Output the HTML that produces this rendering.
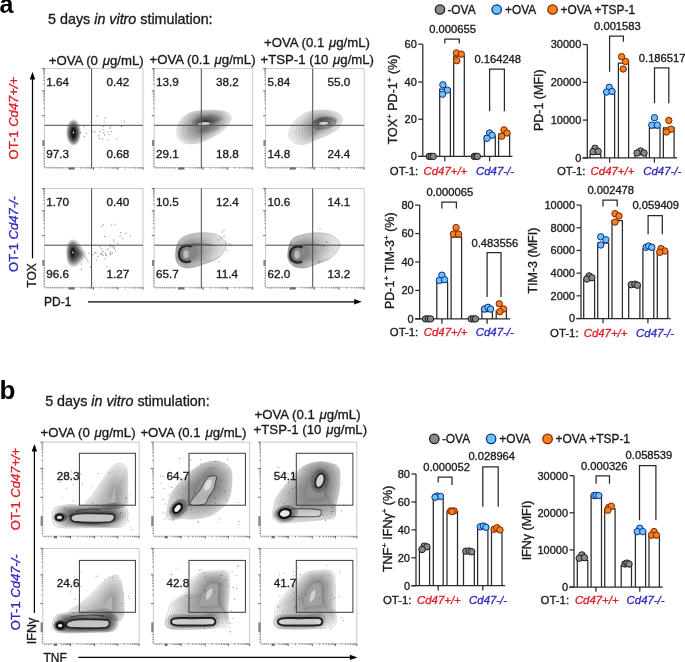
<!DOCTYPE html>
<html><head><meta charset="utf-8"><style>
html,body{margin:0;padding:0;background:#fff;}
svg{display:block;}
text{font-family:"Liberation Sans", Arial, sans-serif;stroke-width:0.33px;}
</style></head><body>
<svg width="685" height="662" viewBox="0 0 685 662">
<defs><filter id="soft" x="-10%" y="-10%" width="120%" height="120%"><feGaussianBlur stdDeviation="0.3"/></filter></defs>
<rect width="685" height="662" fill="#fff"/>
<rect x="44.5" y="68.6" width="98.5" height="98.8" fill="#fff" stroke="#c4c4c4" stroke-width="0.9"/>
<path d="M42.1,68.6h2.4M42.1,90.8h2.4M42.1,115.7h2.4M93.5,167.4v2.4M118.0,167.4v2.4M143.0,167.4v2.4" stroke="#333" stroke-width="0.75" fill="none"/>
<path d="M43.2,84.1h1.3M43.2,80.2h1.3M43.2,77.4h1.3M43.2,75.3h1.3M43.2,73.5h1.3M43.2,72.0h1.3M43.2,70.8h1.3M43.2,69.6h1.3M43.2,108.2h1.3M43.2,103.8h1.3M43.2,100.7h1.3M43.2,98.3h1.3M43.2,96.3h1.3M43.2,94.7h1.3M43.2,93.2h1.3M43.2,91.9h1.3M43.2,148.1h1.3M43.2,150.7h1.3M43.2,153.3h1.3M43.2,155.9h1.3M43.2,158.5h1.3M43.2,161.1h1.3M43.2,163.7h1.3M43.2,166.3h1.3M80.6,167.4v1.3M83.8,167.4v1.3M86.1,167.4v1.3M87.9,167.4v1.3M89.4,167.4v1.3M90.6,167.4v1.3M91.7,167.4v1.3M92.7,167.4v1.3M100.9,167.4v1.3M105.2,167.4v1.3M108.3,167.4v1.3M110.6,167.4v1.3M112.6,167.4v1.3M114.2,167.4v1.3M115.6,167.4v1.3M116.9,167.4v1.3M125.5,167.4v1.3M129.9,167.4v1.3M133.1,167.4v1.3M135.5,167.4v1.3M137.5,167.4v1.3M139.1,167.4v1.3M140.6,167.4v1.3M141.9,167.4v1.3M46.0,167.4v1.3M48.2,167.4v1.3M50.4,167.4v1.3M52.6,167.4v1.3M54.8,167.4v1.3M57.0,167.4v1.3M59.2,167.4v1.3M61.4,167.4v1.3M63.6,167.4v1.3M65.8,167.4v1.3" stroke="#444" stroke-width="0.6" fill="none"/>
<rect x="42.3" y="140.1" width="2.2" height="6.0" fill="#222" fill-opacity="0.55"/>
<rect x="68.3" y="167.4" width="6.5" height="2.2" fill="#222" fill-opacity="0.65"/>
<g filter="url(#soft)">
<path d="M99.4,131.2h1.0v1.0h-1.0zM109.7,126.2h1.0v1.0h-1.0zM103.2,132.1h1.0v1.0h-1.0zM94.4,131.2h1.0v1.0h-1.0zM109.7,127.7h1.0v1.0h-1.0zM83.1,126.3h1.0v1.0h-1.0zM94.5,131.6h1.0v1.0h-1.0zM97.9,135.3h1.0v1.0h-1.0zM79.9,132.0h1.0v1.0h-1.0zM108.8,133.9h1.0v1.0h-1.0zM104.0,134.4h1.0v1.0h-1.0zM83.9,136.0h1.0v1.0h-1.0zM99.3,131.6h1.0v1.0h-1.0zM107.4,131.6h1.0v1.0h-1.0zM86.2,133.3h1.0v1.0h-1.0zM107.4,139.8h1.0v1.0h-1.0zM101.9,138.5h1.0v1.0h-1.0zM110.9,131.1h1.0v1.0h-1.0zM98.9,138.0h1.0v1.0h-1.0zM116.4,138.6h1.0v1.0h-1.0zM123.7,121.3h1.0v1.0h-1.0zM104.5,117.8h1.0v1.0h-1.0zM96.7,115.2h1.0v1.0h-1.0zM102.3,129.2h1.0v1.0h-1.0zM91.6,131.1h1.0v1.0h-1.0zM103.7,121.6h1.0v1.0h-1.0zM121.0,126.0h1.0v1.0h-1.0zM102.9,126.0h1.0v1.0h-1.0z" fill="#000" fill-opacity="0.5"/>
<path d="M80.4,132.5C80.4,134.4 80.1,136.4 79.7,138.1C79.3,139.7 78.6,141.4 77.8,142.5C77.0,143.7 76.0,144.6 75.0,145.0C74.1,145.4 72.9,145.4 72.0,145.0C71.0,144.6 70.0,143.7 69.2,142.5C68.4,141.4 67.7,139.7 67.3,138.1C66.9,136.4 66.6,134.4 66.6,132.5C66.6,130.6 66.9,128.6 67.3,126.9C67.7,125.3 68.4,123.6 69.2,122.5C70.0,121.3 71.0,120.4 72.0,120.0C72.9,119.6 74.1,119.6 75.0,120.0C76.0,120.4 77.0,121.3 77.8,122.5C78.6,123.6 79.3,125.3 79.7,126.9C80.1,128.6 80.4,130.6 80.4,132.5Z" fill="#000" fill-opacity="0.120" stroke="#000" stroke-opacity="0.35" stroke-width="0.3"/>
<path d="M79.7,132.6C79.7,134.3 79.5,136.1 79.1,137.7C78.7,139.2 78.1,140.7 77.4,141.7C76.7,142.8 75.8,143.6 74.9,144.0C74.0,144.4 73.0,144.4 72.1,144.0C71.2,143.6 70.3,142.8 69.6,141.7C68.9,140.7 68.3,139.2 67.9,137.7C67.5,136.1 67.3,134.3 67.3,132.6C67.3,130.9 67.5,129.0 67.9,127.5C68.3,126.0 68.9,124.5 69.6,123.4C70.3,122.3 71.2,121.5 72.1,121.1C73.0,120.8 74.0,120.8 74.9,121.1C75.8,121.5 76.7,122.3 77.4,123.4C78.1,124.5 78.7,126.0 79.1,127.5C79.5,129.0 79.7,130.9 79.7,132.6Z" fill="#000" fill-opacity="0.120" stroke="#000" stroke-opacity="0.35" stroke-width="0.3"/>
<path d="M79.2,132.6C79.2,134.2 79.0,135.9 78.6,137.4C78.3,138.8 77.7,140.2 77.1,141.2C76.4,142.2 75.6,142.9 74.8,143.3C74.0,143.6 73.0,143.6 72.2,143.3C71.4,142.9 70.6,142.2 69.9,141.2C69.3,140.2 68.7,138.8 68.4,137.4C68.0,135.9 67.8,134.2 67.8,132.6C67.8,131.0 68.0,129.3 68.4,127.9C68.7,126.5 69.3,125.1 69.9,124.1C70.6,123.1 71.4,122.3 72.2,122.0C73.0,121.6 74.0,121.6 74.8,122.0C75.6,122.3 76.4,123.1 77.1,124.1C77.7,125.1 78.3,126.5 78.6,127.9C79.0,129.3 79.2,131.0 79.2,132.6Z" fill="#000" fill-opacity="0.120" stroke="#000" stroke-opacity="0.35" stroke-width="0.3"/>
<path d="M78.7,132.7C78.7,134.2 78.5,135.8 78.2,137.1C77.9,138.4 77.4,139.7 76.8,140.7C76.2,141.6 75.4,142.3 74.7,142.6C73.9,143.0 73.1,143.0 72.3,142.6C71.6,142.3 70.8,141.6 70.2,140.7C69.6,139.7 69.1,138.4 68.8,137.1C68.5,135.8 68.3,134.2 68.3,132.7C68.3,131.2 68.5,129.6 68.8,128.2C69.1,126.9 69.6,125.6 70.2,124.7C70.8,123.8 71.6,123.0 72.3,122.7C73.1,122.4 73.9,122.4 74.7,122.7C75.4,123.0 76.2,123.8 76.8,124.7C77.4,125.6 77.9,126.9 78.2,128.2C78.5,129.6 78.7,131.2 78.7,132.7Z" fill="#000" fill-opacity="0.120" stroke="#000" stroke-opacity="0.35" stroke-width="0.3"/>
<path d="M78.3,132.7C78.3,134.1 78.1,135.6 77.8,136.9C77.5,138.1 77.0,139.3 76.5,140.2C76.0,141.1 75.2,141.7 74.6,142.0C73.9,142.3 73.1,142.3 72.4,142.0C71.8,141.7 71.0,141.1 70.5,140.2C70.0,139.3 69.5,138.1 69.2,136.9C68.9,135.6 68.7,134.1 68.7,132.7C68.7,131.3 68.9,129.8 69.2,128.6C69.5,127.3 70.0,126.1 70.5,125.3C71.0,124.4 71.8,123.7 72.4,123.4C73.1,123.1 73.9,123.1 74.6,123.4C75.2,123.7 76.0,124.4 76.5,125.3C77.0,126.1 77.5,127.3 77.8,128.6C78.1,129.8 78.3,131.3 78.3,132.7Z" fill="#000" fill-opacity="0.120" stroke="#000" stroke-opacity="0.35" stroke-width="0.3"/>
<path d="M77.9,132.8C77.9,134.1 77.7,135.5 77.5,136.6C77.2,137.8 76.7,138.9 76.2,139.7C75.7,140.5 75.1,141.2 74.5,141.5C73.9,141.7 73.1,141.7 72.5,141.5C71.9,141.2 71.3,140.5 70.8,139.7C70.3,138.9 69.8,137.8 69.5,136.6C69.3,135.5 69.1,134.1 69.1,132.8C69.1,131.5 69.3,130.1 69.5,128.9C69.8,127.7 70.3,126.6 70.8,125.8C71.3,125.0 71.9,124.4 72.5,124.1C73.1,123.8 73.9,123.8 74.5,124.1C75.1,124.4 75.7,125.0 76.2,125.8C76.7,126.6 77.2,127.7 77.5,128.9C77.7,130.1 77.9,131.5 77.9,132.8Z" fill="#000" fill-opacity="0.120" stroke="#000" stroke-opacity="0.35" stroke-width="0.3"/>
<path d="M77.5,132.8C77.5,134.0 77.4,135.3 77.1,136.4C76.9,137.5 76.5,138.6 76.0,139.3C75.5,140.0 75.0,140.6 74.4,140.9C73.8,141.2 73.2,141.2 72.6,140.9C72.0,140.6 71.5,140.0 71.0,139.3C70.5,138.6 70.1,137.5 69.9,136.4C69.6,135.3 69.5,134.0 69.5,132.8C69.5,131.6 69.6,130.3 69.9,129.2C70.1,128.1 70.5,127.1 71.0,126.3C71.5,125.6 72.0,125.0 72.6,124.7C73.2,124.4 73.8,124.4 74.4,124.7C75.0,125.0 75.5,125.6 76.0,126.3C76.5,127.1 76.9,128.1 77.1,129.2C77.4,130.3 77.5,131.6 77.5,132.8Z" fill="#000" fill-opacity="0.120" stroke="#000" stroke-opacity="0.35" stroke-width="0.3"/>
<path d="M77.1,132.8C77.1,134.0 77.0,135.2 76.8,136.2C76.5,137.2 76.2,138.2 75.8,138.9C75.4,139.6 74.8,140.1 74.3,140.4C73.8,140.6 73.2,140.6 72.7,140.4C72.2,140.1 71.6,139.6 71.2,138.9C70.8,138.2 70.5,137.2 70.2,136.2C70.0,135.2 69.9,134.0 69.9,132.8C69.9,131.7 70.0,130.5 70.2,129.5C70.5,128.5 70.8,127.5 71.2,126.8C71.6,126.1 72.2,125.6 72.7,125.3C73.2,125.1 73.8,125.1 74.3,125.3C74.8,125.6 75.4,126.1 75.8,126.8C76.2,127.5 76.5,128.5 76.8,129.5C77.0,130.5 77.1,131.7 77.1,132.8Z" fill="#000" fill-opacity="0.120" stroke="#000" stroke-opacity="0.35" stroke-width="0.3"/>
<path d="M76.8,132.9C76.8,133.9 76.6,135.1 76.4,136.0C76.2,136.9 75.9,137.8 75.5,138.5C75.2,139.1 74.7,139.6 74.2,139.9C73.8,140.1 73.2,140.1 72.8,139.9C72.3,139.6 71.8,139.1 71.5,138.5C71.1,137.8 70.8,136.9 70.6,136.0C70.4,135.1 70.2,133.9 70.2,132.9C70.2,131.9 70.4,130.7 70.6,129.8C70.8,128.9 71.1,127.9 71.5,127.3C71.8,126.7 72.3,126.2 72.8,125.9C73.2,125.7 73.8,125.7 74.2,125.9C74.7,126.2 75.2,126.7 75.5,127.3C75.9,127.9 76.2,128.9 76.4,129.8C76.6,130.7 76.8,131.9 76.8,132.9Z" fill="#000" fill-opacity="0.120" stroke="#000" stroke-opacity="0.35" stroke-width="0.3"/>
<path d="M76.4,132.9C76.4,133.9 76.3,134.9 76.1,135.8C75.9,136.6 75.6,137.5 75.3,138.1C75.0,138.7 74.6,139.1 74.1,139.3C73.7,139.6 73.3,139.6 72.9,139.3C72.4,139.1 72.0,138.7 71.7,138.1C71.4,137.5 71.1,136.6 70.9,135.8C70.7,134.9 70.6,133.9 70.6,132.9C70.6,132.0 70.7,130.9 70.9,130.1C71.1,129.2 71.4,128.4 71.7,127.8C72.0,127.2 72.4,126.7 72.9,126.5C73.3,126.3 73.7,126.3 74.1,126.5C74.6,126.7 75.0,127.2 75.3,127.8C75.6,128.4 75.9,129.2 76.1,130.1C76.3,130.9 76.4,132.0 76.4,132.9Z" fill="#000" fill-opacity="0.120" stroke="#000" stroke-opacity="0.35" stroke-width="0.3"/>
<path d="M76.0,133.0C76.0,133.8 76.0,134.8 75.8,135.6C75.6,136.4 75.4,137.1 75.1,137.7C74.8,138.2 74.4,138.7 74.1,138.8C73.7,139.0 73.3,139.0 72.9,138.8C72.6,138.7 72.2,138.2 71.9,137.7C71.6,137.1 71.4,136.4 71.2,135.6C71.0,134.8 71.0,133.8 71.0,133.0C71.0,132.1 71.0,131.1 71.2,130.3C71.4,129.6 71.6,128.8 71.9,128.2C72.2,127.7 72.6,127.3 72.9,127.1C73.3,126.9 73.7,126.9 74.1,127.1C74.4,127.3 74.8,127.7 75.1,128.2C75.4,128.8 75.6,129.6 75.8,130.3C76.0,131.1 76.0,132.1 76.0,133.0Z" fill="#000" fill-opacity="0.120" stroke="#000" stroke-opacity="0.35" stroke-width="0.3"/>
<path d="M75.7,133.0C75.7,133.8 75.6,134.7 75.5,135.4C75.3,136.1 75.1,136.8 74.9,137.3C74.6,137.8 74.3,138.2 74.0,138.4C73.7,138.5 73.3,138.5 73.0,138.4C72.7,138.2 72.4,137.8 72.1,137.3C71.9,136.8 71.7,136.1 71.5,135.4C71.4,134.7 71.3,133.8 71.3,133.0C71.3,132.2 71.4,131.3 71.5,130.6C71.7,129.9 71.9,129.2 72.1,128.7C72.4,128.2 72.7,127.8 73.0,127.6C73.3,127.5 73.7,127.5 74.0,127.6C74.3,127.8 74.6,128.2 74.9,128.7C75.1,129.2 75.3,129.9 75.5,130.6C75.6,131.3 75.7,132.2 75.7,133.0Z" fill="#000" fill-opacity="0.120" stroke="#000" stroke-opacity="0.35" stroke-width="0.3"/>
<ellipse cx="73.5" cy="133.0" rx="2.2" ry="5.5" fill="#000" fill-opacity="0.55"/>
<ellipse cx="73.5" cy="132.5" rx="0.7" ry="1.0" fill="#fff" fill-opacity="0.85"/>
</g>
<line x1="91.60" y1="68.60" x2="91.60" y2="167.40" stroke="#4a4a4a" stroke-width="1.0" />
<line x1="44.50" y1="125.30" x2="143.00" y2="125.30" stroke="#4a4a4a" stroke-width="1.0" />
<text x="46.3" y="85.8" font-size="11.7" text-anchor="start" fill="#1a1a1a" stroke="#1a1a1a" >1.64</text>
<text x="106.4" y="85.8" font-size="11.7" text-anchor="start" fill="#1a1a1a" stroke="#1a1a1a" >0.42</text>
<text x="46.3" y="157.6" font-size="11.7" text-anchor="start" fill="#1a1a1a" stroke="#1a1a1a" >97.3</text>
<text x="106.4" y="157.6" font-size="11.7" text-anchor="start" fill="#1a1a1a" stroke="#1a1a1a" >0.68</text>
<rect x="154.2" y="68.6" width="98.5" height="98.8" fill="#fff" stroke="#c4c4c4" stroke-width="0.9"/>
<path d="M151.8,68.6h2.4M151.8,90.8h2.4M151.8,115.7h2.4M203.2,167.4v2.4M227.7,167.4v2.4M252.7,167.4v2.4" stroke="#333" stroke-width="0.75" fill="none"/>
<path d="M152.9,84.1h1.3M152.9,80.2h1.3M152.9,77.4h1.3M152.9,75.3h1.3M152.9,73.5h1.3M152.9,72.0h1.3M152.9,70.8h1.3M152.9,69.6h1.3M152.9,108.2h1.3M152.9,103.8h1.3M152.9,100.7h1.3M152.9,98.3h1.3M152.9,96.3h1.3M152.9,94.7h1.3M152.9,93.2h1.3M152.9,91.9h1.3M152.9,148.1h1.3M152.9,150.7h1.3M152.9,153.3h1.3M152.9,155.9h1.3M152.9,158.5h1.3M152.9,161.1h1.3M152.9,163.7h1.3M152.9,166.3h1.3M190.3,167.4v1.3M193.5,167.4v1.3M195.8,167.4v1.3M197.6,167.4v1.3M199.1,167.4v1.3M200.3,167.4v1.3M201.4,167.4v1.3M202.4,167.4v1.3M210.6,167.4v1.3M214.9,167.4v1.3M218.0,167.4v1.3M220.3,167.4v1.3M222.3,167.4v1.3M223.9,167.4v1.3M225.3,167.4v1.3M226.6,167.4v1.3M235.2,167.4v1.3M239.6,167.4v1.3M242.8,167.4v1.3M245.2,167.4v1.3M247.2,167.4v1.3M248.8,167.4v1.3M250.3,167.4v1.3M251.6,167.4v1.3M155.7,167.4v1.3M157.9,167.4v1.3M160.1,167.4v1.3M162.3,167.4v1.3M164.5,167.4v1.3M166.7,167.4v1.3M168.9,167.4v1.3M171.1,167.4v1.3M173.3,167.4v1.3M175.5,167.4v1.3" stroke="#444" stroke-width="0.6" fill="none"/>
<rect x="152.0" y="140.1" width="2.2" height="6.0" fill="#222" fill-opacity="0.55"/>
<rect x="178.0" y="167.4" width="6.5" height="2.2" fill="#222" fill-opacity="0.65"/>
<g filter="url(#soft)">
<path d="M176.8,131.3C176.8,128.7 177.1,126.1 178.5,123.5C179.9,120.9 182.4,117.5 185.0,115.5C187.6,113.5 190.7,112.4 194.0,111.5C197.3,110.6 201.2,110.4 205.0,110.2C208.8,110.0 213.5,109.9 217.0,110.2C220.5,110.5 223.7,110.8 226.0,111.8C228.3,112.8 230.4,114.5 231.0,116.4C231.6,118.3 230.8,120.7 229.5,123.0C228.2,125.3 225.9,128.1 223.0,130.5C220.1,132.9 216.2,135.4 212.0,137.5C207.8,139.6 202.3,142.3 198.0,143.3C193.7,144.3 189.2,144.2 186.0,143.5C182.8,142.8 180.0,141.0 178.5,139.0C177.0,137.0 176.8,133.9 176.8,131.3Z" fill="#000" fill-opacity="0.060" stroke="#000" stroke-opacity="0.38" stroke-width="0.32"/>
<path d="M178.5,130.8C178.6,128.3 178.9,125.9 180.1,123.4C181.4,120.9 183.8,117.7 186.2,115.8C188.7,113.9 191.5,112.8 194.7,112.0C197.8,111.2 201.4,111.0 205.0,110.8C208.6,110.6 213.0,110.5 216.3,110.8C219.6,111.0 222.6,111.3 224.8,112.3C227.0,113.3 228.9,114.9 229.5,116.6C230.1,118.4 229.3,120.7 228.1,122.9C226.8,125.1 224.7,127.7 222.0,130.0C219.3,132.3 215.6,134.7 211.7,136.7C207.7,138.7 202.5,141.3 198.5,142.2C194.4,143.2 190.2,143.1 187.2,142.4C184.1,141.7 181.5,140.1 180.1,138.1C178.7,136.2 178.5,133.3 178.5,130.8Z" fill="#000" fill-opacity="0.064" stroke="#000" stroke-opacity="0.38" stroke-width="0.32"/>
<path d="M180.8,130.2C180.8,127.9 181.1,125.6 182.3,123.2C183.4,120.9 185.6,117.9 187.8,116.1C190.0,114.4 192.7,113.4 195.5,112.6C198.4,111.9 201.6,111.7 204.9,111.5C208.2,111.4 212.3,111.3 215.3,111.5C218.4,111.8 221.1,112.0 223.1,112.9C225.2,113.8 227.0,115.3 227.5,117.0C228.1,118.6 227.4,120.7 226.3,122.8C225.1,124.8 223.2,127.3 220.7,129.4C218.2,131.6 214.8,133.7 211.2,135.6C207.6,137.5 202.8,139.9 199.0,140.8C195.3,141.7 191.5,141.7 188.7,141.0C185.8,140.4 183.5,138.8 182.2,137.0C180.9,135.2 180.8,132.4 180.8,130.2Z" fill="#000" fill-opacity="0.068" stroke="#000" stroke-opacity="0.38" stroke-width="0.32"/>
<path d="M183.3,129.4C183.3,127.3 183.6,125.2 184.6,123.1C185.7,120.9 187.6,118.2 189.6,116.5C191.6,114.9 193.9,114.1 196.5,113.4C199.0,112.7 201.9,112.6 204.9,112.4C207.9,112.2 211.5,112.2 214.3,112.4C217.0,112.6 219.5,112.8 221.3,113.6C223.2,114.4 224.9,115.8 225.4,117.3C225.9,118.8 225.3,120.7 224.3,122.6C223.2,124.5 221.5,126.8 219.3,128.7C217.0,130.7 214.0,132.7 210.7,134.5C207.4,136.2 203.1,138.5 199.7,139.3C196.3,140.1 192.8,140.1 190.3,139.5C187.8,138.9 185.7,137.4 184.5,135.8C183.4,134.1 183.3,131.5 183.3,129.4Z" fill="#000" fill-opacity="0.072" stroke="#000" stroke-opacity="0.38" stroke-width="0.32"/>
<path d="M186.0,128.7C186.0,126.7 186.2,124.8 187.1,122.9C188.0,120.9 189.8,118.4 191.5,117.0C193.2,115.5 195.2,114.7 197.5,114.1C199.7,113.5 202.2,113.4 204.9,113.3C207.5,113.2 210.7,113.1 213.2,113.3C215.6,113.5 217.8,113.6 219.4,114.4C221.1,115.1 222.6,116.3 223.0,117.7C223.5,119.0 223.0,120.8 222.1,122.5C221.2,124.2 219.7,126.2 217.7,128.0C215.7,129.8 213.1,131.6 210.2,133.2C207.3,134.8 203.4,136.9 200.4,137.6C197.4,138.4 194.3,138.3 192.1,137.8C189.9,137.3 188.0,136.0 187.0,134.4C186.0,132.9 186.0,130.6 186.0,128.7Z" fill="#000" fill-opacity="0.076" stroke="#000" stroke-opacity="0.38" stroke-width="0.32"/>
<path d="M188.9,127.9C188.9,126.1 189.0,124.4 189.8,122.7C190.6,121.0 192.0,118.7 193.5,117.4C195.0,116.1 196.6,115.5 198.5,114.9C200.4,114.4 202.6,114.4 204.8,114.2C207.1,114.1 209.9,114.1 212.0,114.2C214.1,114.4 216.0,114.5 217.4,115.1C218.8,115.8 220.2,116.9 220.6,118.1C221.0,119.3 220.6,120.8 219.8,122.3C219.1,123.8 217.8,125.6 216.1,127.2C214.4,128.8 212.1,130.5 209.6,131.9C207.1,133.4 203.7,135.2 201.1,135.9C198.5,136.6 195.9,136.5 194.0,136.1C192.1,135.6 190.5,134.4 189.6,133.0C188.8,131.7 188.8,129.6 188.9,127.9Z" fill="#000" fill-opacity="0.080" stroke="#000" stroke-opacity="0.38" stroke-width="0.32"/>
<path d="M191.8,127.0C191.8,125.5 191.9,124.0 192.5,122.5C193.2,121.0 194.4,119.0 195.6,117.9C196.8,116.8 198.1,116.2 199.6,115.8C201.2,115.3 202.9,115.3 204.8,115.2C206.6,115.1 209.0,115.1 210.7,115.2C212.5,115.3 214.1,115.4 215.3,116.0C216.5,116.5 217.7,117.4 218.1,118.5C218.4,119.5 218.1,120.8 217.5,122.1C216.9,123.5 215.8,125.0 214.4,126.4C213.0,127.8 211.1,129.3 209.0,130.5C206.9,131.8 204.1,133.5 201.9,134.1C199.7,134.7 197.5,134.7 195.9,134.2C194.3,133.8 193.0,132.8 192.4,131.6C191.7,130.4 191.8,128.5 191.8,127.0Z" fill="#000" fill-opacity="0.084" stroke="#000" stroke-opacity="0.38" stroke-width="0.32"/>
<path d="M194.9,126.1C194.9,124.8 194.9,123.6 195.4,122.3C195.9,121.0 196.8,119.3 197.7,118.4C198.6,117.4 199.6,117.0 200.8,116.7C201.9,116.3 203.3,116.3 204.7,116.3C206.2,116.2 208.1,116.2 209.5,116.2C210.9,116.3 212.1,116.4 213.1,116.8C214.1,117.3 215.1,118.0 215.4,118.9C215.7,119.7 215.5,120.9 215.0,122.0C214.6,123.1 213.8,124.4 212.7,125.6C211.6,126.8 210.1,128.0 208.4,129.1C206.8,130.2 204.4,131.7 202.7,132.2C200.9,132.8 199.2,132.7 197.9,132.4C196.7,132.0 195.7,131.1 195.2,130.1C194.7,129.0 194.8,127.4 194.9,126.1Z" fill="#000" fill-opacity="0.088" stroke="#000" stroke-opacity="0.38" stroke-width="0.32"/>
<path d="M198.0,125.2C198.0,124.2 198.0,123.2 198.3,122.1C198.7,121.1 199.3,119.6 199.9,118.9C200.5,118.1 201.2,117.8 202.0,117.6C202.7,117.3 203.6,117.3 204.7,117.3C205.7,117.3 207.1,117.2 208.2,117.3C209.2,117.4 210.1,117.3 210.9,117.7C211.7,118.0 212.5,118.6 212.7,119.3C213.0,120.0 212.8,120.9 212.5,121.8C212.2,122.7 211.7,123.8 210.9,124.8C210.1,125.8 209.0,126.8 207.8,127.7C206.6,128.6 204.8,129.9 203.5,130.3C202.2,130.8 200.9,130.7 200.0,130.4C199.1,130.1 198.4,129.4 198.1,128.5C197.7,127.6 197.9,126.3 198.0,125.2Z" fill="#000" fill-opacity="0.092" stroke="#000" stroke-opacity="0.38" stroke-width="0.32"/>
<path d="M201.2,124.3C201.3,123.5 201.2,122.7 201.3,121.9C201.5,121.1 201.9,120.0 202.2,119.4C202.5,118.8 202.8,118.6 203.2,118.5C203.6,118.3 204.0,118.4 204.6,118.4C205.2,118.4 206.2,118.3 206.8,118.4C207.5,118.4 208.1,118.3 208.6,118.6C209.1,118.8 209.7,119.2 210.0,119.8C210.2,120.3 210.1,120.9 209.9,121.6C209.8,122.3 209.5,123.1 209.0,123.9C208.6,124.7 208.0,125.4 207.2,126.2C206.4,126.9 205.2,128.0 204.3,128.3C203.5,128.7 202.7,128.7 202.1,128.4C201.6,128.2 201.2,127.6 201.0,126.9C200.9,126.2 201.2,125.2 201.2,124.3Z" fill="#000" fill-opacity="0.096" stroke="#000" stroke-opacity="0.38" stroke-width="0.32"/>
<path d="M204.5,123.4C204.6,122.8 204.4,122.3 204.4,121.7C204.4,121.1 204.5,120.3 204.5,119.9C204.5,119.5 204.4,119.5 204.4,119.4C204.4,119.3 204.4,119.5 204.6,119.5C204.7,119.5 205.2,119.5 205.5,119.5C205.7,119.5 206.0,119.4 206.3,119.5C206.5,119.6 206.9,119.9 207.1,120.2C207.3,120.5 207.3,121.0 207.3,121.4C207.3,121.9 207.3,122.5 207.2,123.0C207.0,123.5 206.8,124.1 206.5,124.7C206.2,125.2 205.6,126.0 205.2,126.3C204.8,126.6 204.5,126.6 204.3,126.4C204.1,126.2 204.0,125.8 204.1,125.3C204.1,124.8 204.4,124.0 204.5,123.4Z" fill="#000" fill-opacity="0.100" stroke="#000" stroke-opacity="0.38" stroke-width="0.32"/>
<path d="M207.9,122.4C207.9,122.1 207.7,121.8 207.6,121.5C207.4,121.1 207.2,120.6 206.9,120.5C206.6,120.3 206.1,120.3 205.7,120.4C205.3,120.4 204.8,120.6 204.5,120.6C204.3,120.7 204.2,120.6 204.1,120.6C204.0,120.6 203.8,120.4 203.9,120.4C203.9,120.4 204.1,120.5 204.2,120.7C204.3,120.8 204.4,121.0 204.6,121.2C204.8,121.5 205.0,121.8 205.3,122.1C205.5,122.4 205.7,122.7 205.9,123.1C206.0,123.5 205.9,124.1 206.1,124.3C206.2,124.5 206.3,124.5 206.5,124.3C206.7,124.2 207.0,123.9 207.2,123.6C207.4,123.3 207.8,122.8 207.9,122.4Z" fill="#000" fill-opacity="0.104" stroke="#000" stroke-opacity="0.38" stroke-width="0.32"/>
<path d="M211.3,121.4C211.3,121.3 211.1,121.3 210.8,121.2C210.4,121.2 209.9,121.0 209.3,121.0C208.7,121.0 207.7,121.2 206.9,121.4C206.1,121.5 205.2,121.7 204.5,121.8C203.8,121.8 203.1,121.8 202.6,121.7C202.1,121.7 201.7,121.5 201.4,121.4C201.2,121.3 201.2,121.2 201.3,121.1C201.3,121.1 201.5,121.0 201.8,121.0C202.2,121.1 202.7,121.1 203.3,121.2C203.9,121.3 204.6,121.4 205.2,121.5C205.8,121.7 206.3,122.1 206.9,122.2C207.5,122.3 208.2,122.3 208.8,122.2C209.3,122.2 209.9,122.1 210.3,121.9C210.8,121.8 211.2,121.6 211.3,121.4Z" fill="#000" fill-opacity="0.108" stroke="#000" stroke-opacity="0.38" stroke-width="0.32"/>
<path d="M214.7,120.4C214.8,120.6 214.5,120.8 214.0,121.0C213.5,121.2 212.7,121.3 211.7,121.5C210.8,121.8 209.5,122.1 208.2,122.3C207.0,122.6 205.6,122.8 204.4,122.9C203.2,123.0 202.1,123.0 201.2,122.9C200.3,122.8 199.4,122.6 199.0,122.3C198.5,122.1 198.3,121.9 198.3,121.6C198.3,121.4 198.5,121.1 199.0,120.9C199.6,120.6 200.4,120.4 201.3,120.2C202.2,120.1 203.4,119.9 204.5,119.9C205.6,119.9 206.8,120.0 207.8,120.0C208.9,120.1 210.1,120.1 211.1,120.1C212.0,120.1 212.9,120.1 213.5,120.2C214.2,120.3 214.7,120.3 214.7,120.4Z" fill="#000" fill-opacity="0.112" stroke="#000" stroke-opacity="0.38" stroke-width="0.32"/>
<path d="M218.3,119.4C218.4,119.8 218.0,120.3 217.3,120.8C216.6,121.2 215.5,121.7 214.2,122.1C212.9,122.5 211.2,123.0 209.6,123.4C207.9,123.7 206.0,124.0 204.4,124.1C202.7,124.2 201.0,124.2 199.7,124.1C198.4,124.0 197.2,123.7 196.4,123.3C195.7,123.0 195.3,122.5 195.2,122.1C195.2,121.7 195.5,121.1 196.2,120.7C196.9,120.2 198.0,119.7 199.3,119.3C200.6,118.9 202.2,118.5 203.8,118.3C205.4,118.0 207.2,117.9 208.8,117.9C210.4,117.8 212.1,117.8 213.4,117.9C214.7,118.0 216.0,118.2 216.8,118.5C217.6,118.7 218.2,119.0 218.3,119.4Z" fill="#000" fill-opacity="0.116" stroke="#000" stroke-opacity="0.38" stroke-width="0.32"/>
<path d="M221.9,118.4C221.9,119.1 221.5,119.8 220.7,120.6C219.8,121.3 218.4,122.0 216.8,122.7C215.1,123.3 213.0,123.9 210.9,124.4C208.8,124.8 206.4,125.2 204.3,125.3C202.2,125.5 200.0,125.5 198.2,125.3C196.5,125.1 194.9,124.8 193.9,124.3C192.9,123.9 192.2,123.2 192.1,122.6C192.1,121.9 192.5,121.2 193.3,120.4C194.2,119.7 195.6,119.0 197.2,118.3C198.9,117.7 201.0,117.1 203.1,116.6C205.2,116.2 207.6,115.8 209.7,115.7C211.8,115.5 214.0,115.5 215.8,115.7C217.5,115.9 219.1,116.2 220.1,116.7C221.1,117.1 221.8,117.8 221.9,118.4Z" fill="#000" fill-opacity="0.120" stroke="#000" stroke-opacity="0.38" stroke-width="0.32"/>
<ellipse cx="209" cy="129.5" rx="11" ry="3" transform="rotate(-12 209 129.5)" fill="#000" fill-opacity="0.12"/>
<ellipse cx="204" cy="124" rx="6" ry="1.8" transform="rotate(-6 204 124)" fill="#fff" fill-opacity="0.75"/>
</g>
<line x1="201.30" y1="68.60" x2="201.30" y2="167.40" stroke="#4a4a4a" stroke-width="1.0" />
<line x1="154.20" y1="125.30" x2="252.70" y2="125.30" stroke="#4a4a4a" stroke-width="1.0" />
<text x="156.0" y="85.8" font-size="11.7" text-anchor="start" fill="#1a1a1a" stroke="#1a1a1a" >13.9</text>
<text x="216.1" y="85.8" font-size="11.7" text-anchor="start" fill="#1a1a1a" stroke="#1a1a1a" >38.2</text>
<text x="156.0" y="157.6" font-size="11.7" text-anchor="start" fill="#1a1a1a" stroke="#1a1a1a" >29.1</text>
<text x="216.1" y="157.6" font-size="11.7" text-anchor="start" fill="#1a1a1a" stroke="#1a1a1a" >18.8</text>
<rect x="265.6" y="68.6" width="98.5" height="98.8" fill="#fff" stroke="#c4c4c4" stroke-width="0.9"/>
<path d="M263.2,68.6h2.4M263.2,90.8h2.4M263.2,115.7h2.4M314.6,167.4v2.4M339.1,167.4v2.4M364.1,167.4v2.4" stroke="#333" stroke-width="0.75" fill="none"/>
<path d="M264.3,84.1h1.3M264.3,80.2h1.3M264.3,77.4h1.3M264.3,75.3h1.3M264.3,73.5h1.3M264.3,72.0h1.3M264.3,70.8h1.3M264.3,69.6h1.3M264.3,108.2h1.3M264.3,103.8h1.3M264.3,100.7h1.3M264.3,98.3h1.3M264.3,96.3h1.3M264.3,94.7h1.3M264.3,93.2h1.3M264.3,91.9h1.3M264.3,148.1h1.3M264.3,150.7h1.3M264.3,153.3h1.3M264.3,155.9h1.3M264.3,158.5h1.3M264.3,161.1h1.3M264.3,163.7h1.3M264.3,166.3h1.3M301.7,167.4v1.3M304.9,167.4v1.3M307.2,167.4v1.3M309.0,167.4v1.3M310.5,167.4v1.3M311.7,167.4v1.3M312.8,167.4v1.3M313.8,167.4v1.3M322.0,167.4v1.3M326.3,167.4v1.3M329.4,167.4v1.3M331.7,167.4v1.3M333.7,167.4v1.3M335.3,167.4v1.3M336.7,167.4v1.3M338.0,167.4v1.3M346.6,167.4v1.3M351.0,167.4v1.3M354.2,167.4v1.3M356.6,167.4v1.3M358.6,167.4v1.3M360.2,167.4v1.3M361.7,167.4v1.3M363.0,167.4v1.3M267.1,167.4v1.3M269.3,167.4v1.3M271.5,167.4v1.3M273.7,167.4v1.3M275.9,167.4v1.3M278.1,167.4v1.3M280.3,167.4v1.3M282.5,167.4v1.3M284.7,167.4v1.3M286.9,167.4v1.3" stroke="#444" stroke-width="0.6" fill="none"/>
<rect x="263.4" y="140.1" width="2.2" height="6.0" fill="#222" fill-opacity="0.55"/>
<rect x="289.4" y="167.4" width="6.5" height="2.2" fill="#222" fill-opacity="0.65"/>
<g filter="url(#soft)">
<path d="M288.7,133.7C288.9,131.2 289.9,127.6 291.5,125.0C293.1,122.4 295.4,120.1 298.0,118.0C300.6,115.9 303.7,113.8 307.0,112.5C310.3,111.2 314.0,110.5 318.0,110.2C322.0,109.9 327.3,110.1 331.0,110.8C334.7,111.5 338.1,113.1 340.0,114.5C341.9,115.9 342.4,117.3 342.3,119.4C342.2,121.5 341.4,124.7 339.5,127.0C337.6,129.3 334.6,131.5 331.0,133.5C327.4,135.5 322.1,137.3 318.0,139.0C313.9,140.7 310.1,143.1 306.6,143.9C303.1,144.7 299.7,144.7 297.0,144.0C294.3,143.3 291.9,141.7 290.5,140.0C289.1,138.3 288.5,136.2 288.7,133.7Z" fill="#000" fill-opacity="0.030" stroke="#000" stroke-opacity="0.4" stroke-width="0.32"/>
<path d="M290.6,133.2C290.7,130.8 291.8,127.4 293.2,124.9C294.7,122.4 296.9,120.2 299.4,118.2C301.8,116.3 304.7,114.2 307.8,113.0C311.0,111.8 314.4,111.1 318.2,110.8C322.0,110.6 327.0,110.7 330.5,111.4C334.0,112.1 337.2,113.5 339.0,114.9C340.8,116.3 341.3,117.6 341.2,119.5C341.1,121.5 340.3,124.5 338.5,126.8C336.7,129.0 333.9,131.0 330.5,132.9C327.1,134.8 322.0,136.5 318.1,138.2C314.3,139.8 310.7,142.1 307.4,142.8C304.1,143.6 300.9,143.6 298.4,143.0C295.8,142.3 293.5,140.8 292.2,139.1C290.9,137.5 290.4,135.5 290.6,133.2Z" fill="#000" fill-opacity="0.037" stroke="#000" stroke-opacity="0.4" stroke-width="0.32"/>
<path d="M293.0,132.5C293.2,130.2 294.1,127.0 295.5,124.7C296.8,122.4 298.9,120.4 301.1,118.5C303.3,116.7 306.0,114.8 308.9,113.7C311.8,112.5 315.0,111.9 318.4,111.6C321.9,111.4 326.6,111.5 329.8,112.2C333.1,112.8 336.1,114.2 337.7,115.4C339.4,116.7 339.8,117.9 339.7,119.7C339.6,121.6 338.9,124.4 337.2,126.5C335.6,128.6 332.9,130.4 329.8,132.2C326.6,134.0 321.9,135.5 318.3,137.1C314.8,138.6 311.5,140.7 308.4,141.5C305.4,142.2 302.4,142.2 300.1,141.6C297.8,141.0 295.7,139.6 294.5,138.0C293.3,136.5 292.8,134.7 293.0,132.5Z" fill="#000" fill-opacity="0.045" stroke="#000" stroke-opacity="0.4" stroke-width="0.32"/>
<path d="M295.7,131.7C295.8,129.6 296.7,126.7 297.9,124.6C299.2,122.4 301.0,120.6 303.1,118.9C305.1,117.2 307.5,115.4 310.1,114.4C312.7,113.3 315.5,112.8 318.7,112.5C321.9,112.3 326.2,112.4 329.1,113.0C332.1,113.6 334.8,114.9 336.3,116.0C337.8,117.2 338.2,118.3 338.1,119.9C338.0,121.6 337.3,124.2 335.8,126.1C334.3,128.1 331.9,129.8 329.0,131.4C326.1,133.0 321.8,134.5 318.5,135.9C315.3,137.3 312.3,139.3 309.6,140.0C306.8,140.7 304.2,140.6 302.1,140.1C300.0,139.6 298.1,138.2 297.0,136.8C296.0,135.4 295.5,133.7 295.7,131.7Z" fill="#000" fill-opacity="0.052" stroke="#000" stroke-opacity="0.4" stroke-width="0.32"/>
<path d="M298.6,130.9C298.7,129.0 299.5,126.3 300.6,124.4C301.7,122.4 303.4,120.8 305.1,119.2C306.9,117.7 309.0,116.1 311.4,115.2C313.7,114.2 316.2,113.7 319.0,113.5C321.9,113.3 325.7,113.4 328.4,113.9C331.0,114.4 333.5,115.6 334.8,116.6C336.1,117.7 336.4,118.6 336.3,120.2C336.2,121.7 335.6,124.1 334.3,125.8C332.9,127.5 330.7,129.1 328.2,130.5C325.6,132.0 321.7,133.3 318.8,134.6C315.9,135.9 313.2,137.7 310.8,138.3C308.3,139.0 306.0,138.9 304.1,138.5C302.3,138.0 300.6,136.8 299.7,135.5C298.8,134.2 298.4,132.7 298.6,130.9Z" fill="#000" fill-opacity="0.059" stroke="#000" stroke-opacity="0.4" stroke-width="0.32"/>
<path d="M301.6,130.0C301.7,128.3 302.4,125.9 303.4,124.2C304.4,122.4 305.8,121.0 307.3,119.6C308.9,118.2 310.7,116.8 312.7,116.0C314.7,115.1 316.9,114.7 319.3,114.5C321.8,114.3 325.2,114.4 327.5,114.9C329.9,115.3 332.0,116.4 333.2,117.3C334.4,118.2 334.6,119.1 334.5,120.4C334.4,121.8 333.9,123.9 332.7,125.4C331.5,127.0 329.6,128.3 327.3,129.6C325.0,130.9 321.5,132.1 319.0,133.3C316.5,134.4 314.2,136.1 312.1,136.6C310.0,137.2 307.9,137.2 306.3,136.8C304.8,136.3 303.3,135.3 302.5,134.1C301.7,133.0 301.4,131.6 301.6,130.0Z" fill="#000" fill-opacity="0.067" stroke="#000" stroke-opacity="0.4" stroke-width="0.32"/>
<path d="M304.7,129.1C304.9,127.6 305.5,125.5 306.3,124.0C307.1,122.5 308.3,121.2 309.6,120.0C310.9,118.8 312.4,117.6 314.1,116.8C315.8,116.1 317.6,115.7 319.7,115.5C321.8,115.4 324.7,115.5 326.7,115.9C328.7,116.3 330.5,117.2 331.5,118.0C332.5,118.8 332.7,119.5 332.6,120.7C332.5,121.8 332.1,123.7 331.0,125.0C330.0,126.4 328.3,127.6 326.4,128.7C324.4,129.8 321.4,130.8 319.2,131.8C317.1,132.9 315.2,134.3 313.4,134.9C311.6,135.4 310.0,135.4 308.6,135.0C307.3,134.6 306.1,133.7 305.5,132.7C304.8,131.7 304.6,130.5 304.7,129.1Z" fill="#000" fill-opacity="0.074" stroke="#000" stroke-opacity="0.4" stroke-width="0.32"/>
<path d="M308.0,128.1C308.1,126.9 308.7,125.1 309.3,123.8C310.0,122.5 311.0,121.4 312.0,120.4C313.0,119.4 314.2,118.3 315.5,117.7C316.9,117.1 318.3,116.8 320.0,116.6C321.7,116.5 324.2,116.6 325.8,116.9C327.5,117.2 329.0,118.0 329.8,118.7C330.6,119.4 330.7,119.9 330.6,120.9C330.5,121.9 330.2,123.5 329.3,124.6C328.4,125.8 327.1,126.8 325.4,127.7C323.8,128.7 321.3,129.5 319.5,130.4C317.7,131.3 316.2,132.6 314.8,133.0C313.4,133.5 312.0,133.5 311.0,133.2C309.9,132.9 309.0,132.0 308.5,131.2C308.0,130.4 307.9,129.4 308.0,128.1Z" fill="#000" fill-opacity="0.081" stroke="#000" stroke-opacity="0.4" stroke-width="0.32"/>
<path d="M311.4,127.2C311.5,126.2 311.9,124.6 312.4,123.6C312.9,122.5 313.7,121.6 314.4,120.8C315.2,120.0 316.0,119.1 317.0,118.6C318.0,118.1 319.0,117.8 320.3,117.7C321.7,117.6 323.6,117.7 324.9,118.0C326.2,118.2 327.4,118.9 328.0,119.4C328.6,119.9 328.7,120.4 328.6,121.2C328.5,122.0 328.2,123.3 327.5,124.2C326.8,125.1 325.8,125.9 324.5,126.7C323.2,127.5 321.1,128.2 319.8,128.9C318.4,129.6 317.3,130.7 316.2,131.1C315.2,131.5 314.2,131.5 313.4,131.3C312.7,131.0 312.0,130.4 311.6,129.7C311.3,129.0 311.2,128.2 311.4,127.2Z" fill="#000" fill-opacity="0.089" stroke="#000" stroke-opacity="0.4" stroke-width="0.32"/>
<path d="M314.8,126.2C314.9,125.4 315.2,124.2 315.6,123.3C315.9,122.5 316.4,121.9 316.9,121.2C317.4,120.6 317.9,119.9 318.5,119.5C319.1,119.1 319.8,119.0 320.7,118.9C321.6,118.8 323.1,118.8 324.0,119.0C324.9,119.3 325.8,119.8 326.2,120.2C326.6,120.6 326.6,120.8 326.5,121.4C326.4,122.0 326.2,123.1 325.7,123.8C325.2,124.5 324.4,125.1 323.5,125.7C322.5,126.3 321.0,126.8 320.0,127.4C319.1,128.0 318.4,128.9 317.7,129.2C317.0,129.5 316.4,129.5 315.9,129.4C315.4,129.2 315.0,128.6 314.8,128.1C314.7,127.6 314.7,127.0 314.8,126.2Z" fill="#000" fill-opacity="0.096" stroke="#000" stroke-opacity="0.4" stroke-width="0.32"/>
<path d="M318.3,125.2C318.4,124.6 318.7,123.7 318.8,123.1C319.0,122.5 319.2,122.1 319.5,121.7C319.7,121.2 319.8,120.7 320.1,120.5C320.3,120.2 320.6,120.1 321.1,120.0C321.6,120.0 322.5,120.0 323.1,120.2C323.6,120.3 324.1,120.7 324.4,120.9C324.6,121.2 324.4,121.3 324.4,121.7C324.3,122.1 324.2,122.9 323.8,123.4C323.5,123.8 323.0,124.2 322.5,124.6C321.9,125.0 320.9,125.4 320.3,125.8C319.8,126.2 319.5,127.0 319.2,127.2C318.9,127.5 318.6,127.5 318.5,127.4C318.3,127.3 318.1,126.9 318.1,126.5C318.1,126.1 318.2,125.7 318.3,125.2Z" fill="#000" fill-opacity="0.103" stroke="#000" stroke-opacity="0.4" stroke-width="0.32"/>
<path d="M321.9,124.1C322.0,123.8 322.1,123.2 322.2,122.9C322.2,122.5 322.1,122.3 322.1,122.1C322.0,121.9 321.8,121.6 321.6,121.4C321.5,121.3 321.3,121.3 321.4,121.2C321.5,121.2 321.9,121.2 322.1,121.3C322.3,121.4 322.5,121.6 322.5,121.7C322.5,121.8 322.3,121.8 322.2,122.0C322.1,122.2 322.1,122.7 321.9,122.9C321.8,123.2 321.6,123.3 321.4,123.5C321.2,123.8 320.7,123.9 320.6,124.2C320.5,124.5 320.6,125.0 320.7,125.2C320.8,125.4 320.9,125.4 321.1,125.4C321.2,125.3 321.3,125.1 321.5,124.9C321.6,124.7 321.8,124.5 321.9,124.1Z" fill="#000" fill-opacity="0.111" stroke="#000" stroke-opacity="0.4" stroke-width="0.32"/>
<path d="M325.6,123.1C325.7,123.0 325.7,122.7 325.5,122.7C325.4,122.6 325.1,122.6 324.7,122.5C324.3,122.5 323.7,122.4 323.3,122.4C322.8,122.4 322.2,122.4 321.8,122.5C321.4,122.5 321.3,122.4 321.1,122.4C320.9,122.5 320.7,122.5 320.5,122.5C320.3,122.5 320.1,122.3 320.0,122.3C319.9,122.3 319.9,122.4 320.0,122.5C320.1,122.5 320.2,122.4 320.4,122.5C320.5,122.5 320.6,122.5 320.9,122.6C321.2,122.7 321.8,123.0 322.2,123.2C322.7,123.3 323.3,123.3 323.7,123.3C324.2,123.3 324.6,123.3 324.9,123.2C325.2,123.2 325.5,123.2 325.6,123.1Z" fill="#000" fill-opacity="0.118" stroke="#000" stroke-opacity="0.4" stroke-width="0.32"/>
<path d="M329.3,122.0C329.4,122.2 329.3,122.2 329.0,122.4C328.6,122.6 328.1,122.8 327.4,123.0C326.7,123.2 325.8,123.3 324.9,123.4C324.0,123.5 323.0,123.7 322.2,123.7C321.4,123.7 320.7,123.7 320.1,123.6C319.5,123.6 319.0,123.5 318.6,123.3C318.2,123.1 317.8,122.8 317.7,122.6C317.6,122.4 317.8,122.2 318.0,122.0C318.3,121.8 318.8,121.5 319.3,121.3C319.8,121.2 320.4,121.0 321.2,120.9C321.9,120.9 322.9,121.0 323.8,121.1C324.7,121.1 325.7,121.2 326.4,121.2C327.2,121.3 327.9,121.4 328.3,121.5C328.8,121.7 329.2,121.9 329.3,122.0Z" fill="#000" fill-opacity="0.125" stroke="#000" stroke-opacity="0.4" stroke-width="0.32"/>
<path d="M333.1,120.9C333.2,121.3 332.9,121.7 332.4,122.2C332.0,122.6 331.1,123.1 330.1,123.5C329.1,123.8 327.8,124.2 326.6,124.4C325.3,124.7 323.8,124.9 322.6,124.9C321.3,125.0 320.1,125.0 319.1,124.8C318.1,124.7 317.2,124.4 316.6,124.1C316.0,123.8 315.5,123.3 315.4,122.9C315.3,122.4 315.6,122.0 316.0,121.5C316.5,121.1 317.3,120.6 318.2,120.2C319.1,119.8 320.2,119.4 321.4,119.2C322.6,119.0 324.1,119.0 325.4,118.9C326.7,118.9 328.1,119.0 329.1,119.1C330.2,119.3 331.2,119.5 331.9,119.8C332.5,120.1 333.0,120.5 333.1,120.9Z" fill="#000" fill-opacity="0.133" stroke="#000" stroke-opacity="0.4" stroke-width="0.32"/>
<path d="M336.9,119.8C337.0,120.5 336.6,121.2 336.0,121.9C335.3,122.6 334.2,123.4 332.9,123.9C331.6,124.5 329.9,125.1 328.3,125.5C326.6,125.9 324.7,126.1 323.0,126.2C321.3,126.3 319.5,126.2 318.1,126.0C316.7,125.8 315.4,125.4 314.6,124.9C313.7,124.5 313.2,123.8 313.1,123.2C313.0,122.5 313.4,121.8 314.0,121.1C314.7,120.4 315.8,119.6 317.1,119.1C318.4,118.5 320.1,117.9 321.7,117.5C323.4,117.1 325.3,116.9 327.0,116.8C328.7,116.7 330.5,116.8 331.9,117.0C333.3,117.2 334.6,117.6 335.4,118.1C336.3,118.5 336.8,119.2 336.9,119.8Z" fill="#000" fill-opacity="0.140" stroke="#000" stroke-opacity="0.4" stroke-width="0.32"/>
<ellipse cx="324" cy="123.3" rx="11.5" ry="5" transform="rotate(-8 324 123.3)" fill="#fff" fill-opacity="0.0" stroke="#000" stroke-opacity="0.2" stroke-width="2.0"/>
<ellipse cx="323.5" cy="123.3" rx="4.5" ry="1.6" transform="rotate(-5 323.5 123.3)" fill="#fff" fill-opacity="0.75"/>
</g>
<line x1="312.70" y1="68.60" x2="312.70" y2="167.40" stroke="#4a4a4a" stroke-width="1.0" />
<line x1="265.60" y1="125.30" x2="364.10" y2="125.30" stroke="#4a4a4a" stroke-width="1.0" />
<text x="267.4" y="85.8" font-size="11.7" text-anchor="start" fill="#1a1a1a" stroke="#1a1a1a" >5.84</text>
<text x="327.5" y="85.8" font-size="11.7" text-anchor="start" fill="#1a1a1a" stroke="#1a1a1a" >55.0</text>
<text x="267.4" y="157.6" font-size="11.7" text-anchor="start" fill="#1a1a1a" stroke="#1a1a1a" >14.8</text>
<text x="327.5" y="157.6" font-size="11.7" text-anchor="start" fill="#1a1a1a" stroke="#1a1a1a" >24.4</text>
<rect x="44.5" y="188.5" width="98.5" height="98.8" fill="#fff" stroke="#c4c4c4" stroke-width="0.9"/>
<path d="M42.1,188.5h2.4M42.1,210.7h2.4M42.1,235.6h2.4M93.5,287.3v2.4M118.0,287.3v2.4M143.0,287.3v2.4" stroke="#333" stroke-width="0.75" fill="none"/>
<path d="M43.2,204.0h1.3M43.2,200.1h1.3M43.2,197.3h1.3M43.2,195.2h1.3M43.2,193.4h1.3M43.2,191.9h1.3M43.2,190.7h1.3M43.2,189.5h1.3M43.2,228.1h1.3M43.2,223.7h1.3M43.2,220.6h1.3M43.2,218.2h1.3M43.2,216.2h1.3M43.2,214.6h1.3M43.2,213.1h1.3M43.2,211.8h1.3M43.2,268.0h1.3M43.2,270.6h1.3M43.2,273.2h1.3M43.2,275.8h1.3M43.2,278.4h1.3M43.2,281.0h1.3M43.2,283.6h1.3M43.2,286.2h1.3M80.6,287.3v1.3M83.8,287.3v1.3M86.1,287.3v1.3M87.9,287.3v1.3M89.4,287.3v1.3M90.6,287.3v1.3M91.7,287.3v1.3M92.7,287.3v1.3M100.9,287.3v1.3M105.2,287.3v1.3M108.3,287.3v1.3M110.6,287.3v1.3M112.6,287.3v1.3M114.2,287.3v1.3M115.6,287.3v1.3M116.9,287.3v1.3M125.5,287.3v1.3M129.9,287.3v1.3M133.1,287.3v1.3M135.5,287.3v1.3M137.5,287.3v1.3M139.1,287.3v1.3M140.6,287.3v1.3M141.9,287.3v1.3M46.0,287.3v1.3M48.2,287.3v1.3M50.4,287.3v1.3M52.6,287.3v1.3M54.8,287.3v1.3M57.0,287.3v1.3M59.2,287.3v1.3M61.4,287.3v1.3M63.6,287.3v1.3M65.8,287.3v1.3" stroke="#444" stroke-width="0.6" fill="none"/>
<rect x="42.3" y="260.0" width="2.2" height="6.0" fill="#222" fill-opacity="0.55"/>
<rect x="68.3" y="287.3" width="6.5" height="2.2" fill="#222" fill-opacity="0.65"/>
<g filter="url(#soft)">
<path d="M113.6,241.5h1.0v1.0h-1.0zM97.3,256.3h1.0v1.0h-1.0zM100.6,248.2h1.0v1.0h-1.0zM110.5,253.2h1.0v1.0h-1.0zM106.6,249.5h1.0v1.0h-1.0zM109.4,252.6h1.0v1.0h-1.0zM112.0,252.6h1.0v1.0h-1.0zM109.7,244.8h1.0v1.0h-1.0zM88.5,252.8h1.0v1.0h-1.0zM101.2,254.1h1.0v1.0h-1.0zM104.5,258.3h1.0v1.0h-1.0zM106.0,255.3h1.0v1.0h-1.0zM102.5,250.7h1.0v1.0h-1.0zM99.2,246.3h1.0v1.0h-1.0zM113.2,245.2h1.0v1.0h-1.0zM94.5,252.2h1.0v1.0h-1.0zM109.9,254.1h1.0v1.0h-1.0zM105.7,254.9h1.0v1.0h-1.0zM95.9,259.6h1.0v1.0h-1.0zM90.0,266.5h1.0v1.0h-1.0zM113.8,248.1h1.0v1.0h-1.0zM80.9,268.7h1.0v1.0h-1.0zM104.8,252.7h1.0v1.0h-1.0zM106.4,265.9h1.0v1.0h-1.0zM81.0,263.5h1.0v1.0h-1.0zM100.1,253.2h1.0v1.0h-1.0zM122.2,238.2h1.0v1.0h-1.0zM110.2,246.2h1.0v1.0h-1.0zM108.8,245.1h1.0v1.0h-1.0zM107.8,248.3h1.0v1.0h-1.0zM110.0,251.2h1.0v1.0h-1.0zM112.0,246.6h1.0v1.0h-1.0zM85.5,257.0h1.0v1.0h-1.0zM86.2,259.1h1.0v1.0h-1.0zM87.5,260.8h1.0v1.0h-1.0zM105.2,253.8h1.0v1.0h-1.0zM102.6,255.0h1.0v1.0h-1.0zM95.4,252.1h1.0v1.0h-1.0zM113.9,246.7h1.0v1.0h-1.0zM94.9,251.9h1.0v1.0h-1.0zM92.5,254.1h1.0v1.0h-1.0zM117.1,243.2h1.0v1.0h-1.0zM100.4,252.9h1.0v1.0h-1.0zM115.0,250.2h1.0v1.0h-1.0zM102.0,251.3h1.0v1.0h-1.0zM101.5,225.9h1.0v1.0h-1.0zM129.8,235.6h1.0v1.0h-1.0zM113.0,239.5h1.0v1.0h-1.0zM125.5,232.8h1.0v1.0h-1.0zM114.5,223.8h1.0v1.0h-1.0zM111.1,224.8h1.0v1.0h-1.0zM119.5,235.5h1.0v1.0h-1.0zM104.1,235.9h1.0v1.0h-1.0zM102.6,223.9h1.0v1.0h-1.0zM120.2,232.1h1.0v1.0h-1.0z" fill="#000" fill-opacity="0.5"/>
<path d="M66.6,250.0C66.8,247.2 67.5,244.2 68.5,242.5C69.5,240.8 71.0,239.9 72.5,239.8C74.0,239.7 75.9,240.6 77.5,242.0C79.1,243.4 80.7,245.8 82.0,248.0C83.3,250.2 85.5,252.8 85.5,255.0C85.5,257.2 83.6,259.2 82.0,261.0C80.4,262.8 78.0,265.2 76.0,266.0C74.0,266.8 71.5,266.7 70.0,265.5C68.5,264.3 67.6,261.6 67.0,259.0C66.4,256.4 66.3,252.8 66.6,250.0Z" fill="#000" fill-opacity="0.110" stroke="#000" stroke-opacity="0.35" stroke-width="0.3"/>
<path d="M67.2,250.2C67.5,247.7 68.1,245.0 68.9,243.4C69.8,241.9 71.2,241.0 72.5,241.0C73.9,240.9 75.6,241.7 77.0,243.0C78.4,244.2 79.9,246.4 81.1,248.4C82.3,250.4 84.2,252.8 84.2,254.8C84.2,256.8 82.5,258.6 81.1,260.2C79.6,261.9 77.5,264.1 75.7,264.8C73.9,265.5 71.6,265.4 70.3,264.3C68.9,263.3 68.1,260.8 67.6,258.4C67.1,256.1 67.0,252.7 67.2,250.2Z" fill="#000" fill-opacity="0.110" stroke="#000" stroke-opacity="0.35" stroke-width="0.3"/>
<path d="M67.7,250.4C67.9,248.1 68.5,245.5 69.3,244.1C70.1,242.7 71.3,241.9 72.6,241.8C73.8,241.8 75.4,242.5 76.7,243.7C78.0,244.8 79.3,246.9 80.4,248.7C81.4,250.6 83.2,252.8 83.2,254.6C83.2,256.4 81.7,258.1 80.4,259.7C79.1,261.2 77.1,263.2 75.4,263.9C73.8,264.5 71.7,264.4 70.5,263.5C69.3,262.5 68.5,260.2 68.0,258.0C67.6,255.8 67.5,252.7 67.7,250.4Z" fill="#000" fill-opacity="0.110" stroke="#000" stroke-opacity="0.35" stroke-width="0.3"/>
<path d="M68.1,250.6C68.3,248.4 68.8,246.0 69.6,244.7C70.3,243.4 71.4,242.7 72.6,242.6C73.7,242.5 75.1,243.3 76.3,244.3C77.5,245.4 78.7,247.3 79.7,249.0C80.7,250.7 82.4,252.8 82.4,254.5C82.4,256.2 80.9,257.7 79.7,259.2C78.5,260.6 76.7,262.5 75.2,263.1C73.7,263.6 71.8,263.6 70.7,262.7C69.6,261.8 68.9,259.6 68.4,257.6C68.0,255.6 67.9,252.7 68.1,250.6Z" fill="#000" fill-opacity="0.110" stroke="#000" stroke-opacity="0.35" stroke-width="0.3"/>
<path d="M68.5,250.7C68.7,248.7 69.2,246.5 69.8,245.3C70.5,244.1 71.6,243.4 72.6,243.3C73.6,243.3 74.9,243.9 76.0,244.9C77.1,245.9 78.2,247.7 79.1,249.3C80.1,250.8 81.5,252.8 81.5,254.3C81.5,255.9 80.2,257.4 79.1,258.7C78.0,260.0 76.4,261.8 75.0,262.3C73.6,262.8 71.9,262.8 70.9,261.9C69.8,261.1 69.2,259.1 68.8,257.2C68.4,255.4 68.4,252.7 68.5,250.7Z" fill="#000" fill-opacity="0.110" stroke="#000" stroke-opacity="0.35" stroke-width="0.3"/>
<path d="M68.9,250.9C69.1,249.0 69.5,247.0 70.1,245.8C70.7,244.7 71.7,244.1 72.6,244.0C73.6,244.0 74.8,244.6 75.7,245.5C76.7,246.4 77.7,248.1 78.6,249.5C79.4,251.0 80.8,252.8 80.8,254.2C80.8,255.7 79.6,257.0 78.6,258.2C77.6,259.5 76.1,261.1 74.8,261.6C73.6,262.1 72.0,262.0 71.0,261.2C70.1,260.5 69.5,258.6 69.2,256.9C68.8,255.2 68.8,252.7 68.9,250.9Z" fill="#000" fill-opacity="0.110" stroke="#000" stroke-opacity="0.35" stroke-width="0.3"/>
<path d="M69.3,251.0C69.4,249.3 69.8,247.4 70.4,246.4C70.9,245.3 71.8,244.7 72.6,244.7C73.5,244.6 74.6,245.2 75.5,246.0C76.4,246.9 77.3,248.4 78.0,249.8C78.8,251.1 80.0,252.7 80.0,254.1C80.0,255.4 78.9,256.7 78.0,257.8C77.1,258.9 75.8,260.4 74.6,260.9C73.5,261.3 72.1,261.3 71.2,260.6C70.4,259.9 69.8,258.2 69.5,256.6C69.2,255.0 69.1,252.7 69.3,251.0Z" fill="#000" fill-opacity="0.110" stroke="#000" stroke-opacity="0.35" stroke-width="0.3"/>
<path d="M69.6,251.1C69.8,249.6 70.1,247.8 70.6,246.9C71.1,245.9 71.9,245.4 72.6,245.3C73.4,245.3 74.4,245.8 75.2,246.6C76.0,247.4 76.8,248.8 77.5,250.0C78.2,251.2 79.3,252.7 79.3,254.0C79.3,255.2 78.3,256.3 77.5,257.4C76.7,258.4 75.5,259.8 74.4,260.2C73.4,260.6 72.1,260.6 71.4,259.9C70.6,259.3 70.1,257.7 69.8,256.2C69.5,254.8 69.5,252.7 69.6,251.1Z" fill="#000" fill-opacity="0.110" stroke="#000" stroke-opacity="0.35" stroke-width="0.3"/>
<path d="M70.0,251.2C70.1,249.8 70.4,248.2 70.8,247.4C71.3,246.5 72.0,246.0 72.7,246.0C73.3,245.9 74.2,246.4 74.9,247.1C75.7,247.8 76.4,249.1 77.0,250.2C77.6,251.3 78.6,252.7 78.6,253.8C78.6,255.0 77.7,256.0 77.0,257.0C76.3,257.9 75.2,259.2 74.3,259.6C73.3,260.0 72.2,259.9 71.5,259.3C70.8,258.7 70.4,257.3 70.1,255.9C69.9,254.6 69.8,252.7 70.0,251.2Z" fill="#000" fill-opacity="0.110" stroke="#000" stroke-opacity="0.35" stroke-width="0.3"/>
<path d="M70.3,251.4C70.4,250.1 70.7,248.6 71.1,247.8C71.5,247.0 72.1,246.6 72.7,246.6C73.3,246.5 74.1,247.0 74.7,247.6C75.3,248.2 76.0,249.4 76.5,250.4C77.1,251.5 77.9,252.7 77.9,253.7C77.9,254.8 77.2,255.7 76.5,256.6C75.9,257.4 74.9,258.6 74.1,258.9C73.3,259.3 72.3,259.2 71.7,258.7C71.1,258.1 70.7,256.8 70.5,255.6C70.2,254.4 70.2,252.7 70.3,251.4Z" fill="#000" fill-opacity="0.110" stroke="#000" stroke-opacity="0.35" stroke-width="0.3"/>
<path d="M70.6,251.5C70.7,250.3 70.9,249.0 71.3,248.3C71.6,247.6 72.2,247.2 72.7,247.2C73.2,247.1 73.9,247.5 74.5,248.1C75.0,248.7 75.6,249.7 76.0,250.6C76.5,251.6 77.3,252.7 77.3,253.6C77.3,254.5 76.6,255.4 76.0,256.2C75.5,257.0 74.6,258.0 73.9,258.3C73.2,258.6 72.3,258.6 71.8,258.1C71.3,257.6 71.0,256.4 70.8,255.3C70.6,254.2 70.5,252.7 70.6,251.5Z" fill="#000" fill-opacity="0.110" stroke="#000" stroke-opacity="0.35" stroke-width="0.3"/>
<path d="M70.9,251.6C71.0,250.6 71.2,249.4 71.5,248.8C71.8,248.1 72.3,247.8 72.7,247.7C73.2,247.7 73.7,248.1 74.2,248.6C74.7,249.1 75.2,250.0 75.6,250.9C76.0,251.7 76.6,252.7 76.6,253.5C76.6,254.3 76.0,255.1 75.6,255.8C75.1,256.5 74.4,257.4 73.8,257.7C73.2,258.0 72.4,257.9 72.0,257.5C71.5,257.1 71.2,256.0 71.1,255.0C70.9,254.1 70.9,252.7 70.9,251.6Z" fill="#000" fill-opacity="0.110" stroke="#000" stroke-opacity="0.35" stroke-width="0.3"/>
<ellipse cx="72.8" cy="252.6" rx="2.0" ry="4.8" fill="#000" fill-opacity="0.55"/>
<ellipse cx="72.8" cy="252.6" rx="0.7" ry="1.0" fill="#fff" fill-opacity="0.85"/>
</g>
<line x1="91.60" y1="188.50" x2="91.60" y2="287.30" stroke="#4a4a4a" stroke-width="1.0" />
<line x1="44.50" y1="245.20" x2="143.00" y2="245.20" stroke="#4a4a4a" stroke-width="1.0" />
<text x="46.3" y="205.7" font-size="11.7" text-anchor="start" fill="#1a1a1a" stroke="#1a1a1a" >1.70</text>
<text x="106.4" y="205.7" font-size="11.7" text-anchor="start" fill="#1a1a1a" stroke="#1a1a1a" >0.40</text>
<text x="46.3" y="277.5" font-size="11.7" text-anchor="start" fill="#1a1a1a" stroke="#1a1a1a" >96.6</text>
<text x="106.4" y="277.5" font-size="11.7" text-anchor="start" fill="#1a1a1a" stroke="#1a1a1a" >1.27</text>
<rect x="154.2" y="188.5" width="98.5" height="98.8" fill="#fff" stroke="#c4c4c4" stroke-width="0.9"/>
<path d="M151.8,188.5h2.4M151.8,210.7h2.4M151.8,235.6h2.4M203.2,287.3v2.4M227.7,287.3v2.4M252.7,287.3v2.4" stroke="#333" stroke-width="0.75" fill="none"/>
<path d="M152.9,204.0h1.3M152.9,200.1h1.3M152.9,197.3h1.3M152.9,195.2h1.3M152.9,193.4h1.3M152.9,191.9h1.3M152.9,190.7h1.3M152.9,189.5h1.3M152.9,228.1h1.3M152.9,223.7h1.3M152.9,220.6h1.3M152.9,218.2h1.3M152.9,216.2h1.3M152.9,214.6h1.3M152.9,213.1h1.3M152.9,211.8h1.3M152.9,268.0h1.3M152.9,270.6h1.3M152.9,273.2h1.3M152.9,275.8h1.3M152.9,278.4h1.3M152.9,281.0h1.3M152.9,283.6h1.3M152.9,286.2h1.3M190.3,287.3v1.3M193.5,287.3v1.3M195.8,287.3v1.3M197.6,287.3v1.3M199.1,287.3v1.3M200.3,287.3v1.3M201.4,287.3v1.3M202.4,287.3v1.3M210.6,287.3v1.3M214.9,287.3v1.3M218.0,287.3v1.3M220.3,287.3v1.3M222.3,287.3v1.3M223.9,287.3v1.3M225.3,287.3v1.3M226.6,287.3v1.3M235.2,287.3v1.3M239.6,287.3v1.3M242.8,287.3v1.3M245.2,287.3v1.3M247.2,287.3v1.3M248.8,287.3v1.3M250.3,287.3v1.3M251.6,287.3v1.3M155.7,287.3v1.3M157.9,287.3v1.3M160.1,287.3v1.3M162.3,287.3v1.3M164.5,287.3v1.3M166.7,287.3v1.3M168.9,287.3v1.3M171.1,287.3v1.3M173.3,287.3v1.3M175.5,287.3v1.3" stroke="#444" stroke-width="0.6" fill="none"/>
<rect x="152.0" y="260.0" width="2.2" height="6.0" fill="#222" fill-opacity="0.55"/>
<rect x="178.0" y="287.3" width="6.5" height="2.2" fill="#222" fill-opacity="0.65"/>
<g filter="url(#soft)">
<path d="M217.5,239.5h1.0v1.0h-1.0zM220.5,237.5h1.0v1.0h-1.0zM223.5,236.0h1.0v1.0h-1.0zM225.5,242.5h1.0v1.0h-1.0zM228.5,243.5h1.0v1.0h-1.0zM221.5,231.5h1.0v1.0h-1.0zM223.5,229.5h1.0v1.0h-1.0zM230.5,244.5h1.0v1.0h-1.0zM226.5,249.5h1.0v1.0h-1.0zM218.5,261.5h1.0v1.0h-1.0z" fill="#000" fill-opacity="0.6"/>
<path d="M175.6,253.6C175.7,250.9 175.9,247.7 177.0,245.0C178.1,242.3 179.5,239.4 182.3,237.5C185.1,235.6 190.1,234.3 194.0,233.5C197.9,232.7 201.8,232.4 205.8,232.7C209.8,232.9 214.7,233.4 218.0,235.0C221.3,236.6 224.5,239.5 225.7,242.0C226.9,244.5 226.3,247.2 225.0,250.0C223.7,252.8 221.5,256.2 218.0,258.5C214.5,260.8 208.6,262.4 204.0,264.0C199.4,265.6 194.2,267.5 190.4,267.9C186.6,268.3 183.3,267.6 181.0,266.5C178.7,265.4 177.4,263.1 176.5,261.0C175.6,258.9 175.5,256.3 175.6,253.6Z" fill="#000" fill-opacity="0.012" stroke="#000" stroke-opacity="0.5" stroke-width="0.3"/>
<path d="M175.8,253.6C175.9,251.0 176.1,247.8 177.2,245.2C178.3,242.5 179.6,239.7 182.3,237.8C185.1,235.9 190.0,234.7 193.8,233.9C197.6,233.1 201.4,232.9 205.3,233.1C209.3,233.3 214.0,233.8 217.3,235.4C220.5,236.9 223.7,239.8 224.8,242.2C226.0,244.7 225.4,247.4 224.1,250.1C222.9,252.8 220.7,256.1 217.3,258.4C213.9,260.7 208.1,262.3 203.6,263.8C199.1,265.4 194.0,267.2 190.3,267.7C186.5,268.1 183.3,267.4 181.1,266.3C178.8,265.1 177.6,263.0 176.7,260.9C175.8,258.8 175.7,256.2 175.8,253.6Z" fill="#000" fill-opacity="0.016" stroke="#000" stroke-opacity="0.5" stroke-width="0.3"/>
<path d="M176.1,253.6C176.2,251.1 176.3,248.0 177.4,245.4C178.5,242.9 179.7,240.1 182.4,238.3C185.1,236.4 189.8,235.2 193.5,234.4C197.2,233.7 200.9,233.4 204.7,233.7C208.5,233.9 213.1,234.4 216.2,235.9C219.4,237.4 222.4,240.2 223.5,242.6C224.7,244.9 224.1,247.6 222.9,250.2C221.7,252.8 219.6,256.1 216.2,258.3C212.9,260.5 207.3,262.1 203.0,263.6C198.6,265.1 193.7,266.9 190.1,267.3C186.5,267.7 183.4,267.0 181.2,265.9C179.0,264.9 177.8,262.8 176.9,260.7C176.1,258.6 176.0,256.2 176.1,253.6Z" fill="#000" fill-opacity="0.020" stroke="#000" stroke-opacity="0.5" stroke-width="0.3"/>
<path d="M176.4,253.7C176.5,251.2 176.7,248.2 177.7,245.7C178.7,243.2 179.9,240.6 182.5,238.8C185.1,237.0 189.6,235.8 193.2,235.1C196.7,234.4 200.3,234.1 203.9,234.4C207.6,234.6 212.0,235.0 215.0,236.5C218.1,237.9 221.0,240.6 222.0,242.9C223.1,245.3 222.6,247.8 221.4,250.3C220.2,252.9 218.2,256.0 215.0,258.2C211.8,260.3 206.5,261.8 202.3,263.3C198.1,264.7 193.4,266.5 189.9,266.9C186.4,267.2 183.4,266.6 181.3,265.6C179.2,264.5 178.0,262.5 177.2,260.5C176.4,258.5 176.3,256.1 176.4,253.7Z" fill="#000" fill-opacity="0.024" stroke="#000" stroke-opacity="0.5" stroke-width="0.3"/>
<path d="M176.8,253.7C176.8,251.3 177.0,248.4 178.0,246.0C179.0,243.7 180.1,241.1 182.6,239.4C185.1,237.7 189.4,236.5 192.8,235.8C196.2,235.1 199.6,234.9 203.1,235.1C206.5,235.3 210.8,235.8 213.7,237.1C216.6,238.5 219.4,241.1 220.4,243.4C221.4,245.6 220.9,248.0 219.8,250.5C218.7,252.9 216.7,256.0 213.7,258.0C210.6,260.1 205.5,261.5 201.5,262.9C197.5,264.3 193.0,266.0 189.7,266.4C186.3,266.8 183.5,266.2 181.5,265.1C179.4,264.1 178.3,262.2 177.5,260.3C176.8,258.3 176.7,256.0 176.8,253.7Z" fill="#000" fill-opacity="0.027" stroke="#000" stroke-opacity="0.5" stroke-width="0.3"/>
<path d="M177.2,253.7C177.2,251.4 177.4,248.7 178.3,246.4C179.2,244.1 180.4,241.6 182.7,240.0C185.0,238.4 189.1,237.3 192.4,236.6C195.6,235.9 198.8,235.7 202.1,235.9C205.5,236.1 209.5,236.6 212.2,237.9C215.0,239.2 217.6,241.7 218.6,243.8C219.6,246.0 219.1,248.3 218.0,250.6C217.0,253.0 215.1,255.9 212.2,257.9C209.3,259.9 204.5,261.2 200.7,262.6C196.8,263.9 192.6,265.5 189.4,265.9C186.2,266.2 183.5,265.7 181.6,264.7C179.7,263.7 178.6,261.8 177.9,260.0C177.2,258.2 177.1,256.0 177.2,253.7Z" fill="#000" fill-opacity="0.031" stroke="#000" stroke-opacity="0.5" stroke-width="0.3"/>
<path d="M177.6,253.7C177.6,251.6 177.8,248.9 178.7,246.8C179.5,244.6 180.6,242.2 182.8,240.7C185.0,239.1 188.9,238.1 191.9,237.4C195.0,236.8 198.0,236.6 201.2,236.8C204.3,237.0 208.1,237.4 210.7,238.6C213.3,239.9 215.8,242.3 216.7,244.3C217.6,246.3 217.2,248.6 216.2,250.8C215.2,253.0 213.4,255.8 210.7,257.7C208.0,259.6 203.4,260.9 199.8,262.2C196.2,263.4 192.1,265.0 189.1,265.3C186.1,265.7 183.6,265.1 181.8,264.2C180.0,263.3 179.0,261.5 178.3,259.7C177.6,258.0 177.5,255.9 177.6,253.7Z" fill="#000" fill-opacity="0.035" stroke="#000" stroke-opacity="0.5" stroke-width="0.3"/>
<path d="M178.0,253.8C178.1,251.7 178.2,249.2 179.0,247.1C179.9,245.1 180.8,242.8 182.9,241.4C185.0,239.9 188.6,238.9 191.5,238.3C194.4,237.7 197.2,237.5 200.1,237.7C203.1,237.9 206.6,238.3 209.1,239.4C211.5,240.6 213.9,242.9 214.7,244.8C215.6,246.8 215.1,248.9 214.2,251.0C213.3,253.1 211.6,255.7 209.1,257.5C206.5,259.3 202.2,260.6 198.8,261.8C195.4,263.0 191.7,264.5 188.9,264.8C186.0,265.1 183.7,264.6 182.0,263.7C180.3,262.8 179.3,261.1 178.7,259.5C178.0,257.8 177.9,255.8 178.0,253.8Z" fill="#000" fill-opacity="0.039" stroke="#000" stroke-opacity="0.5" stroke-width="0.3"/>
<path d="M178.5,253.8C178.5,251.9 178.7,249.5 179.4,247.5C180.2,245.6 181.1,243.5 183.0,242.1C185.0,240.7 188.3,239.8 191.0,239.2C193.7,238.6 196.3,238.4 199.1,238.6C201.8,238.8 205.1,239.2 207.4,240.3C209.6,241.4 211.8,243.6 212.6,245.4C213.4,247.2 213.0,249.2 212.2,251.2C211.3,253.2 209.8,255.7 207.4,257.4C205.0,259.0 201.0,260.2 197.8,261.3C194.7,262.5 191.2,263.9 188.6,264.2C185.9,264.5 183.7,264.0 182.1,263.2C180.6,262.3 179.7,260.7 179.1,259.2C178.5,257.6 178.4,255.7 178.5,253.8Z" fill="#000" fill-opacity="0.043" stroke="#000" stroke-opacity="0.5" stroke-width="0.3"/>
<path d="M178.9,253.8C179.0,252.0 179.1,249.8 179.8,248.0C180.5,246.1 181.4,244.2 183.2,242.9C184.9,241.6 188.1,240.7 190.5,240.1C193.0,239.6 195.4,239.4 197.9,239.6C200.5,239.8 203.5,240.1 205.6,241.2C207.7,242.2 209.7,244.2 210.5,245.9C211.2,247.6 210.8,249.5 210.0,251.4C209.2,253.2 207.8,255.6 205.6,257.2C203.4,258.8 199.7,259.8 196.8,260.9C193.9,262.0 190.7,263.3 188.3,263.6C185.8,263.8 183.8,263.4 182.3,262.6C180.9,261.8 180.1,260.3 179.5,258.9C178.9,257.4 178.9,255.6 178.9,253.8Z" fill="#000" fill-opacity="0.047" stroke="#000" stroke-opacity="0.5" stroke-width="0.3"/>
<path d="M179.4,253.9C179.5,252.2 179.6,250.1 180.2,248.4C180.9,246.7 181.7,244.9 183.3,243.7C184.9,242.4 187.8,241.6 190.0,241.1C192.3,240.6 194.5,240.4 196.8,240.6C199.1,240.8 201.9,241.1 203.8,242.1C205.7,243.0 207.6,244.9 208.2,246.5C208.9,248.1 208.6,249.8 207.8,251.6C207.1,253.3 205.8,255.5 203.8,257.0C201.8,258.4 198.4,259.5 195.8,260.5C193.1,261.4 190.1,262.7 187.9,262.9C185.7,263.2 183.9,262.8 182.5,262.0C181.2,261.3 180.5,259.9 179.9,258.6C179.4,257.2 179.4,255.5 179.4,253.9Z" fill="#000" fill-opacity="0.051" stroke="#000" stroke-opacity="0.5" stroke-width="0.3"/>
<path d="M179.9,253.9C180.0,252.3 180.1,250.4 180.7,248.9C181.2,247.3 181.9,245.6 183.4,244.5C184.9,243.3 187.5,242.6 189.5,242.1C191.5,241.7 193.5,241.5 195.6,241.7C197.7,241.8 200.2,242.1 201.9,243.0C203.7,243.9 205.3,245.6 205.9,247.1C206.5,248.6 206.2,250.2 205.6,251.8C204.9,253.4 203.8,255.4 201.9,256.8C200.1,258.1 197.1,259.1 194.7,260.0C192.3,260.9 189.6,262.0 187.6,262.3C185.6,262.5 183.9,262.1 182.7,261.4C181.5,260.8 180.9,259.5 180.4,258.2C179.9,257.0 179.9,255.5 179.9,253.9Z" fill="#000" fill-opacity="0.055" stroke="#000" stroke-opacity="0.5" stroke-width="0.3"/>
<path d="M180.5,253.9C180.5,252.5 180.6,250.8 181.1,249.3C181.6,247.9 182.2,246.3 183.5,245.3C184.9,244.3 187.1,243.6 188.9,243.2C190.7,242.7 192.5,242.6 194.4,242.7C196.2,242.9 198.5,243.1 200.0,244.0C201.5,244.8 203.0,246.4 203.6,247.7C204.1,249.0 203.8,250.5 203.2,252.0C202.7,253.5 201.6,255.3 200.0,256.6C198.4,257.8 195.7,258.7 193.6,259.5C191.4,260.3 189.0,261.4 187.3,261.6C185.5,261.8 184.0,261.5 182.9,260.8C181.9,260.2 181.3,259.0 180.9,257.9C180.5,256.7 180.4,255.4 180.5,253.9Z" fill="#000" fill-opacity="0.058" stroke="#000" stroke-opacity="0.5" stroke-width="0.3"/>
<path d="M181.0,254.0C181.0,252.7 181.1,251.1 181.5,249.8C182.0,248.5 182.5,247.1 183.7,246.2C184.8,245.2 186.8,244.6 188.4,244.2C190.0,243.8 191.5,243.7 193.1,243.8C194.7,243.9 196.7,244.2 198.0,244.9C199.4,245.7 200.7,247.1 201.1,248.3C201.6,249.5 201.4,250.9 200.9,252.2C200.3,253.6 199.4,255.2 198.0,256.3C196.6,257.5 194.3,258.2 192.4,259.0C190.6,259.8 188.5,260.7 186.9,260.9C185.4,261.1 184.1,260.8 183.2,260.2C182.2,259.7 181.7,258.6 181.3,257.6C181.0,256.5 181.0,255.3 181.0,254.0Z" fill="#000" fill-opacity="0.062" stroke="#000" stroke-opacity="0.5" stroke-width="0.3"/>
<path d="M181.5,254.0C181.6,252.8 181.6,251.4 182.0,250.3C182.4,249.1 182.9,247.9 183.8,247.0C184.8,246.2 186.5,245.6 187.8,245.3C189.2,244.9 190.5,244.8 191.9,244.9C193.2,245.1 194.9,245.3 196.0,245.9C197.2,246.6 198.3,247.9 198.7,249.0C199.1,250.1 198.9,251.2 198.4,252.4C198.0,253.6 197.2,255.1 196.0,256.1C194.8,257.1 192.8,257.8 191.2,258.5C189.7,259.2 187.9,260.0 186.6,260.2C185.3,260.4 184.2,260.1 183.4,259.6C182.6,259.1 182.1,258.1 181.8,257.2C181.5,256.3 181.5,255.2 181.5,254.0Z" fill="#000" fill-opacity="0.066" stroke="#000" stroke-opacity="0.5" stroke-width="0.3"/>
<path d="M182.1,254.0C182.1,253.0 182.2,251.8 182.5,250.8C182.8,249.8 183.2,248.6 184.0,247.9C184.8,247.2 186.1,246.7 187.2,246.4C188.3,246.1 189.4,246.0 190.5,246.1C191.7,246.2 193.0,246.4 194.0,247.0C194.9,247.6 195.8,248.7 196.1,249.6C196.4,250.6 196.3,251.6 195.9,252.7C195.6,253.7 194.9,255.0 194.0,255.9C193.0,256.8 191.3,257.4 190.0,258.0C188.8,258.6 187.3,259.3 186.2,259.5C185.2,259.6 184.2,259.4 183.6,258.9C183.0,258.5 182.6,257.7 182.3,256.9C182.1,256.0 182.1,255.1 182.1,254.0Z" fill="#000" fill-opacity="0.070" stroke="#000" stroke-opacity="0.5" stroke-width="0.3"/>
<path d="M191.5,246.8 C186,244 179.3,246.5 179.1,254 C179,261 185,263.8 191,261" fill="none" stroke="#000" stroke-opacity="0.72" stroke-width="2.4"/>
<path d="M188,245.3 C196,243.5 206,243.8 214,245.5" fill="none" stroke="#000" stroke-opacity="0.3" stroke-width="1.3"/>
<ellipse cx="186" cy="254.3" rx="2.6" ry="4" fill="#fff" fill-opacity="0.45"/>
</g>
<line x1="201.30" y1="188.50" x2="201.30" y2="287.30" stroke="#4a4a4a" stroke-width="1.0" />
<line x1="154.20" y1="245.20" x2="252.70" y2="245.20" stroke="#4a4a4a" stroke-width="1.0" />
<text x="156.0" y="205.7" font-size="11.7" text-anchor="start" fill="#1a1a1a" stroke="#1a1a1a" >10.5</text>
<text x="216.1" y="205.7" font-size="11.7" text-anchor="start" fill="#1a1a1a" stroke="#1a1a1a" >12.4</text>
<text x="156.0" y="277.5" font-size="11.7" text-anchor="start" fill="#1a1a1a" stroke="#1a1a1a" >65.7</text>
<text x="216.1" y="277.5" font-size="11.7" text-anchor="start" fill="#1a1a1a" stroke="#1a1a1a" >11.4</text>
<rect x="265.6" y="188.5" width="98.5" height="98.8" fill="#fff" stroke="#c4c4c4" stroke-width="0.9"/>
<path d="M263.2,188.5h2.4M263.2,210.7h2.4M263.2,235.6h2.4M314.6,287.3v2.4M339.1,287.3v2.4M364.1,287.3v2.4" stroke="#333" stroke-width="0.75" fill="none"/>
<path d="M264.3,204.0h1.3M264.3,200.1h1.3M264.3,197.3h1.3M264.3,195.2h1.3M264.3,193.4h1.3M264.3,191.9h1.3M264.3,190.7h1.3M264.3,189.5h1.3M264.3,228.1h1.3M264.3,223.7h1.3M264.3,220.6h1.3M264.3,218.2h1.3M264.3,216.2h1.3M264.3,214.6h1.3M264.3,213.1h1.3M264.3,211.8h1.3M264.3,268.0h1.3M264.3,270.6h1.3M264.3,273.2h1.3M264.3,275.8h1.3M264.3,278.4h1.3M264.3,281.0h1.3M264.3,283.6h1.3M264.3,286.2h1.3M301.7,287.3v1.3M304.9,287.3v1.3M307.2,287.3v1.3M309.0,287.3v1.3M310.5,287.3v1.3M311.7,287.3v1.3M312.8,287.3v1.3M313.8,287.3v1.3M322.0,287.3v1.3M326.3,287.3v1.3M329.4,287.3v1.3M331.7,287.3v1.3M333.7,287.3v1.3M335.3,287.3v1.3M336.7,287.3v1.3M338.0,287.3v1.3M346.6,287.3v1.3M351.0,287.3v1.3M354.2,287.3v1.3M356.6,287.3v1.3M358.6,287.3v1.3M360.2,287.3v1.3M361.7,287.3v1.3M363.0,287.3v1.3M267.1,287.3v1.3M269.3,287.3v1.3M271.5,287.3v1.3M273.7,287.3v1.3M275.9,287.3v1.3M278.1,287.3v1.3M280.3,287.3v1.3M282.5,287.3v1.3M284.7,287.3v1.3M286.9,287.3v1.3" stroke="#444" stroke-width="0.6" fill="none"/>
<rect x="263.4" y="260.0" width="2.2" height="6.0" fill="#222" fill-opacity="0.55"/>
<rect x="289.4" y="287.3" width="6.5" height="2.2" fill="#222" fill-opacity="0.65"/>
<g filter="url(#soft)">
<path d="M319.5,228.5h1.0v1.0h-1.0zM326.5,241.5h1.0v1.0h-1.0zM318.5,261.5h1.0v1.0h-1.0zM339.5,244.5h1.0v1.0h-1.0z" fill="#000" fill-opacity="0.6"/>
<path d="M287.7,255.7C287.6,253.0 288.1,248.9 289.0,246.0C289.9,243.1 290.6,240.0 293.3,238.0C296.0,236.0 300.8,234.9 305.0,234.0C309.2,233.1 314.5,232.5 318.8,232.7C323.1,232.9 327.6,233.4 331.0,235.0C334.4,236.6 338.1,239.5 339.3,242.0C340.5,244.5 339.6,247.2 338.0,250.0C336.4,252.8 333.3,256.4 330.0,258.7C326.7,260.9 322.1,262.0 318.0,263.5C313.9,265.0 309.3,267.3 305.5,267.9C301.7,268.4 297.7,267.8 295.0,266.8C292.3,265.8 290.7,263.9 289.5,262.0C288.3,260.1 287.8,258.4 287.7,255.7Z" fill="#000" fill-opacity="0.012" stroke="#000" stroke-opacity="0.5" stroke-width="0.3"/>
<path d="M287.9,255.7C287.8,253.1 288.2,249.1 289.1,246.2C290.1,243.3 290.7,240.3 293.3,238.3C296.0,236.4 300.6,235.3 304.8,234.4C309.0,233.5 314.1,233.0 318.3,233.1C322.5,233.3 326.9,233.9 330.2,235.4C333.6,236.9 337.2,239.8 338.4,242.2C339.5,244.7 338.6,247.4 337.1,250.1C335.6,252.8 332.5,256.4 329.3,258.6C326.0,260.8 321.5,261.8 317.5,263.3C313.5,264.9 309.0,267.1 305.3,267.7C301.5,268.2 297.6,267.6 295.0,266.6C292.4,265.6 290.8,263.7 289.6,261.9C288.4,260.1 288.0,258.3 287.9,255.7Z" fill="#000" fill-opacity="0.016" stroke="#000" stroke-opacity="0.5" stroke-width="0.3"/>
<path d="M288.1,255.7C288.0,253.1 288.5,249.2 289.3,246.4C290.2,243.6 290.9,240.7 293.4,238.8C295.9,236.9 300.5,235.8 304.5,235.0C308.5,234.1 313.5,233.6 317.6,233.7C321.7,233.9 325.9,234.4 329.1,235.9C332.4,237.4 335.9,240.2 337.0,242.6C338.1,245.0 337.2,247.6 335.8,250.2C334.3,252.9 331.4,256.4 328.2,258.5C325.0,260.7 320.7,261.7 316.8,263.1C313.0,264.6 308.6,266.8 305.0,267.3C301.3,267.9 297.6,267.2 295.0,266.3C292.5,265.3 291.0,263.5 289.8,261.7C288.7,259.9 288.2,258.2 288.1,255.7Z" fill="#000" fill-opacity="0.020" stroke="#000" stroke-opacity="0.5" stroke-width="0.3"/>
<path d="M288.4,255.7C288.3,253.2 288.7,249.4 289.6,246.7C290.4,244.0 291.1,241.2 293.5,239.3C295.9,237.5 300.3,236.4 304.2,235.6C308.0,234.8 312.8,234.3 316.7,234.4C320.7,234.6 324.7,235.1 327.9,236.6C331.0,238.0 334.4,240.7 335.4,243.0C336.5,245.3 335.6,247.8 334.2,250.4C332.8,253.0 330.0,256.4 326.9,258.4C323.9,260.5 319.7,261.5 316.0,262.9C312.3,264.3 308.1,266.4 304.6,266.9C301.1,267.4 297.5,266.8 295.1,265.9C292.6,265.0 291.2,263.2 290.0,261.5C288.9,259.8 288.5,258.1 288.4,255.7Z" fill="#000" fill-opacity="0.024" stroke="#000" stroke-opacity="0.5" stroke-width="0.3"/>
<path d="M288.7,255.7C288.6,253.3 289.0,249.7 289.9,247.0C290.7,244.4 291.3,241.7 293.6,239.9C295.9,238.1 300.1,237.2 303.8,236.4C307.5,235.6 312.0,235.1 315.8,235.2C319.6,235.4 323.5,235.9 326.4,237.3C329.4,238.6 332.6,241.3 333.7,243.5C334.7,245.7 333.9,248.1 332.5,250.6C331.2,253.1 328.5,256.3 325.6,258.3C322.7,260.3 318.7,261.2 315.1,262.6C311.6,264.0 307.6,266.0 304.2,266.5C300.9,267.0 297.4,266.4 295.1,265.5C292.8,264.6 291.3,262.9 290.3,261.3C289.2,259.6 288.8,258.0 288.7,255.7Z" fill="#000" fill-opacity="0.027" stroke="#000" stroke-opacity="0.5" stroke-width="0.3"/>
<path d="M289.1,255.6C289.0,253.4 289.4,249.9 290.1,247.4C290.9,244.9 291.5,242.3 293.7,240.6C295.9,238.9 299.9,237.9 303.4,237.2C306.9,236.4 311.2,235.9 314.8,236.1C318.4,236.2 322.1,236.7 324.9,238.0C327.7,239.3 330.8,241.8 331.8,244.0C332.7,246.1 332.0,248.4 330.7,250.8C329.4,253.2 326.8,256.3 324.1,258.2C321.3,260.1 317.5,261.0 314.1,262.3C310.8,263.6 307.0,265.6 303.8,266.0C300.6,266.5 297.3,265.9 295.1,265.1C292.9,264.3 291.6,262.6 290.6,261.0C289.5,259.4 289.1,257.9 289.1,255.6Z" fill="#000" fill-opacity="0.031" stroke="#000" stroke-opacity="0.5" stroke-width="0.3"/>
<path d="M289.4,255.6C289.4,253.5 289.7,250.1 290.4,247.8C291.2,245.4 291.7,242.9 293.8,241.3C295.9,239.6 299.6,238.7 302.9,238.0C306.3,237.3 310.3,236.8 313.7,237.0C317.1,237.1 320.6,237.6 323.3,238.8C325.9,240.1 328.8,242.5 329.7,244.5C330.7,246.5 329.9,248.7 328.7,251.0C327.5,253.3 325.1,256.2 322.5,258.1C319.9,259.9 316.3,260.7 313.1,262.0C309.9,263.2 306.3,265.1 303.3,265.5C300.3,266.0 297.2,265.4 295.1,264.6C293.1,263.8 291.8,262.2 290.8,260.7C289.9,259.2 289.5,257.8 289.4,255.6Z" fill="#000" fill-opacity="0.035" stroke="#000" stroke-opacity="0.5" stroke-width="0.3"/>
<path d="M289.8,255.6C289.8,253.6 290.1,250.4 290.8,248.1C291.5,245.9 292.0,243.5 293.9,242.0C295.9,240.4 299.4,239.6 302.5,238.9C305.6,238.2 309.4,237.8 312.6,237.9C315.8,238.0 319.0,238.5 321.5,239.7C324.0,240.9 326.8,243.1 327.6,245.1C328.5,247.0 327.8,249.1 326.7,251.2C325.5,253.4 323.2,256.2 320.8,257.9C318.4,259.7 315.0,260.4 312.0,261.6C309.0,262.8 305.7,264.6 302.9,265.0C300.0,265.4 297.1,264.9 295.2,264.2C293.2,263.4 292.0,261.9 291.1,260.5C290.2,259.0 289.9,257.7 289.8,255.6Z" fill="#000" fill-opacity="0.039" stroke="#000" stroke-opacity="0.5" stroke-width="0.3"/>
<path d="M290.2,255.6C290.2,253.7 290.5,250.7 291.1,248.5C291.7,246.4 292.2,244.2 294.0,242.7C295.9,241.3 299.1,240.5 302.0,239.8C304.9,239.2 308.5,238.8 311.4,238.9C314.4,239.0 317.4,239.4 319.7,240.6C322.1,241.7 324.6,243.8 325.4,245.6C326.2,247.5 325.6,249.4 324.5,251.5C323.5,253.5 321.3,256.1 319.1,257.8C316.8,259.4 313.7,260.1 310.9,261.3C308.1,262.4 305.0,264.1 302.4,264.5C299.7,264.9 297.0,264.4 295.2,263.7C293.4,262.9 292.3,261.5 291.4,260.2C290.6,258.8 290.3,257.5 290.2,255.6Z" fill="#000" fill-opacity="0.043" stroke="#000" stroke-opacity="0.5" stroke-width="0.3"/>
<path d="M290.6,255.6C290.6,253.8 290.9,251.0 291.5,249.0C292.0,247.0 292.5,244.9 294.2,243.5C295.8,242.2 298.8,241.4 301.5,240.8C304.2,240.2 307.5,239.8 310.2,239.9C312.9,240.0 315.7,240.4 317.9,241.5C320.0,242.5 322.4,244.5 323.1,246.2C323.8,247.9 323.3,249.8 322.3,251.7C321.3,253.6 319.4,256.1 317.3,257.6C315.2,259.1 312.3,259.8 309.7,260.9C307.1,261.9 304.2,263.5 301.8,263.9C299.4,264.3 296.9,263.8 295.2,263.1C293.5,262.5 292.5,261.1 291.8,259.9C291.0,258.6 290.7,257.4 290.6,255.6Z" fill="#000" fill-opacity="0.047" stroke="#000" stroke-opacity="0.5" stroke-width="0.3"/>
<path d="M291.1,255.6C291.0,253.9 291.3,251.3 291.8,249.4C292.3,247.5 292.7,245.6 294.3,244.3C295.8,243.1 298.6,242.4 301.0,241.8C303.5,241.2 306.5,240.9 308.9,241.0C311.4,241.1 314.0,241.4 316.0,242.4C317.9,243.4 320.1,245.3 320.7,246.9C321.4,248.5 320.9,250.2 320.0,251.9C319.1,253.7 317.3,256.0 315.4,257.5C313.5,258.9 310.8,259.5 308.5,260.5C306.1,261.5 303.5,262.9 301.3,263.3C299.1,263.6 296.8,263.2 295.3,262.6C293.7,262.0 292.8,260.7 292.1,259.6C291.4,258.4 291.1,257.2 291.1,255.6Z" fill="#000" fill-opacity="0.051" stroke="#000" stroke-opacity="0.5" stroke-width="0.3"/>
<path d="M291.5,255.5C291.5,254.0 291.7,251.6 292.2,249.9C292.7,248.1 293.0,246.3 294.4,245.2C295.8,244.0 298.3,243.3 300.5,242.8C302.7,242.3 305.4,242.0 307.6,242.1C309.9,242.2 312.2,242.5 314.0,243.4C315.7,244.3 317.7,246.0 318.3,247.5C318.9,249.0 318.4,250.6 317.6,252.2C316.8,253.8 315.2,256.0 313.5,257.3C311.7,258.6 309.3,259.2 307.2,260.1C305.1,261.0 302.7,262.4 300.7,262.7C298.8,263.0 296.7,262.6 295.3,262.0C293.9,261.5 293.1,260.3 292.4,259.2C291.8,258.1 291.5,257.1 291.5,255.5Z" fill="#000" fill-opacity="0.055" stroke="#000" stroke-opacity="0.5" stroke-width="0.3"/>
<path d="M292.0,255.5C291.9,254.1 292.1,251.9 292.6,250.3C293.0,248.7 293.3,247.1 294.5,246.0C295.8,245.0 298.0,244.4 299.9,243.9C301.9,243.4 304.3,243.1 306.3,243.2C308.3,243.3 310.4,243.6 311.9,244.4C313.5,245.3 315.2,246.8 315.8,248.2C316.3,249.5 315.9,251.0 315.2,252.5C314.4,254.0 313.0,255.9 311.5,257.1C309.9,258.3 307.8,258.9 305.9,259.7C304.1,260.5 301.9,261.8 300.2,262.1C298.4,262.4 296.6,262.0 295.3,261.5C294.1,260.9 293.4,259.9 292.8,258.9C292.2,257.9 292.0,256.9 292.0,255.5Z" fill="#000" fill-opacity="0.058" stroke="#000" stroke-opacity="0.5" stroke-width="0.3"/>
<path d="M292.4,255.5C292.4,254.2 292.6,252.2 293.0,250.8C293.3,249.4 293.6,247.9 294.7,246.9C295.8,245.9 297.7,245.4 299.4,245.0C301.1,244.5 303.2,244.3 304.9,244.3C306.7,244.4 308.5,244.7 309.8,245.5C311.2,246.2 312.7,247.6 313.2,248.8C313.7,250.1 313.3,251.4 312.7,252.7C312.0,254.1 310.8,255.9 309.4,257.0C308.1,258.0 306.3,258.5 304.6,259.3C303.0,260.0 301.1,261.2 299.6,261.4C298.0,261.7 296.4,261.4 295.4,260.9C294.3,260.4 293.6,259.5 293.2,258.6C292.7,257.7 292.5,256.8 292.4,255.5Z" fill="#000" fill-opacity="0.062" stroke="#000" stroke-opacity="0.5" stroke-width="0.3"/>
<path d="M292.9,255.5C292.9,254.3 293.0,252.6 293.4,251.3C293.7,250.0 293.9,248.7 294.8,247.8C295.7,246.9 297.4,246.5 298.8,246.1C300.3,245.7 302.1,245.4 303.5,245.5C305.0,245.6 306.5,245.8 307.7,246.5C308.9,247.2 310.1,248.5 310.5,249.5C310.9,250.6 310.6,251.8 310.1,253.0C309.6,254.2 308.5,255.8 307.4,256.8C306.2,257.8 304.7,258.2 303.3,258.9C301.9,259.5 300.3,260.5 299.0,260.8C297.7,261.0 296.3,260.7 295.4,260.3C294.5,259.9 293.9,259.0 293.5,258.2C293.1,257.4 292.9,256.6 292.9,255.5Z" fill="#000" fill-opacity="0.066" stroke="#000" stroke-opacity="0.5" stroke-width="0.3"/>
<path d="M293.4,255.5C293.4,254.4 293.5,252.9 293.8,251.8C294.0,250.6 294.2,249.5 295.0,248.7C295.7,248.0 297.1,247.5 298.2,247.2C299.4,246.9 300.9,246.7 302.1,246.7C303.3,246.8 304.6,247.0 305.5,247.6C306.5,248.2 307.5,249.3 307.8,250.2C308.2,251.2 307.9,252.2 307.5,253.3C307.0,254.3 306.2,255.7 305.2,256.6C304.3,257.5 303.0,257.8 301.9,258.4C300.7,259.0 299.5,259.9 298.4,260.1C297.3,260.3 296.2,260.0 295.4,259.7C294.7,259.3 294.2,258.6 293.9,257.9C293.6,257.1 293.4,256.5 293.4,255.5Z" fill="#000" fill-opacity="0.070" stroke="#000" stroke-opacity="0.5" stroke-width="0.3"/>
<path d="M302.5,247.5 C297,244.5 290.3,247 290.1,254.5 C290,261.5 296,264.3 302,261.5" fill="none" stroke="#000" stroke-opacity="0.72" stroke-width="2.4"/>
<path d="M299,246 C307,244 317,244.3 325,246" fill="none" stroke="#000" stroke-opacity="0.3" stroke-width="1.3"/>
<ellipse cx="297" cy="254.8" rx="2.6" ry="4" fill="#fff" fill-opacity="0.45"/>
</g>
<line x1="312.70" y1="188.50" x2="312.70" y2="287.30" stroke="#4a4a4a" stroke-width="1.0" />
<line x1="265.60" y1="245.20" x2="364.10" y2="245.20" stroke="#4a4a4a" stroke-width="1.0" />
<text x="267.4" y="205.7" font-size="11.7" text-anchor="start" fill="#1a1a1a" stroke="#1a1a1a" >10.6</text>
<text x="327.5" y="205.7" font-size="11.7" text-anchor="start" fill="#1a1a1a" stroke="#1a1a1a" >14.1</text>
<text x="267.4" y="277.5" font-size="11.7" text-anchor="start" fill="#1a1a1a" stroke="#1a1a1a" >62.0</text>
<text x="327.5" y="277.5" font-size="11.7" text-anchor="start" fill="#1a1a1a" stroke="#1a1a1a" >13.2</text>
<rect x="42.8" y="442.1" width="96.3" height="94.0" fill="#fff" stroke="#c4c4c4" stroke-width="0.9"/>
<path d="M40.4,442.1h2.4M40.4,468.5h2.4M40.4,497.3h2.4M70.5,536.1v2.4M94.6,536.1v2.4M117.8,536.1v2.4M139.1,536.1v2.4" stroke="#333" stroke-width="0.75" fill="none"/>
<path d="M41.5,460.6h1.3M41.5,455.9h1.3M41.5,452.6h1.3M41.5,450.0h1.3M41.5,448.0h1.3M41.5,446.2h1.3M41.5,444.7h1.3M41.5,443.3h1.3M41.5,488.6h1.3M41.5,483.6h1.3M41.5,480.0h1.3M41.5,477.2h1.3M41.5,474.9h1.3M41.5,473.0h1.3M41.5,471.3h1.3M41.5,469.8h1.3M41.5,528.1h1.3M41.5,530.7h1.3M41.5,533.3h1.3M61.3,536.1v1.3M63.6,536.1v1.3M65.2,536.1v1.3M66.5,536.1v1.3M67.6,536.1v1.3M68.5,536.1v1.3M69.2,536.1v1.3M69.9,536.1v1.3M77.8,536.1v1.3M82.0,536.1v1.3M85.0,536.1v1.3M87.3,536.1v1.3M89.3,536.1v1.3M90.9,536.1v1.3M92.3,536.1v1.3M93.5,536.1v1.3M101.6,536.1v1.3M105.7,536.1v1.3M108.6,536.1v1.3M110.8,536.1v1.3M112.7,536.1v1.3M114.2,536.1v1.3M115.6,536.1v1.3M116.7,536.1v1.3M124.2,536.1v1.3M128.0,536.1v1.3M130.6,536.1v1.3M132.7,536.1v1.3M134.4,536.1v1.3M135.8,536.1v1.3M137.0,536.1v1.3M138.1,536.1v1.3M44.3,536.1v1.3M46.5,536.1v1.3M48.7,536.1v1.3M50.9,536.1v1.3" stroke="#444" stroke-width="0.6" fill="none"/>
<rect x="40.6" y="516.1" width="2.2" height="10.0" fill="#222" fill-opacity="0.55"/>
<rect x="53.8" y="536.1" width="3.3" height="2.2" fill="#222" fill-opacity="0.65"/>
<g filter="url(#soft)">
<path d="M92.1,503.1h0.9v0.9h-0.9zM126.1,497.5h0.9v0.9h-0.9zM96.1,504.8h0.9v0.9h-0.9zM72.8,500.3h0.9v0.9h-0.9zM104.9,517.1h0.9v0.9h-0.9zM66.3,487.8h0.9v0.9h-0.9zM66.1,518.1h0.9v0.9h-0.9zM109.5,472.1h0.9v0.9h-0.9zM130.3,527.4h0.9v0.9h-0.9zM106.6,506.5h0.9v0.9h-0.9zM70.9,470.5h0.9v0.9h-0.9zM97.6,473.1h0.9v0.9h-0.9zM73.2,484.1h0.9v0.9h-0.9zM61.7,497.4h0.9v0.9h-0.9zM91.3,520.1h0.9v0.9h-0.9zM96.9,508.0h0.9v0.9h-0.9zM95.5,509.3h0.9v0.9h-0.9zM92.5,486.2h0.9v0.9h-0.9zM131.4,529.3h0.9v0.9h-0.9zM120.0,512.0h0.9v0.9h-0.9zM82.2,483.3h0.9v0.9h-0.9zM80.4,473.8h0.9v0.9h-0.9zM114.7,493.6h0.9v0.9h-0.9zM120.5,492.7h0.9v0.9h-0.9zM128.5,520.4h0.9v0.9h-0.9zM59.6,482.1h0.9v0.9h-0.9zM125.1,497.7h0.9v0.9h-0.9zM130.1,493.4h0.9v0.9h-0.9zM64.8,507.3h0.9v0.9h-0.9zM115.6,485.7h0.9v0.9h-0.9z" fill="#000" fill-opacity="0.45"/>
<path d="M84.3,505.5C83.5,503.0 90.2,497.9 93.0,494.0C95.8,490.1 98.2,486.2 101.0,482.0C103.8,477.8 107.5,472.0 110.0,469.0C112.5,466.0 114.2,464.9 116.0,464.0C117.8,463.1 119.4,463.2 121.0,463.5C122.6,463.8 124.4,464.2 125.5,466.0C126.6,467.8 127.2,470.0 127.5,474.0C127.8,478.0 127.7,484.8 127.5,490.0C127.3,495.2 129.1,502.3 126.5,505.5C123.9,508.7 116.8,508.4 112.0,509.0C107.2,509.6 102.6,509.6 98.0,509.0C93.4,508.4 85.1,508.0 84.3,505.5Z" fill="#000" fill-opacity="0.025" stroke="#000" stroke-opacity="0.5" stroke-width="0.28"/>
<path d="M86.0,505.3C85.2,502.9 91.6,498.0 94.2,494.3C96.8,490.5 99.1,486.8 101.7,482.8C104.4,478.8 107.9,473.2 110.2,470.4C112.6,467.5 114.2,466.4 115.9,465.6C117.6,464.7 119.1,464.8 120.6,465.1C122.1,465.4 123.8,465.8 124.8,467.5C125.9,469.2 126.4,471.3 126.7,475.1C127.0,479.0 126.9,485.4 126.7,490.4C126.6,495.5 128.2,502.2 125.8,505.3C123.4,508.3 116.6,508.1 112.1,508.6C107.6,509.2 103.3,509.2 98.9,508.6C94.6,508.1 86.8,507.7 86.0,505.3Z" fill="#000" fill-opacity="0.025" stroke="#000" stroke-opacity="0.5" stroke-width="0.28"/>
<path d="M87.7,505.0C86.9,502.8 92.9,498.1 95.4,494.5C97.8,491.0 100.0,487.4 102.5,483.6C105.0,479.8 108.2,474.4 110.5,471.7C112.7,469.0 114.1,468.0 115.8,467.1C117.4,466.3 118.8,466.4 120.2,466.7C121.6,467.0 123.2,467.4 124.2,469.0C125.2,470.6 125.7,472.6 126.0,476.3C126.3,479.9 126.1,486.1 126.0,490.9C125.8,495.7 127.4,502.1 125.1,505.0C122.8,507.9 116.4,507.7 112.2,508.2C108.0,508.8 103.9,508.8 99.8,508.2C95.7,507.7 88.4,507.3 87.7,505.0Z" fill="#000" fill-opacity="0.025" stroke="#000" stroke-opacity="0.5" stroke-width="0.28"/>
<path d="M89.3,504.8C88.7,502.6 94.3,498.2 96.6,494.8C98.9,491.4 100.9,488.0 103.2,484.4C105.6,480.7 108.6,475.7 110.7,473.1C112.8,470.4 114.1,469.5 115.7,468.7C117.2,467.9 118.5,468.0 119.8,468.3C121.1,468.6 122.6,468.9 123.5,470.4C124.4,472.0 124.9,473.9 125.2,477.4C125.5,480.9 125.3,486.8 125.2,491.3C125.1,495.9 126.5,502.1 124.4,504.8C122.2,507.6 116.3,507.3 112.3,507.9C108.4,508.4 104.6,508.4 100.7,507.9C96.9,507.3 90.0,507.0 89.3,504.8Z" fill="#000" fill-opacity="0.025" stroke="#000" stroke-opacity="0.5" stroke-width="0.28"/>
<path d="M91.0,504.6C90.4,502.5 95.6,498.3 97.8,495.1C99.9,491.8 101.8,488.6 103.9,485.1C106.1,481.7 109.0,476.9 110.9,474.4C112.8,471.9 114.1,471.0 115.5,470.3C117.0,469.5 118.2,469.6 119.4,469.9C120.6,470.1 122.1,470.5 122.9,471.9C123.7,473.4 124.2,475.2 124.4,478.5C124.7,481.8 124.6,487.4 124.4,491.8C124.3,496.1 125.7,502.0 123.7,504.6C121.7,507.2 116.1,507.0 112.5,507.5C108.8,507.9 105.2,507.9 101.6,507.5C98.1,507.0 91.7,506.6 91.0,504.6Z" fill="#000" fill-opacity="0.025" stroke="#000" stroke-opacity="0.5" stroke-width="0.28"/>
<path d="M92.7,504.3C92.1,502.4 97.0,498.4 99.0,495.3C100.9,492.3 102.7,489.2 104.7,485.9C106.7,482.7 109.3,478.1 111.1,475.8C112.9,473.4 114.1,472.6 115.4,471.8C116.7,471.1 117.9,471.2 119.0,471.4C120.2,471.7 121.5,472.0 122.2,473.4C123.0,474.8 123.4,476.5 123.7,479.7C123.9,482.8 123.8,488.1 123.7,492.2C123.6,496.3 124.8,501.9 123.0,504.3C121.1,506.8 116.0,506.6 112.6,507.1C109.2,507.5 105.8,507.5 102.5,507.1C99.2,506.6 93.3,506.3 92.7,504.3Z" fill="#000" fill-opacity="0.025" stroke="#000" stroke-opacity="0.5" stroke-width="0.28"/>
<path d="M94.4,504.1C93.8,502.3 98.3,498.5 100.1,495.6C102.0,492.7 103.5,489.8 105.4,486.7C107.3,483.6 109.7,479.3 111.4,477.1C113.0,474.9 114.1,474.1 115.3,473.4C116.5,472.7 117.6,472.8 118.6,473.0C119.7,473.3 120.9,473.6 121.6,474.9C122.3,476.2 122.7,477.8 122.9,480.8C123.1,483.8 123.0,488.8 122.9,492.6C122.8,496.5 124.0,501.8 122.2,504.1C120.5,506.5 115.8,506.3 112.7,506.7C109.5,507.1 106.5,507.1 103.4,506.7C100.4,506.3 94.9,506.0 94.4,504.1Z" fill="#000" fill-opacity="0.025" stroke="#000" stroke-opacity="0.5" stroke-width="0.28"/>
<path d="M96.1,503.9C95.6,502.1 99.7,498.6 101.3,495.9C103.0,493.1 104.4,490.4 106.2,487.5C107.9,484.6 110.1,480.5 111.6,478.4C113.1,476.4 114.1,475.6 115.2,475.0C116.3,474.3 117.3,474.4 118.2,474.6C119.2,474.9 120.3,475.1 120.9,476.4C121.6,477.6 121.9,479.1 122.1,481.9C122.3,484.7 122.2,489.4 122.1,493.1C122.0,496.7 123.1,501.7 121.5,503.9C120.0,506.1 115.7,505.9 112.8,506.3C109.9,506.7 107.1,506.7 104.3,506.3C101.6,505.9 96.6,505.6 96.1,503.9Z" fill="#000" fill-opacity="0.025" stroke="#000" stroke-opacity="0.5" stroke-width="0.28"/>
<path d="M97.8,503.6C97.3,502.0 101.0,498.7 102.5,496.1C104.0,493.6 105.3,491.0 106.9,488.3C108.4,485.6 110.4,481.8 111.8,479.8C113.2,477.8 114.1,477.1 115.1,476.5C116.1,475.9 117.0,476.0 117.8,476.2C118.7,476.4 119.7,476.7 120.3,477.8C120.9,479.0 121.2,480.5 121.4,483.1C121.6,485.7 121.5,490.1 121.4,493.5C121.3,496.9 122.2,501.6 120.8,503.6C119.4,505.7 115.5,505.6 112.9,505.9C110.3,506.3 107.8,506.3 105.3,505.9C102.7,505.6 98.2,505.3 97.8,503.6Z" fill="#000" fill-opacity="0.025" stroke="#000" stroke-opacity="0.5" stroke-width="0.28"/>
<path d="M99.4,503.4C99.0,501.9 102.3,498.8 103.7,496.4C105.1,494.0 106.2,491.6 107.6,489.1C109.0,486.5 110.8,483.0 112.0,481.2C113.3,479.3 114.1,478.7 115.0,478.1C115.9,477.5 116.7,477.6 117.4,477.8C118.2,478.0 119.1,478.3 119.6,479.3C120.2,480.4 120.5,481.8 120.6,484.2C120.8,486.6 120.7,490.8 120.6,494.0C120.5,497.2 121.4,501.5 120.1,503.4C118.9,505.3 115.3,505.2 113.0,505.6C110.7,505.9 108.4,505.9 106.2,505.6C103.9,505.2 99.9,504.9 99.4,503.4Z" fill="#000" fill-opacity="0.025" stroke="#000" stroke-opacity="0.5" stroke-width="0.28"/>
<path d="M101.1,503.2C100.8,501.8 103.7,498.9 104.9,496.7C106.1,494.4 107.1,492.2 108.4,489.9C109.6,487.5 111.2,484.2 112.3,482.5C113.3,480.8 114.1,480.2 114.9,479.7C115.7,479.1 116.3,479.2 117.0,479.4C117.7,479.6 118.5,479.8 119.0,480.8C119.5,481.8 119.7,483.1 119.8,485.3C120.0,487.6 119.9,491.4 119.8,494.4C119.8,497.4 120.5,501.4 119.4,503.2C118.3,505.0 115.2,504.8 113.1,505.2C111.1,505.5 109.1,505.5 107.1,505.2C105.1,504.8 101.5,504.6 101.1,503.2Z" fill="#000" fill-opacity="0.025" stroke="#000" stroke-opacity="0.5" stroke-width="0.28"/>
<path d="M102.8,503.0C102.5,501.6 105.0,499.0 106.1,496.9C107.1,494.9 108.0,492.8 109.1,490.7C110.2,488.5 111.6,485.4 112.5,483.9C113.4,482.3 114.1,481.7 114.8,481.2C115.4,480.8 116.0,480.8 116.6,481.0C117.2,481.1 117.9,481.4 118.3,482.3C118.7,483.2 119.0,484.4 119.1,486.5C119.2,488.6 119.1,492.1 119.1,494.8C119.0,497.6 119.7,501.3 118.7,503.0C117.7,504.6 115.0,504.5 113.2,504.8C111.5,505.1 109.7,505.1 108.0,504.8C106.2,504.5 103.1,504.3 102.8,503.0Z" fill="#000" fill-opacity="0.025" stroke="#000" stroke-opacity="0.5" stroke-width="0.28"/>
<path d="M104.5,502.7C104.2,501.5 106.4,499.1 107.3,497.2C108.2,495.3 108.9,493.4 109.8,491.4C110.7,489.4 111.9,486.6 112.7,485.2C113.5,483.8 114.1,483.2 114.6,482.8C115.2,482.4 115.7,482.4 116.2,482.6C116.7,482.7 117.3,482.9 117.7,483.8C118.0,484.6 118.2,485.7 118.3,487.6C118.4,489.5 118.4,492.8 118.3,495.3C118.3,497.8 118.8,501.2 118.0,502.7C117.2,504.2 114.9,504.1 113.4,504.4C111.8,504.7 110.4,504.7 108.9,504.4C107.4,504.1 104.8,503.9 104.5,502.7Z" fill="#000" fill-opacity="0.025" stroke="#000" stroke-opacity="0.5" stroke-width="0.28"/>
<path d="M106.2,502.5C106.0,501.4 107.7,499.2 108.5,497.5C109.2,495.8 109.8,494.0 110.6,492.2C111.3,490.4 112.3,487.9 112.9,486.6C113.6,485.2 114.0,484.8 114.5,484.4C115.0,484.0 115.4,484.0 115.8,484.1C116.3,484.3 116.7,484.5 117.0,485.2C117.3,486.0 117.5,487.0 117.6,488.7C117.6,490.5 117.6,493.4 117.6,495.7C117.5,498.0 118.0,501.1 117.3,502.5C116.6,503.9 114.7,503.8 113.5,504.0C112.2,504.3 111.0,504.3 109.8,504.0C108.6,503.8 106.4,503.6 106.2,502.5Z" fill="#000" fill-opacity="0.025" stroke="#000" stroke-opacity="0.5" stroke-width="0.28"/>
<path d="M107.9,502.3C107.7,501.3 109.1,499.3 109.7,497.7C110.2,496.2 110.7,494.7 111.3,493.0C111.9,491.4 112.7,489.1 113.2,487.9C113.7,486.7 114.0,486.3 114.4,485.9C114.8,485.6 115.1,485.6 115.4,485.7C115.8,485.9 116.2,486.0 116.4,486.7C116.6,487.4 116.7,488.3 116.8,489.9C116.9,491.4 116.8,494.1 116.8,496.2C116.8,498.2 117.1,501.0 116.6,502.3C116.0,503.5 114.6,503.4 113.6,503.6C112.6,503.9 111.6,503.9 110.7,503.6C109.7,503.4 108.0,503.2 107.9,502.3Z" fill="#000" fill-opacity="0.025" stroke="#000" stroke-opacity="0.5" stroke-width="0.28"/>
<path d="M109.5,502.0C109.4,501.1 110.4,499.4 110.8,498.0C111.3,496.6 111.6,495.3 112.0,493.8C112.5,492.3 113.0,490.3 113.4,489.2C113.8,488.2 114.0,487.8 114.3,487.5C114.6,487.2 114.8,487.2 115.0,487.3C115.3,487.4 115.6,487.6 115.7,488.2C115.9,488.8 116.0,489.6 116.0,491.0C116.1,492.4 116.1,494.8 116.0,496.6C116.0,498.4 116.3,500.9 115.9,502.0C115.5,503.1 114.4,503.0 113.7,503.2C113.0,503.5 112.3,503.5 111.6,503.2C110.9,503.0 109.7,502.9 109.5,502.0Z" fill="#000" fill-opacity="0.025" stroke="#000" stroke-opacity="0.5" stroke-width="0.28"/>
<path d="M52.2,517.2C52.2,514.3 52.0,510.1 55.0,508.0C58.0,505.9 64.2,504.8 70.0,504.5C75.8,504.2 84.2,506.4 90.0,506.5C95.8,506.6 100.3,505.6 105.0,505.0C109.7,504.4 114.4,502.5 118.0,503.0C121.6,503.5 125.1,505.3 126.7,508.0C128.3,510.7 128.6,515.8 127.5,519.0C126.4,522.2 126.2,525.6 120.0,527.0C113.8,528.4 99.2,527.3 90.0,527.5C80.8,527.7 70.8,528.3 65.0,528.0C59.2,527.7 57.1,527.3 55.0,525.5C52.9,523.7 52.2,520.1 52.2,517.2Z" fill="#000" fill-opacity="0.075" stroke="#000" stroke-opacity="0.45" stroke-width="0.35"/>
<path d="M54.9,517.2C54.9,514.7 54.8,510.7 57.6,508.7C60.5,506.8 66.6,505.9 72.2,505.7C77.8,505.5 85.9,507.4 91.5,507.5C97.1,507.5 101.4,506.6 105.7,506.1C110.1,505.7 114.3,504.1 117.5,504.8C120.7,505.4 123.6,507.4 124.8,509.8C126.0,512.3 126.2,516.7 124.6,519.4C123.1,522.2 121.8,525.1 115.6,526.3C109.4,527.5 95.9,526.6 87.7,526.6C79.4,526.6 70.8,526.9 65.8,526.4C60.8,525.9 59.5,525.2 57.6,523.7C55.8,522.1 54.9,519.7 54.9,517.2Z" fill="#000" fill-opacity="0.075" stroke="#000" stroke-opacity="0.45" stroke-width="0.35"/>
<path d="M56.9,517.1C56.9,515.0 56.8,511.0 59.6,509.3C62.4,507.5 68.3,506.7 73.8,506.5C79.3,506.4 87.1,508.1 92.6,508.2C98.0,508.2 102.2,507.3 106.3,506.9C110.4,506.6 114.2,505.4 117.1,506.1C120.0,506.8 122.6,508.9 123.5,511.2C124.4,513.5 124.4,517.3 122.5,519.8C120.7,522.2 118.4,524.8 112.3,525.8C106.2,526.9 93.6,526.1 85.9,526.0C78.3,525.9 70.8,525.8 66.4,525.2C62.0,524.6 61.2,523.6 59.6,522.3C58.0,521.0 56.9,519.3 56.9,517.1Z" fill="#000" fill-opacity="0.075" stroke="#000" stroke-opacity="0.45" stroke-width="0.35"/>
<path d="M58.7,517.1C58.7,515.2 58.6,511.4 61.4,509.8C64.1,508.1 69.9,507.5 75.3,507.3C80.7,507.2 88.3,508.7 93.5,508.8C98.8,508.9 102.9,507.9 106.8,507.7C110.6,507.4 114.2,506.4 116.8,507.2C119.3,508.0 121.6,510.3 122.2,512.4C122.8,514.6 122.7,517.9 120.6,520.1C118.5,522.2 115.4,524.5 109.4,525.4C103.3,526.3 91.4,525.6 84.3,525.4C77.3,525.2 70.8,524.8 66.9,524.1C63.1,523.4 62.7,522.2 61.4,521.1C60.0,519.9 58.7,519.0 58.7,517.1Z" fill="#000" fill-opacity="0.075" stroke="#000" stroke-opacity="0.45" stroke-width="0.35"/>
<path d="M60.3,517.1C60.3,515.5 60.3,511.7 63.0,510.2C65.7,508.7 71.4,508.2 76.7,508.1C81.9,507.9 89.4,509.3 94.5,509.4C99.5,509.4 103.6,508.5 107.2,508.3C110.9,508.2 114.1,507.5 116.4,508.3C118.7,509.2 120.7,511.6 121.0,513.6C121.4,515.6 121.2,518.4 118.8,520.3C116.4,522.2 112.6,524.2 106.6,525.0C100.7,525.7 89.4,525.1 82.9,524.8C76.3,524.5 70.8,523.9 67.4,523.1C64.1,522.3 64.2,520.9 63.0,519.9C61.8,518.9 60.3,518.7 60.3,517.1Z" fill="#000" fill-opacity="0.075" stroke="#000" stroke-opacity="0.45" stroke-width="0.35"/>
<path d="M61.9,517.1C61.9,515.7 61.9,512.1 64.6,510.7C67.3,509.3 72.9,508.9 78.0,508.8C83.1,508.6 90.4,509.9 95.3,510.0C100.3,510.0 104.2,509.1 107.7,509.0C111.1,508.9 114.1,508.4 116.1,509.4C118.2,510.3 119.8,512.8 119.9,514.7C120.1,516.5 119.8,518.9 117.1,520.6C114.5,522.3 110.0,524.0 104.0,524.6C98.1,525.2 87.5,524.7 81.5,524.3C75.5,523.9 70.7,523.1 67.9,522.1C65.1,521.2 65.6,519.7 64.6,518.8C63.6,518.0 61.9,518.5 61.9,517.1Z" fill="#000" fill-opacity="0.075" stroke="#000" stroke-opacity="0.45" stroke-width="0.35"/>
<path d="M63.5,517.1C63.5,516.0 63.5,512.4 66.1,511.1C68.7,509.8 74.2,509.5 79.2,509.4C84.2,509.3 91.4,510.5 96.2,510.5C101.0,510.5 104.8,509.6 108.1,509.6C111.4,509.6 114.0,509.4 115.8,510.4C117.6,511.4 118.9,514.0 118.9,515.7C118.8,517.4 118.4,519.4 115.5,520.8C112.6,522.3 107.4,523.7 101.5,524.2C95.6,524.7 85.7,524.3 80.1,523.8C74.6,523.3 70.7,522.2 68.4,521.2C66.0,520.2 66.9,518.5 66.1,517.8C65.3,517.1 63.5,518.2 63.5,517.1Z" fill="#000" fill-opacity="0.075" stroke="#000" stroke-opacity="0.45" stroke-width="0.35"/>
<path d="M64.9,517.1C64.9,516.2 65.0,512.6 67.5,511.5C70.1,510.3 75.5,510.1 80.4,510.1C85.4,510.0 92.3,511.0 97.0,511.0C101.6,511.1 105.4,510.2 108.5,510.2C111.6,510.3 114.0,510.3 115.6,511.4C117.1,512.4 118.1,515.1 117.9,516.7C117.6,518.3 117.0,519.9 113.9,521.1C110.8,522.3 104.9,523.5 99.1,523.9C93.3,524.2 83.9,523.9 78.9,523.3C73.8,522.7 70.7,521.4 68.8,520.3C66.9,519.2 68.2,517.3 67.5,516.8C66.9,516.2 64.9,517.9 64.9,517.1Z" fill="#000" fill-opacity="0.075" stroke="#000" stroke-opacity="0.45" stroke-width="0.35"/>
<path d="M66.4,517.0C66.4,516.4 66.4,512.9 69.0,511.9C71.5,510.8 76.8,510.8 81.6,510.7C86.4,510.6 93.2,511.5 97.8,511.5C102.3,511.6 106.0,510.7 108.9,510.8C111.8,510.9 114.0,511.2 115.3,512.3C116.6,513.4 117.3,516.2 116.9,517.7C116.4,519.2 115.7,520.4 112.4,521.3C109.0,522.3 102.5,523.3 96.7,523.5C90.9,523.8 82.2,523.5 77.6,522.8C73.0,522.2 70.7,520.6 69.3,519.5C67.8,518.3 69.4,516.2 69.0,515.8C68.5,515.4 66.4,517.7 66.4,517.0Z" fill="#000" fill-opacity="0.075" stroke="#000" stroke-opacity="0.45" stroke-width="0.35"/>
<path d="M67.8,517.0C67.8,516.6 67.8,513.2 70.3,512.3C72.8,511.3 78.1,511.4 82.8,511.3C87.5,511.3 94.1,512.0 98.5,512.0C102.9,512.0 106.5,511.2 109.3,511.4C112.0,511.6 113.9,512.0 115.0,513.2C116.1,514.4 116.6,517.3 115.9,518.6C115.2,520.0 114.5,520.8 110.9,521.6C107.3,522.3 100.2,523.0 94.4,523.2C88.7,523.3 80.5,523.1 76.4,522.4C72.2,521.6 70.7,519.9 69.7,518.6C68.7,517.4 70.6,515.1 70.3,514.9C70.0,514.6 67.8,517.5 67.8,517.0Z" fill="#000" fill-opacity="0.075" stroke="#000" stroke-opacity="0.45" stroke-width="0.35"/>
<path d="M69.2,517.0C69.2,516.8 69.2,513.5 71.7,512.6C74.1,511.8 79.3,511.9 83.9,511.9C88.5,511.9 95.0,512.5 99.3,512.5C103.6,512.5 107.1,511.7 109.6,511.9C112.2,512.2 113.9,512.8 114.8,514.1C115.6,515.4 115.8,518.3 114.9,519.6C114.0,520.9 113.2,521.2 109.4,521.8C105.6,522.3 97.9,522.8 92.2,522.8C86.5,522.9 78.9,522.8 75.2,521.9C71.5,521.1 70.7,519.1 70.1,517.8C69.5,516.5 71.8,514.0 71.7,513.9C71.5,513.8 69.2,517.2 69.2,517.0Z" fill="#000" fill-opacity="0.075" stroke="#000" stroke-opacity="0.45" stroke-width="0.35"/>
<path d="M70.5,517.0C70.5,517.0 70.6,513.8 73.0,513.0C75.4,512.2 80.5,512.5 85.0,512.5C89.5,512.5 95.8,513.0 100.0,513.0C104.2,513.0 107.6,512.2 110.0,512.5C112.4,512.8 113.8,513.7 114.5,515.0C115.2,516.3 115.1,519.3 114.0,520.5C112.9,521.7 112.0,521.7 108.0,522.0C104.0,522.3 95.7,522.6 90.0,522.5C84.3,522.4 77.2,522.4 74.0,521.5C70.8,520.6 70.7,518.4 70.5,517.0C70.3,515.6 73.0,513.0 73.0,513.0C73.0,513.0 70.5,517.0 70.5,517.0Z" fill="#000" fill-opacity="0.075" stroke="#000" stroke-opacity="0.45" stroke-width="0.35"/>
<path d="M71,517 C72,513.5 80,513 92,513.5 C102,514 110,513 113.5,514.5 C115.5,517 114.5,521 110,522 C98,522.8 82,522.5 74,521.5 C71.5,520.5 70.5,518.5 71,517 Z" fill="#fff" fill-opacity="0.62" stroke="#000" stroke-opacity="0.7" stroke-width="1.6"/>
<path d="M76,511 C85,509 95,508.5 101,510.5" fill="none" stroke="#000" stroke-opacity="0.45" stroke-width="1.2"/>
<ellipse cx="60" cy="517.4" rx="6.5" ry="5" fill="#000" fill-opacity="0.35"/>
<ellipse cx="59.5" cy="517.4" rx="3.6" ry="2.7" transform="rotate(0 59.5 517.4)" fill="#fff" fill-opacity="0.85" stroke="#000" stroke-opacity="0.85" stroke-width="2.2"/>
</g>
<rect x="79.4" y="453.3" width="56.0" height="51.9" fill="none" stroke="#3a3a3a" stroke-width="1"/>
<text x="79.6" y="479.6" font-size="11.7" text-anchor="end" fill="#1a1a1a" stroke="#1a1a1a" >28.3</text>
<rect x="153.4" y="442.1" width="96.3" height="94.0" fill="#fff" stroke="#c4c4c4" stroke-width="0.9"/>
<path d="M151.0,442.1h2.4M151.0,468.5h2.4M151.0,497.3h2.4M181.1,536.1v2.4M205.2,536.1v2.4M228.4,536.1v2.4M249.7,536.1v2.4" stroke="#333" stroke-width="0.75" fill="none"/>
<path d="M152.1,460.6h1.3M152.1,455.9h1.3M152.1,452.6h1.3M152.1,450.0h1.3M152.1,448.0h1.3M152.1,446.2h1.3M152.1,444.7h1.3M152.1,443.3h1.3M152.1,488.6h1.3M152.1,483.6h1.3M152.1,480.0h1.3M152.1,477.2h1.3M152.1,474.9h1.3M152.1,473.0h1.3M152.1,471.3h1.3M152.1,469.8h1.3M152.1,528.1h1.3M152.1,530.7h1.3M152.1,533.3h1.3M171.9,536.1v1.3M174.2,536.1v1.3M175.8,536.1v1.3M177.1,536.1v1.3M178.2,536.1v1.3M179.1,536.1v1.3M179.8,536.1v1.3M180.5,536.1v1.3M188.4,536.1v1.3M192.6,536.1v1.3M195.6,536.1v1.3M197.9,536.1v1.3M199.9,536.1v1.3M201.5,536.1v1.3M202.9,536.1v1.3M204.1,536.1v1.3M212.2,536.1v1.3M216.3,536.1v1.3M219.2,536.1v1.3M221.4,536.1v1.3M223.3,536.1v1.3M224.8,536.1v1.3M226.2,536.1v1.3M227.3,536.1v1.3M234.8,536.1v1.3M238.6,536.1v1.3M241.2,536.1v1.3M243.3,536.1v1.3M245.0,536.1v1.3M246.4,536.1v1.3M247.6,536.1v1.3M248.7,536.1v1.3M154.9,536.1v1.3M157.1,536.1v1.3M159.3,536.1v1.3M161.5,536.1v1.3" stroke="#444" stroke-width="0.6" fill="none"/>
<rect x="151.2" y="516.1" width="2.2" height="10.0" fill="#222" fill-opacity="0.55"/>
<rect x="164.4" y="536.1" width="3.3" height="2.2" fill="#222" fill-opacity="0.65"/>
<g filter="url(#soft)">
<path d="M197.5,501.6h0.9v0.9h-0.9zM212.9,467.1h0.9v0.9h-0.9zM160.4,482.7h0.9v0.9h-0.9zM181.5,511.8h0.9v0.9h-0.9zM214.8,497.8h0.9v0.9h-0.9zM204.2,501.9h0.9v0.9h-0.9zM171.2,487.0h0.9v0.9h-0.9zM172.5,518.3h0.9v0.9h-0.9zM164.3,512.4h0.9v0.9h-0.9zM165.5,503.6h0.9v0.9h-0.9zM186.5,484.7h0.9v0.9h-0.9zM226.9,458.8h0.9v0.9h-0.9zM164.4,518.9h0.9v0.9h-0.9zM200.3,463.6h0.9v0.9h-0.9zM238.5,521.0h0.9v0.9h-0.9zM168.6,485.9h0.9v0.9h-0.9zM170.4,478.5h0.9v0.9h-0.9zM209.3,468.5h0.9v0.9h-0.9zM215.3,461.0h0.9v0.9h-0.9zM173.2,512.2h0.9v0.9h-0.9zM191.6,485.6h0.9v0.9h-0.9zM207.2,489.5h0.9v0.9h-0.9zM190.3,459.6h0.9v0.9h-0.9zM217.7,522.4h0.9v0.9h-0.9zM237.7,502.0h0.9v0.9h-0.9zM188.1,481.9h0.9v0.9h-0.9zM214.8,502.7h0.9v0.9h-0.9zM168.7,473.3h0.9v0.9h-0.9zM188.6,491.8h0.9v0.9h-0.9zM224.4,491.1h0.9v0.9h-0.9zM161.8,512.7h0.9v0.9h-0.9zM194.0,492.3h0.9v0.9h-0.9zM177.3,486.2h0.9v0.9h-0.9zM190.6,509.3h0.9v0.9h-0.9zM167.8,494.4h0.9v0.9h-0.9zM173.8,504.2h0.9v0.9h-0.9zM162.5,476.1h0.9v0.9h-0.9zM187.1,500.2h0.9v0.9h-0.9zM163.7,488.3h0.9v0.9h-0.9zM176.3,476.4h0.9v0.9h-0.9zM197.7,521.8h0.9v0.9h-0.9zM198.0,521.6h0.9v0.9h-0.9zM173.0,519.5h0.9v0.9h-0.9zM188.7,470.2h0.9v0.9h-0.9zM219.4,518.7h0.9v0.9h-0.9zM160.1,475.5h0.9v0.9h-0.9zM221.2,480.4h0.9v0.9h-0.9zM178.9,458.1h0.9v0.9h-0.9zM162.8,499.0h0.9v0.9h-0.9zM238.3,524.4h0.9v0.9h-0.9zM199.8,459.2h0.9v0.9h-0.9zM185.3,510.3h0.9v0.9h-0.9zM226.1,500.4h0.9v0.9h-0.9zM177.9,492.9h0.9v0.9h-0.9zM197.7,499.6h0.9v0.9h-0.9z" fill="#000" fill-opacity="0.5"/>
<path d="M166.6,517.2C165.9,514.7 167.3,508.9 168.0,505.0C168.7,501.1 169.0,497.6 171.0,493.8C173.0,490.0 176.8,485.6 180.0,482.0C183.2,478.4 186.3,474.9 190.0,471.9C193.7,468.9 197.9,465.8 202.0,464.0C206.1,462.2 211.1,461.2 214.8,461.0C218.5,460.8 221.3,461.7 224.0,463.0C226.7,464.3 229.5,465.8 230.8,469.0C232.1,472.2 232.2,477.1 232.0,482.0C231.8,486.9 231.1,493.9 229.4,498.2C227.7,502.5 225.2,505.1 222.0,508.0C218.8,510.9 214.9,513.9 210.4,515.7C205.9,517.5 199.9,518.5 195.0,519.0C190.1,519.5 185.0,518.4 181.2,518.6C177.4,518.8 174.4,520.2 172.0,520.0C169.6,519.8 167.3,519.7 166.6,517.2Z" fill="#000" fill-opacity="0.030" stroke="#000" stroke-opacity="0.5" stroke-width="0.28"/>
<path d="M167.7,516.3C167.1,513.9 168.4,508.3 169.1,504.5C169.8,500.7 170.1,497.3 172.0,493.5C174.0,489.8 177.7,485.6 180.8,482.0C183.8,478.5 186.9,475.1 190.5,472.2C194.1,469.3 198.1,466.3 202.2,464.5C206.2,462.7 211.0,461.7 214.6,461.6C218.2,461.4 221.0,462.2 223.6,463.5C226.2,464.8 228.9,466.3 230.2,469.4C231.5,472.5 231.6,477.3 231.3,482.0C231.1,486.8 230.4,493.6 228.8,497.8C227.2,502.1 224.7,504.5 221.6,507.4C218.5,510.2 214.7,513.1 210.3,514.9C206.0,516.7 200.1,517.6 195.4,518.1C190.6,518.6 185.7,517.6 181.9,517.7C178.2,517.9 175.4,519.3 173.0,519.1C170.6,518.9 168.4,518.8 167.7,516.3Z" fill="#000" fill-opacity="0.030" stroke="#000" stroke-opacity="0.5" stroke-width="0.28"/>
<path d="M169.0,515.4C168.4,513.0 169.7,507.5 170.3,503.8C171.0,500.2 171.3,496.9 173.2,493.3C175.1,489.6 178.7,485.6 181.6,482.1C184.6,478.7 187.6,475.4 191.1,472.6C194.5,469.7 198.5,466.8 202.3,465.1C206.2,463.4 210.9,462.4 214.4,462.2C217.8,462.1 220.5,462.9 223.1,464.1C225.6,465.4 228.2,466.8 229.5,469.8C230.7,472.8 230.8,477.5 230.6,482.1C230.4,486.7 229.7,493.3 228.1,497.4C226.6,501.5 224.1,503.9 221.2,506.7C218.2,509.4 214.5,512.2 210.3,514.0C206.0,515.7 200.3,516.6 195.8,517.1C191.2,517.5 186.4,516.5 182.8,516.7C179.2,516.9 176.4,518.2 174.1,518.0C171.8,517.8 169.7,517.7 169.0,515.4Z" fill="#000" fill-opacity="0.030" stroke="#000" stroke-opacity="0.5" stroke-width="0.28"/>
<path d="M170.4,514.4C169.8,512.1 171.0,506.8 171.7,503.2C172.3,499.6 172.6,496.5 174.4,493.0C176.2,489.4 179.7,485.5 182.6,482.2C185.4,478.8 188.3,475.7 191.6,472.9C195.0,470.2 198.8,467.4 202.5,465.7C206.3,464.0 210.8,463.1 214.2,462.9C217.5,462.8 220.1,463.6 222.5,464.8C224.9,466.0 227.5,467.4 228.7,470.3C229.9,473.2 230.0,477.7 229.8,482.2C229.6,486.6 228.9,493.0 227.4,497.0C225.9,500.9 223.6,503.3 220.7,505.9C217.8,508.6 214.3,511.3 210.2,513.0C206.1,514.7 200.6,515.6 196.2,516.0C191.8,516.4 187.1,515.5 183.6,515.6C180.2,515.8 177.5,517.1 175.3,516.9C173.1,516.7 171.0,516.6 170.4,514.4Z" fill="#000" fill-opacity="0.030" stroke="#000" stroke-opacity="0.5" stroke-width="0.28"/>
<path d="M171.8,513.3C171.2,511.1 172.4,506.0 173.0,502.5C173.7,499.1 173.9,496.0 175.6,492.6C177.4,489.2 180.7,485.4 183.5,482.2C186.3,479.0 189.0,475.9 192.3,473.3C195.5,470.7 199.1,467.9 202.7,466.3C206.4,464.7 210.7,463.8 213.9,463.7C217.1,463.5 219.6,464.3 222.0,465.4C224.3,466.6 226.7,467.9 227.9,470.7C229.1,473.5 229.2,477.9 229.0,482.2C228.8,486.5 228.1,492.7 226.7,496.5C225.2,500.3 223.0,502.6 220.2,505.2C217.4,507.7 214.0,510.4 210.1,512.0C206.1,513.6 200.9,514.5 196.6,514.9C192.4,515.3 187.9,514.4 184.6,514.5C181.2,514.7 178.6,516.0 176.5,515.8C174.4,515.6 172.4,515.5 171.8,513.3Z" fill="#000" fill-opacity="0.030" stroke="#000" stroke-opacity="0.5" stroke-width="0.28"/>
<path d="M173.3,512.2C172.7,510.1 173.8,505.2 174.4,501.8C175.0,498.5 175.3,495.6 176.9,492.3C178.6,489.1 181.8,485.4 184.5,482.3C187.1,479.2 189.8,476.2 192.9,473.7C196.0,471.1 199.5,468.5 202.9,467.0C206.4,465.4 210.6,464.6 213.7,464.4C216.8,464.3 219.2,465.0 221.4,466.1C223.6,467.3 226.0,468.5 227.1,471.2C228.2,473.9 228.3,478.1 228.1,482.3C227.9,486.4 227.3,492.4 225.9,496.1C224.5,499.7 222.4,501.9 219.7,504.4C217.1,506.9 213.8,509.4 210.0,510.9C206.2,512.5 201.2,513.3 197.1,513.7C193.0,514.1 188.7,513.3 185.5,513.4C182.3,513.5 179.8,514.8 177.8,514.6C175.7,514.4 173.8,514.3 173.3,512.2Z" fill="#000" fill-opacity="0.030" stroke="#000" stroke-opacity="0.5" stroke-width="0.28"/>
<path d="M174.7,511.1C174.2,509.1 175.3,504.3 175.9,501.1C176.4,497.9 176.7,495.1 178.3,492.0C179.9,488.8 182.9,485.3 185.5,482.3C188.0,479.4 190.6,476.5 193.5,474.1C196.5,471.6 199.8,469.1 203.2,467.6C206.5,466.1 210.5,465.3 213.4,465.2C216.4,465.0 218.7,465.7 220.8,466.8C223.0,467.9 225.2,469.1 226.3,471.7C227.4,474.3 227.4,478.4 227.2,482.3C227.1,486.3 226.5,492.0 225.2,495.6C223.8,499.1 221.8,501.2 219.2,503.6C216.7,506.0 213.5,508.4 209.9,509.9C206.3,511.4 201.4,512.2 197.5,512.6C193.6,513.0 189.5,512.1 186.5,512.2C183.4,512.4 181.0,513.6 179.1,513.4C177.1,513.2 175.3,513.1 174.7,511.1Z" fill="#000" fill-opacity="0.030" stroke="#000" stroke-opacity="0.5" stroke-width="0.28"/>
<path d="M176.2,510.0C175.7,508.0 176.7,503.5 177.3,500.4C177.9,497.4 178.1,494.6 179.6,491.6C181.1,488.6 184.1,485.3 186.5,482.4C188.9,479.5 191.4,476.8 194.2,474.5C197.0,472.1 200.2,469.7 203.4,468.3C206.5,466.9 210.4,466.1 213.2,466.0C216.0,465.8 218.2,466.5 220.2,467.5C222.3,468.6 224.4,469.7 225.4,472.2C226.5,474.7 226.5,478.6 226.4,482.4C226.2,486.2 225.6,491.7 224.4,495.1C223.1,498.5 221.1,500.5 218.7,502.8C216.3,505.1 213.3,507.4 209.8,508.8C206.4,510.2 201.7,511.0 198.0,511.4C194.3,511.8 190.4,510.9 187.4,511.1C184.5,511.2 182.2,512.3 180.4,512.2C178.5,512.0 176.7,511.9 176.2,510.0Z" fill="#000" fill-opacity="0.030" stroke="#000" stroke-opacity="0.5" stroke-width="0.28"/>
<path d="M177.8,508.8C177.3,507.0 178.2,502.6 178.8,499.7C179.3,496.8 179.5,494.2 181.0,491.3C182.4,488.4 185.2,485.2 187.5,482.5C189.8,479.7 192.2,477.1 194.8,474.9C197.5,472.7 200.6,470.3 203.6,469.0C206.6,467.6 210.2,466.9 212.9,466.7C215.6,466.6 217.7,467.2 219.6,468.2C221.6,469.2 223.6,470.4 224.6,472.7C225.6,475.1 225.6,478.8 225.5,482.5C225.3,486.1 224.8,491.4 223.6,494.6C222.4,497.8 220.5,499.8 218.2,501.9C215.9,504.1 213.0,506.3 209.7,507.7C206.4,509.1 202.0,509.8 198.5,510.2C194.9,510.5 191.2,509.8 188.4,509.9C185.6,510.0 183.5,511.1 181.7,510.9C179.9,510.8 178.2,510.7 177.8,508.8Z" fill="#000" fill-opacity="0.030" stroke="#000" stroke-opacity="0.5" stroke-width="0.28"/>
<path d="M179.3,507.7C178.8,505.9 179.8,501.7 180.3,499.0C180.8,496.2 181.0,493.7 182.3,491.0C183.7,488.2 186.4,485.1 188.6,482.5C190.8,479.9 193.0,477.5 195.5,475.3C198.0,473.2 200.9,471.0 203.8,469.7C206.7,468.4 210.1,467.6 212.7,467.5C215.2,467.4 217.2,468.0 219.0,469.0C220.9,469.9 222.8,471.0 223.7,473.2C224.7,475.5 224.7,479.1 224.6,482.5C224.4,486.0 223.9,491.0 222.8,494.1C221.6,497.2 219.8,499.0 217.6,501.1C215.5,503.2 212.7,505.3 209.6,506.6C206.5,507.9 202.3,508.6 199.0,509.0C195.6,509.3 192.1,508.6 189.4,508.7C186.7,508.8 184.7,509.8 183.0,509.7C181.3,509.5 179.8,509.5 179.3,507.7Z" fill="#000" fill-opacity="0.030" stroke="#000" stroke-opacity="0.5" stroke-width="0.28"/>
<path d="M180.9,506.5C180.4,504.8 181.3,500.9 181.8,498.2C182.3,495.6 182.4,493.2 183.7,490.6C185.0,488.0 187.6,485.1 189.6,482.6C191.7,480.1 193.8,477.8 196.2,475.7C198.6,473.7 201.3,471.6 204.0,470.4C206.7,469.1 210.0,468.4 212.4,468.3C214.8,468.2 216.7,468.8 218.4,469.7C220.2,470.6 222.0,471.6 222.9,473.8C223.7,475.9 223.8,479.3 223.7,482.6C223.5,485.9 223.0,490.7 222.0,493.6C220.9,496.5 219.2,498.3 217.1,500.3C215.0,502.2 212.5,504.2 209.5,505.5C206.6,506.7 202.6,507.4 199.4,507.7C196.3,508.0 192.9,507.3 190.4,507.4C187.9,507.6 186.0,508.6 184.4,508.4C182.8,508.2 181.3,508.2 180.9,506.5Z" fill="#000" fill-opacity="0.030" stroke="#000" stroke-opacity="0.5" stroke-width="0.28"/>
<path d="M182.4,505.3C182.0,503.7 182.8,500.0 183.3,497.5C183.7,495.0 183.9,492.7 185.1,490.3C186.4,487.8 188.7,485.0 190.7,482.7C192.6,480.3 194.6,478.1 196.9,476.2C199.1,474.2 201.7,472.2 204.2,471.1C206.8,469.9 209.9,469.2 212.1,469.1C214.4,469.0 216.2,469.6 217.8,470.4C219.4,471.3 221.2,472.3 222.0,474.3C222.8,476.3 222.9,479.5 222.7,482.7C222.6,485.8 222.2,490.3 221.1,493.1C220.1,495.9 218.5,497.5 216.6,499.4C214.6,501.3 212.2,503.2 209.4,504.4C206.7,505.5 202.9,506.2 199.9,506.5C196.9,506.8 193.8,506.1 191.4,506.2C189.1,506.3 187.3,507.3 185.8,507.1C184.3,507.0 182.8,506.9 182.4,505.3Z" fill="#000" fill-opacity="0.030" stroke="#000" stroke-opacity="0.5" stroke-width="0.28"/>
<path d="M184.0,504.1C183.6,502.6 184.4,499.1 184.8,496.7C185.3,494.3 185.4,492.2 186.6,489.9C187.7,487.6 189.9,484.9 191.8,482.7C193.6,480.5 195.4,478.4 197.5,476.6C199.7,474.8 202.1,472.9 204.5,471.8C206.9,470.7 209.7,470.1 211.9,470.0C214.0,469.9 215.6,470.4 217.2,471.2C218.7,472.0 220.3,472.9 221.1,474.8C221.9,476.7 221.9,479.8 221.8,482.7C221.7,485.7 221.3,489.9 220.3,492.6C219.3,495.2 217.9,496.8 216.0,498.5C214.2,500.3 211.9,502.1 209.3,503.2C206.7,504.3 203.2,504.9 200.4,505.2C197.6,505.5 194.7,504.9 192.5,505.0C190.2,505.1 188.5,506.0 187.1,505.8C185.7,505.7 184.4,505.6 184.0,504.1Z" fill="#000" fill-opacity="0.030" stroke="#000" stroke-opacity="0.5" stroke-width="0.28"/>
<path d="M185.6,502.9C185.3,501.5 186.0,498.2 186.4,495.9C186.8,493.7 186.9,491.7 188.0,489.5C189.1,487.3 191.1,484.9 192.8,482.8C194.6,480.7 196.3,478.7 198.2,477.0C200.2,475.3 202.5,473.5 204.7,472.5C206.9,471.5 209.6,470.9 211.6,470.8C213.6,470.7 215.1,471.2 216.6,471.9C218.0,472.7 219.5,473.5 220.2,475.4C220.9,477.2 221.0,480.0 220.9,482.8C220.7,485.6 220.4,489.6 219.5,492.1C218.6,494.5 217.2,496.0 215.5,497.7C213.8,499.3 211.7,501.0 209.2,502.1C206.8,503.1 203.6,503.7 200.9,503.9C198.3,504.2 195.6,503.6 193.5,503.7C191.4,503.8 189.8,504.7 188.5,504.5C187.2,504.4 186.0,504.3 185.6,502.9Z" fill="#000" fill-opacity="0.030" stroke="#000" stroke-opacity="0.5" stroke-width="0.28"/>
<path d="M187.2,501.7C186.9,500.4 187.6,497.3 187.9,495.2C188.3,493.1 188.4,491.2 189.4,489.2C190.4,487.1 192.4,484.8 193.9,482.9C195.5,480.9 197.1,479.1 198.9,477.4C200.8,475.8 202.9,474.2 204.9,473.2C207.0,472.2 209.5,471.7 211.3,471.6C213.2,471.5 214.6,472.0 215.9,472.7C217.3,473.4 218.7,474.2 219.3,475.9C220.0,477.6 220.0,480.3 219.9,482.9C219.8,485.5 219.5,489.2 218.6,491.5C217.8,493.9 216.5,495.2 214.9,496.8C213.3,498.3 211.4,499.9 209.1,500.9C206.9,501.9 203.9,502.4 201.4,502.7C199.0,502.9 196.5,502.4 194.5,502.5C192.6,502.5 191.2,503.3 189.9,503.2C188.7,503.1 187.6,503.0 187.2,501.7Z" fill="#000" fill-opacity="0.030" stroke="#000" stroke-opacity="0.5" stroke-width="0.28"/>
<path d="M188.9,500.5C188.6,499.2 189.2,496.3 189.5,494.4C189.8,492.5 190.0,490.7 190.9,488.8C191.8,486.9 193.6,484.7 195.0,482.9C196.5,481.1 198.0,479.4 199.6,477.9C201.3,476.4 203.3,474.9 205.2,473.9C207.1,473.0 209.4,472.5 211.1,472.4C212.7,472.4 214.1,472.8 215.3,473.4C216.5,474.1 217.8,474.9 218.4,476.4C219.0,478.0 219.1,480.5 219.0,482.9C218.9,485.4 218.5,488.8 217.8,491.0C217.0,493.2 215.8,494.4 214.4,495.9C212.9,497.3 211.1,498.8 209.0,499.7C207.0,500.7 204.2,501.1 201.9,501.4C199.7,501.6 197.4,501.1 195.6,501.2C193.8,501.3 192.5,502.0 191.4,501.9C190.2,501.8 189.2,501.7 188.9,500.5Z" fill="#000" fill-opacity="0.030" stroke="#000" stroke-opacity="0.5" stroke-width="0.28"/>
<path d="M190.5,499.3C190.2,498.1 190.8,495.4 191.1,493.6C191.4,491.8 191.5,490.2 192.4,488.4C193.2,486.7 194.8,484.7 196.1,483.0C197.5,481.3 198.8,479.7 200.3,478.3C201.9,476.9 203.7,475.5 205.4,474.7C207.1,473.8 209.2,473.4 210.8,473.3C212.3,473.2 213.5,473.6 214.6,474.2C215.8,474.8 216.9,475.5 217.5,477.0C218.1,478.5 218.1,480.7 218.0,483.0C217.9,485.2 217.6,488.5 216.9,490.5C216.2,492.5 215.1,493.7 213.8,495.0C212.5,496.4 210.8,497.7 208.9,498.6C207.0,499.4 204.5,499.9 202.4,500.1C200.4,500.3 198.3,499.8 196.6,499.9C195.0,500.0 193.8,500.7 192.8,500.5C191.8,500.4 190.8,500.4 190.5,499.3Z" fill="#000" fill-opacity="0.030" stroke="#000" stroke-opacity="0.5" stroke-width="0.28"/>
<path d="M192.2,498.0C191.9,497.0 192.4,494.5 192.7,492.8C193.0,491.2 193.1,489.7 193.8,488.1C194.6,486.4 196.0,484.6 197.3,483.1C198.5,481.5 199.7,480.0 201.1,478.8C202.5,477.5 204.1,476.2 205.6,475.4C207.2,474.6 209.1,474.2 210.5,474.1C211.9,474.1 213.0,474.4 214.0,475.0C215.0,475.6 216.1,476.2 216.6,477.5C217.1,478.9 217.1,481.0 217.0,483.1C217.0,485.1 216.7,488.1 216.1,489.9C215.4,491.8 214.4,492.9 213.2,494.1C212.0,495.3 210.5,496.6 208.8,497.4C207.1,498.2 204.8,498.6 203.0,498.8C201.1,499.0 199.2,498.5 197.7,498.6C196.3,498.7 195.1,499.3 194.2,499.2C193.3,499.1 192.4,499.1 192.2,498.0Z" fill="#000" fill-opacity="0.030" stroke="#000" stroke-opacity="0.5" stroke-width="0.28"/>
<path d="M193.8,496.8C193.6,495.8 194.0,493.6 194.3,492.0C194.5,490.5 194.6,489.2 195.3,487.7C196.0,486.2 197.3,484.5 198.4,483.1C199.5,481.7 200.5,480.4 201.8,479.2C203.0,478.1 204.5,476.9 205.9,476.2C207.3,475.5 209.0,475.1 210.2,475.0C211.5,474.9 212.4,475.3 213.4,475.8C214.3,476.3 215.2,476.9 215.7,478.1C216.1,479.3 216.2,481.2 216.1,483.1C216.0,485.0 215.8,487.7 215.2,489.4C214.6,491.1 213.7,492.1 212.7,493.2C211.6,494.3 210.3,495.5 208.7,496.2C207.2,496.9 205.1,497.3 203.5,497.5C201.8,497.7 200.1,497.2 198.8,497.3C197.5,497.4 196.5,497.9 195.7,497.9C194.8,497.8 194.0,497.7 193.8,496.8Z" fill="#000" fill-opacity="0.030" stroke="#000" stroke-opacity="0.5" stroke-width="0.28"/>
<path d="M195.5,495.5C195.3,494.6 195.7,492.6 195.9,491.2C196.1,489.9 196.2,488.7 196.8,487.3C197.4,486.0 198.6,484.5 199.5,483.2C200.4,481.9 201.4,480.7 202.5,479.7C203.6,478.6 204.9,477.5 206.1,476.9C207.3,476.3 208.8,475.9 209.9,475.9C211.0,475.8 211.9,476.1 212.7,476.6C213.5,477.0 214.3,477.5 214.7,478.6C215.1,479.8 215.2,481.5 215.1,483.2C215.0,484.9 214.8,487.4 214.3,488.9C213.8,490.4 213.0,491.3 212.1,492.3C211.2,493.3 210.0,494.4 208.6,495.0C207.3,495.6 205.5,496.0 204.0,496.1C202.5,496.3 201.0,496.0 199.9,496.0C198.7,496.1 197.8,496.6 197.1,496.5C196.4,496.4 195.7,496.4 195.5,495.5Z" fill="#000" fill-opacity="0.030" stroke="#000" stroke-opacity="0.5" stroke-width="0.28"/>
<path d="M190.0,504.0C189.2,501.7 197.1,494.4 200.0,490.0C202.9,485.6 204.8,480.0 207.5,477.7C210.2,475.4 214.9,475.2 216.2,476.3C217.4,477.4 215.5,481.7 215.0,484.0C214.5,486.3 214.5,487.7 213.3,490.0C212.1,492.3 209.4,495.7 208.0,498.0C206.6,500.3 207.6,503.0 204.6,504.0C201.6,505.0 190.8,506.3 190.0,504.0Z" fill="#fff" fill-opacity="0.35" stroke="#000" stroke-opacity="0.55" stroke-width="1.0"/>
<ellipse cx="208" cy="485" rx="3" ry="6" transform="rotate(25 208 485)" fill="#fff" fill-opacity="0.55"/>
<path d="M186.3,500.7C187.0,501.5 187.6,502.6 187.8,503.8C188.0,505.0 187.9,506.4 187.5,507.8C187.1,509.2 186.3,510.7 185.4,511.9C184.5,513.2 183.2,514.5 181.9,515.4C180.7,516.3 179.2,517.1 177.8,517.5C176.4,517.9 175.0,518.0 173.8,517.8C172.6,517.6 171.5,517.0 170.7,516.3C170.0,515.5 169.4,514.4 169.2,513.2C169.0,512.0 169.1,510.6 169.5,509.2C169.9,507.8 170.7,506.3 171.6,505.1C172.5,503.8 173.8,502.5 175.1,501.6C176.3,500.7 177.8,499.9 179.2,499.5C180.6,499.1 182.0,499.0 183.2,499.2C184.4,499.4 185.5,500.0 186.3,500.7Z" fill="#000" fill-opacity="0.070" stroke="#000" stroke-opacity="0.4" stroke-width="0.3"/>
<path d="M185.5,501.2C186.2,501.9 186.8,502.9 187.0,504.0C187.2,505.1 187.1,506.5 186.7,507.8C186.4,509.0 185.7,510.4 184.8,511.6C183.9,512.8 182.8,514.0 181.6,514.9C180.4,515.8 179.0,516.5 177.8,516.9C176.5,517.3 175.1,517.4 174.0,517.2C172.9,517.0 171.9,516.5 171.2,515.8C170.4,515.1 169.9,514.0 169.7,512.9C169.5,511.8 169.6,510.5 170.0,509.2C170.3,507.9 171.0,506.5 171.9,505.3C172.7,504.1 173.9,503.0 175.1,502.1C176.2,501.2 177.6,500.5 178.9,500.1C180.2,499.7 181.5,499.6 182.6,499.8C183.7,499.9 184.8,500.5 185.5,501.2Z" fill="#000" fill-opacity="0.070" stroke="#000" stroke-opacity="0.4" stroke-width="0.3"/>
<path d="M184.7,501.6C185.4,502.3 185.9,503.2 186.1,504.3C186.3,505.3 186.3,506.5 185.9,507.7C185.6,508.9 185.0,510.2 184.2,511.3C183.4,512.4 182.3,513.6 181.3,514.4C180.2,515.2 178.9,515.9 177.7,516.3C176.6,516.6 175.3,516.7 174.3,516.6C173.2,516.4 172.3,516.0 171.6,515.3C170.9,514.7 170.4,513.7 170.2,512.7C170.0,511.7 170.1,510.4 170.4,509.2C170.7,508.0 171.4,506.7 172.1,505.6C172.9,504.5 174.0,503.4 175.1,502.6C176.1,501.7 177.4,501.0 178.6,500.7C179.8,500.3 181.0,500.2 182.1,500.3C183.1,500.5 184.1,501.0 184.7,501.6Z" fill="#000" fill-opacity="0.070" stroke="#000" stroke-opacity="0.4" stroke-width="0.3"/>
<path d="M184.0,502.1C184.6,502.7 185.1,503.5 185.3,504.5C185.5,505.4 185.4,506.6 185.1,507.7C184.9,508.8 184.3,510.0 183.6,511.0C182.9,512.1 181.9,513.1 180.9,513.9C180.0,514.6 178.8,515.3 177.7,515.6C176.6,516.0 175.5,516.1 174.5,516.0C173.6,515.8 172.7,515.4 172.0,514.8C171.4,514.2 170.9,513.4 170.7,512.4C170.5,511.5 170.6,510.3 170.9,509.2C171.1,508.1 171.7,506.9 172.4,505.9C173.1,504.8 174.1,503.8 175.1,503.0C176.0,502.3 177.2,501.6 178.3,501.3C179.4,500.9 180.5,500.8 181.5,500.9C182.4,501.1 183.3,501.5 184.0,502.1Z" fill="#000" fill-opacity="0.070" stroke="#000" stroke-opacity="0.4" stroke-width="0.3"/>
<path d="M183.2,502.5C183.8,503.1 184.3,503.9 184.4,504.7C184.6,505.6 184.6,506.6 184.4,507.6C184.1,508.6 183.6,509.8 183.0,510.7C182.4,511.7 181.5,512.6 180.6,513.4C179.7,514.1 178.6,514.7 177.7,515.0C176.7,515.3 175.6,515.5 174.8,515.4C173.9,515.3 173.0,514.9 172.5,514.3C171.9,513.8 171.4,513.0 171.2,512.2C171.0,511.3 171.1,510.2 171.3,509.2C171.5,508.2 172.0,507.1 172.7,506.1C173.3,505.2 174.2,504.2 175.1,503.5C176.0,502.8 177.0,502.2 178.0,501.9C179.0,501.5 180.0,501.4 180.9,501.5C181.8,501.6 182.6,502.0 183.2,502.5Z" fill="#000" fill-opacity="0.070" stroke="#000" stroke-opacity="0.4" stroke-width="0.3"/>
<path d="M182.4,503.0C183.0,503.4 183.4,504.2 183.6,504.9C183.8,505.7 183.8,506.7 183.6,507.6C183.4,508.5 182.9,509.5 182.4,510.4C181.8,511.3 181.1,512.2 180.3,512.8C179.5,513.5 178.5,514.1 177.6,514.4C176.7,514.7 175.8,514.8 175.0,514.8C174.2,514.7 173.4,514.3 172.9,513.9C172.3,513.4 171.9,512.7 171.7,511.9C171.5,511.1 171.5,510.1 171.8,509.2C172.0,508.3 172.4,507.3 172.9,506.4C173.5,505.5 174.3,504.7 175.1,504.0C175.9,503.3 176.8,502.8 177.7,502.4C178.6,502.1 179.6,502.0 180.3,502.1C181.1,502.2 181.9,502.5 182.4,503.0Z" fill="#000" fill-opacity="0.070" stroke="#000" stroke-opacity="0.4" stroke-width="0.3"/>
<path d="M181.7,503.4C182.2,503.8 182.6,504.5 182.8,505.2C182.9,505.9 183.0,506.7 182.8,507.6C182.6,508.4 182.3,509.3 181.8,510.1C181.3,510.9 180.6,511.7 179.9,512.3C179.2,512.9 178.4,513.5 177.6,513.8C176.8,514.1 175.9,514.2 175.2,514.1C174.5,514.1 173.8,513.8 173.3,513.4C172.8,513.0 172.4,512.3 172.2,511.6C172.1,510.9 172.0,510.1 172.2,509.2C172.4,508.4 172.7,507.5 173.2,506.7C173.7,505.9 174.4,505.1 175.1,504.5C175.8,503.9 176.6,503.3 177.4,503.0C178.2,502.7 179.1,502.6 179.8,502.7C180.5,502.7 181.2,503.0 181.7,503.4Z" fill="#000" fill-opacity="0.070" stroke="#000" stroke-opacity="0.4" stroke-width="0.3"/>
<ellipse cx="177.5" cy="508.4" rx="5.2" ry="3.4" transform="rotate(-50 177.5 508.4)" fill="#fff" fill-opacity="0.9" stroke="#000" stroke-opacity="0.92" stroke-width="2.2"/>
</g>
<rect x="189.0" y="453.3" width="56.4" height="51.9" fill="none" stroke="#3a3a3a" stroke-width="1"/>
<text x="189.2" y="479.6" font-size="11.7" text-anchor="end" fill="#1a1a1a" stroke="#1a1a1a" >64.7</text>
<rect x="260.5" y="442.1" width="96.3" height="94.0" fill="#fff" stroke="#c4c4c4" stroke-width="0.9"/>
<path d="M258.1,442.1h2.4M258.1,468.5h2.4M258.1,497.3h2.4M288.2,536.1v2.4M312.3,536.1v2.4M335.5,536.1v2.4M356.8,536.1v2.4" stroke="#333" stroke-width="0.75" fill="none"/>
<path d="M259.2,460.6h1.3M259.2,455.9h1.3M259.2,452.6h1.3M259.2,450.0h1.3M259.2,448.0h1.3M259.2,446.2h1.3M259.2,444.7h1.3M259.2,443.3h1.3M259.2,488.6h1.3M259.2,483.6h1.3M259.2,480.0h1.3M259.2,477.2h1.3M259.2,474.9h1.3M259.2,473.0h1.3M259.2,471.3h1.3M259.2,469.8h1.3M259.2,528.1h1.3M259.2,530.7h1.3M259.2,533.3h1.3M279.0,536.1v1.3M281.3,536.1v1.3M282.9,536.1v1.3M284.2,536.1v1.3M285.3,536.1v1.3M286.2,536.1v1.3M286.9,536.1v1.3M287.6,536.1v1.3M295.5,536.1v1.3M299.7,536.1v1.3M302.7,536.1v1.3M305.0,536.1v1.3M307.0,536.1v1.3M308.6,536.1v1.3M310.0,536.1v1.3M311.2,536.1v1.3M319.3,536.1v1.3M323.4,536.1v1.3M326.3,536.1v1.3M328.5,536.1v1.3M330.4,536.1v1.3M331.9,536.1v1.3M333.3,536.1v1.3M334.4,536.1v1.3M341.9,536.1v1.3M345.7,536.1v1.3M348.3,536.1v1.3M350.4,536.1v1.3M352.1,536.1v1.3M353.5,536.1v1.3M354.7,536.1v1.3M355.8,536.1v1.3M262.0,536.1v1.3M264.2,536.1v1.3M266.4,536.1v1.3M268.6,536.1v1.3" stroke="#444" stroke-width="0.6" fill="none"/>
<rect x="258.3" y="516.1" width="2.2" height="10.0" fill="#222" fill-opacity="0.55"/>
<rect x="271.5" y="536.1" width="3.3" height="2.2" fill="#222" fill-opacity="0.65"/>
<g filter="url(#soft)">
<path d="M292.7,503.5h0.9v0.9h-0.9zM322.4,514.5h0.9v0.9h-0.9zM287.6,473.0h0.9v0.9h-0.9zM284.9,472.6h0.9v0.9h-0.9zM325.9,466.3h0.9v0.9h-0.9zM311.7,471.9h0.9v0.9h-0.9zM295.2,486.5h0.9v0.9h-0.9zM333.2,498.3h0.9v0.9h-0.9zM275.6,476.0h0.9v0.9h-0.9zM284.8,515.9h0.9v0.9h-0.9zM331.2,511.6h0.9v0.9h-0.9zM332.4,507.4h0.9v0.9h-0.9zM341.0,510.7h0.9v0.9h-0.9zM292.5,514.5h0.9v0.9h-0.9zM308.6,508.1h0.9v0.9h-0.9zM314.0,486.3h0.9v0.9h-0.9zM300.0,486.3h0.9v0.9h-0.9zM296.5,465.4h0.9v0.9h-0.9zM331.9,511.0h0.9v0.9h-0.9zM343.5,503.8h0.9v0.9h-0.9zM313.3,507.7h0.9v0.9h-0.9zM284.0,502.9h0.9v0.9h-0.9zM305.6,469.4h0.9v0.9h-0.9zM288.7,492.6h0.9v0.9h-0.9zM292.3,488.3h0.9v0.9h-0.9zM316.9,484.1h0.9v0.9h-0.9zM283.7,490.4h0.9v0.9h-0.9zM291.0,473.3h0.9v0.9h-0.9zM288.2,482.1h0.9v0.9h-0.9zM279.7,501.2h0.9v0.9h-0.9zM341.3,483.7h0.9v0.9h-0.9zM324.9,520.1h0.9v0.9h-0.9zM277.6,467.0h0.9v0.9h-0.9zM331.0,513.7h0.9v0.9h-0.9zM319.3,468.3h0.9v0.9h-0.9z" fill="#000" fill-opacity="0.5"/>
<path d="M272.4,517.2C271.6,514.2 273.4,508.2 274.0,505.0C274.6,501.8 274.2,501.5 276.0,498.2C277.8,494.9 281.6,489.4 285.0,485.0C288.4,480.6 293.0,475.2 296.5,471.9C300.0,468.6 302.4,466.7 306.0,465.0C309.6,463.3 314.4,462.0 318.4,461.7C322.4,461.4 326.6,462.0 330.0,463.0C333.4,464.0 337.1,464.7 338.8,467.5C340.5,470.3 340.0,475.6 340.0,480.0C340.0,484.4 339.5,489.6 338.8,493.8C338.1,498.0 336.7,501.1 336.0,505.0C335.3,508.9 337.2,514.7 334.5,517.2C331.8,519.7 325.1,519.3 320.0,520.0C314.9,520.7 309.6,521.0 303.8,521.5C298.0,522.0 289.1,522.8 285.0,523.0C280.9,523.2 281.1,524.0 279.0,523.0C276.9,522.0 273.2,520.2 272.4,517.2Z" fill="#000" fill-opacity="0.030" stroke="#000" stroke-opacity="0.5" stroke-width="0.28"/>
<path d="M273.7,516.4C272.9,513.5 274.7,507.6 275.3,504.5C275.8,501.4 275.4,501.1 277.2,497.8C279.0,494.6 282.6,489.2 286.0,484.9C289.3,480.6 293.7,475.4 297.1,472.1C300.5,468.8 302.8,467.0 306.4,465.3C309.9,463.7 314.5,462.4 318.4,462.1C322.3,461.8 326.4,462.4 329.7,463.4C333.0,464.3 336.7,465.0 338.3,467.8C339.9,470.6 339.4,475.7 339.4,480.0C339.4,484.3 338.9,489.4 338.3,493.5C337.6,497.6 336.3,500.7 335.6,504.5C334.9,508.3 336.7,514.0 334.1,516.4C331.5,518.9 325.0,518.5 320.0,519.2C315.0,519.9 309.9,520.1 304.2,520.6C298.6,521.1 290.0,521.8 286.0,522.1C281.9,522.3 282.2,523.0 280.1,522.1C278.1,521.1 274.5,519.3 273.7,516.4Z" fill="#000" fill-opacity="0.030" stroke="#000" stroke-opacity="0.5" stroke-width="0.28"/>
<path d="M275.2,515.5C274.4,512.7 276.1,506.9 276.7,503.9C277.3,500.9 276.8,500.6 278.6,497.4C280.3,494.2 283.8,489.0 287.0,484.8C290.3,480.6 294.6,475.5 297.9,472.3C301.2,469.1 303.4,467.3 306.8,465.7C310.2,464.1 314.7,462.9 318.5,462.6C322.2,462.3 326.2,462.9 329.4,463.8C332.6,464.7 336.1,465.4 337.7,468.1C339.2,470.8 338.8,475.9 338.8,480.0C338.8,484.2 338.3,489.2 337.7,493.2C337.0,497.2 335.7,500.2 335.0,503.9C334.4,507.6 336.1,513.1 333.6,515.5C331.1,517.9 324.8,517.5 320.0,518.2C315.2,518.9 310.2,519.1 304.7,519.6C299.2,520.1 290.9,520.8 287.0,521.0C283.2,521.3 283.4,522.0 281.4,521.0C279.4,520.1 276.0,518.4 275.2,515.5Z" fill="#000" fill-opacity="0.030" stroke="#000" stroke-opacity="0.5" stroke-width="0.28"/>
<path d="M276.7,514.6C276.0,511.8 277.7,506.2 278.2,503.2C278.7,500.3 278.4,500.0 280.0,496.9C281.7,493.8 285.1,488.8 288.2,484.7C291.3,480.6 295.5,475.6 298.6,472.5C301.8,469.4 303.9,467.7 307.3,466.1C310.6,464.6 314.9,463.4 318.5,463.1C322.2,462.8 326.0,463.4 329.1,464.3C332.1,465.2 335.5,465.8 337.0,468.5C338.6,471.1 338.1,476.0 338.1,480.1C338.1,484.1 337.7,489.0 337.0,492.9C336.4,496.7 335.2,499.6 334.5,503.2C333.9,506.9 335.6,512.2 333.1,514.6C330.7,516.9 324.6,516.5 320.0,517.2C315.3,517.8 310.6,518.1 305.3,518.6C300.0,519.0 291.9,519.7 288.2,519.9C284.4,520.2 284.6,520.8 282.7,519.9C280.8,519.1 277.5,517.3 276.7,514.6Z" fill="#000" fill-opacity="0.030" stroke="#000" stroke-opacity="0.5" stroke-width="0.28"/>
<path d="M278.4,513.6C277.6,510.9 279.2,505.4 279.8,502.6C280.3,499.7 279.9,499.5 281.5,496.5C283.1,493.5 286.4,488.5 289.4,484.6C292.4,480.6 296.4,475.8 299.4,472.8C302.5,469.8 304.5,468.1 307.7,466.6C310.9,465.0 315.1,463.9 318.6,463.6C322.1,463.3 325.7,463.9 328.7,464.8C331.7,465.6 334.9,466.3 336.4,468.8C337.8,471.4 337.4,476.1 337.4,480.1C337.4,484.0 337.0,488.8 336.4,492.5C335.8,496.3 334.6,499.1 333.9,502.6C333.3,506.1 335.0,511.3 332.6,513.6C330.3,515.8 324.4,515.5 320.0,516.1C315.5,516.8 310.9,517.0 305.8,517.5C300.7,517.9 293.0,518.6 289.4,518.8C285.8,519.0 286.0,519.7 284.1,518.8C282.3,517.9 279.1,516.3 278.4,513.6Z" fill="#000" fill-opacity="0.030" stroke="#000" stroke-opacity="0.5" stroke-width="0.28"/>
<path d="M280.0,512.6C279.3,510.0 280.9,504.7 281.4,501.9C281.9,499.2 281.5,498.9 283.0,496.0C284.6,493.1 287.7,488.3 290.6,484.5C293.5,480.6 297.3,475.9 300.2,473.0C303.2,470.1 305.1,468.5 308.2,467.0C311.3,465.5 315.3,464.4 318.6,464.1C322.0,463.8 325.5,464.4 328.3,465.2C331.2,466.1 334.3,466.7 335.7,469.2C337.1,471.6 336.7,476.3 336.7,480.1C336.7,483.9 336.3,488.5 335.7,492.1C335.2,495.8 334.0,498.5 333.4,501.9C332.8,505.3 334.4,510.4 332.1,512.6C329.9,514.8 324.2,514.4 320.0,515.0C315.7,515.7 311.3,515.9 306.4,516.3C301.5,516.8 294.1,517.4 290.6,517.6C287.1,517.9 287.3,518.5 285.6,517.6C283.8,516.8 280.7,515.2 280.0,512.6Z" fill="#000" fill-opacity="0.030" stroke="#000" stroke-opacity="0.5" stroke-width="0.28"/>
<path d="M281.7,511.6C281.1,509.0 282.5,503.9 283.0,501.2C283.5,498.6 283.1,498.3 284.6,495.5C286.1,492.7 289.1,488.0 291.8,484.3C294.6,480.6 298.3,476.1 301.1,473.3C303.9,470.4 305.8,468.9 308.7,467.4C311.6,466.0 315.4,464.9 318.7,464.6C321.9,464.4 325.2,464.9 328.0,465.7C330.7,466.6 333.7,467.2 335.0,469.5C336.4,471.9 336.0,476.4 336.0,480.1C336.0,483.8 335.6,488.3 335.0,491.8C334.5,495.3 333.4,497.9 332.8,501.2C332.2,504.5 333.7,509.4 331.6,511.6C329.4,513.7 324.1,513.3 319.9,513.9C315.8,514.5 311.6,514.8 306.9,515.2C302.3,515.6 295.2,516.2 291.8,516.5C288.5,516.7 288.7,517.3 287.0,516.5C285.3,515.6 282.4,514.1 281.7,511.6Z" fill="#000" fill-opacity="0.030" stroke="#000" stroke-opacity="0.5" stroke-width="0.28"/>
<path d="M283.4,510.5C282.8,508.1 284.2,503.1 284.7,500.5C285.1,498.0 284.8,497.7 286.2,495.0C287.6,492.3 290.5,487.8 293.1,484.2C295.7,480.6 299.2,476.2 301.9,473.5C304.6,470.8 306.4,469.3 309.2,467.9C312.0,466.5 315.6,465.5 318.7,465.2C321.8,464.9 325.0,465.5 327.6,466.3C330.2,467.0 333.1,467.6 334.3,469.9C335.6,472.2 335.3,476.6 335.3,480.1C335.3,483.7 334.9,488.0 334.3,491.4C333.8,494.8 332.7,497.4 332.2,500.5C331.6,503.7 333.1,508.5 331.0,510.5C329.0,512.6 323.9,512.2 319.9,512.8C316.0,513.4 312.0,513.6 307.5,514.0C303.0,514.4 296.3,515.0 293.1,515.2C289.9,515.5 290.1,516.0 288.5,515.2C286.9,514.5 284.1,513.0 283.4,510.5Z" fill="#000" fill-opacity="0.030" stroke="#000" stroke-opacity="0.5" stroke-width="0.28"/>
<path d="M285.2,509.5C284.6,507.1 285.9,502.3 286.4,499.8C286.8,497.4 286.5,497.1 287.8,494.5C289.2,491.9 291.9,487.5 294.4,484.1C296.9,480.6 300.2,476.4 302.8,473.8C305.3,471.1 307.0,469.7 309.7,468.3C312.4,467.0 315.8,466.0 318.8,465.7C321.7,465.5 324.7,466.0 327.2,466.8C329.7,467.5 332.4,468.1 333.6,470.3C334.9,472.5 334.5,476.7 334.5,480.2C334.5,483.6 334.1,487.7 333.6,491.0C333.2,494.3 332.1,496.8 331.6,499.8C331.1,502.9 332.4,507.5 330.5,509.5C328.6,511.4 323.7,511.1 319.9,511.7C316.2,512.2 312.4,512.4 308.1,512.8C303.8,513.2 297.4,513.8 294.4,514.0C291.4,514.2 291.5,514.8 290.0,514.0C288.5,513.3 285.8,511.8 285.2,509.5Z" fill="#000" fill-opacity="0.030" stroke="#000" stroke-opacity="0.5" stroke-width="0.28"/>
<path d="M287.0,508.4C286.4,506.1 287.7,501.5 288.1,499.1C288.5,496.7 288.2,496.5 289.5,494.0C290.7,491.4 293.3,487.3 295.7,484.0C298.0,480.6 301.2,476.6 303.6,474.0C306.1,471.5 307.7,470.1 310.2,468.8C312.7,467.5 316.0,466.6 318.8,466.3C321.6,466.0 324.5,466.6 326.8,467.3C329.2,468.0 331.8,468.5 332.9,470.7C334.1,472.8 333.8,476.9 333.8,480.2C333.8,483.5 333.4,487.5 332.9,490.6C332.5,493.8 331.5,496.2 331.0,499.1C330.5,502.1 331.8,506.5 330.0,508.4C328.1,510.3 323.5,510.0 319.9,510.5C316.4,511.0 312.7,511.3 308.7,511.6C304.7,512.0 298.5,512.6 295.7,512.8C292.8,513.0 293.0,513.5 291.5,512.8C290.1,512.0 287.5,510.7 287.0,508.4Z" fill="#000" fill-opacity="0.030" stroke="#000" stroke-opacity="0.5" stroke-width="0.28"/>
<path d="M288.7,507.3C288.2,505.1 289.4,500.7 289.8,498.4C290.2,496.1 289.9,495.9 291.1,493.5C292.3,491.0 294.8,487.0 297.0,483.8C299.2,480.6 302.2,476.7 304.5,474.3C306.8,471.9 308.3,470.5 310.7,469.3C313.1,468.0 316.2,467.1 318.9,466.9C321.5,466.6 324.2,467.1 326.4,467.8C328.7,468.5 331.1,469.0 332.2,471.1C333.3,473.2 333.0,477.0 333.0,480.2C333.0,483.4 332.6,487.2 332.2,490.3C331.8,493.3 330.8,495.6 330.4,498.4C329.9,501.3 331.1,505.5 329.4,507.3C327.6,509.1 323.3,508.8 319.9,509.3C316.6,509.9 313.1,510.1 309.3,510.4C305.5,510.8 299.7,511.3 297.0,511.5C294.3,511.7 294.4,512.2 293.1,511.5C291.7,510.8 289.3,509.5 288.7,507.3Z" fill="#000" fill-opacity="0.030" stroke="#000" stroke-opacity="0.5" stroke-width="0.28"/>
<path d="M290.6,506.2C290.0,504.1 291.2,499.9 291.5,497.7C291.9,495.5 291.6,495.3 292.8,492.9C293.9,490.6 296.2,486.8 298.3,483.7C300.4,480.7 303.3,476.9 305.4,474.6C307.6,472.2 309.0,470.9 311.3,469.7C313.5,468.6 316.4,467.7 318.9,467.4C321.4,467.2 324.0,467.7 326.1,468.3C328.1,469.0 330.4,469.5 331.5,471.5C332.5,473.5 332.2,477.2 332.2,480.2C332.2,483.3 331.9,486.9 331.5,489.9C331.1,492.8 330.2,495.0 329.8,497.7C329.3,500.4 330.5,504.5 328.8,506.2C327.2,508.0 323.0,507.7 319.9,508.2C316.7,508.7 313.5,508.9 309.9,509.2C306.3,509.6 300.9,510.1 298.3,510.3C295.8,510.4 295.9,510.9 294.6,510.3C293.3,509.6 291.1,508.3 290.6,506.2Z" fill="#000" fill-opacity="0.030" stroke="#000" stroke-opacity="0.5" stroke-width="0.28"/>
<path d="M292.4,505.1C291.9,503.1 293.0,499.1 293.3,496.9C293.6,494.8 293.4,494.6 294.5,492.4C295.5,490.2 297.7,486.5 299.7,483.6C301.6,480.7 304.3,477.1 306.3,474.8C308.3,472.6 309.7,471.4 311.8,470.2C313.9,469.1 316.6,468.2 319.0,468.0C321.3,467.8 323.7,468.2 325.7,468.9C327.6,469.5 329.8,470.0 330.7,471.9C331.7,473.8 331.4,477.3 331.4,480.2C331.4,483.2 331.1,486.7 330.7,489.5C330.4,492.2 329.5,494.3 329.1,496.9C328.7,499.6 329.8,503.4 328.3,505.1C326.7,506.8 322.8,506.5 319.9,507.0C316.9,507.4 313.9,507.6 310.5,508.0C307.1,508.3 302.0,508.8 299.7,509.0C297.3,509.1 297.4,509.6 296.2,509.0C295.0,508.3 292.9,507.1 292.4,505.1Z" fill="#000" fill-opacity="0.030" stroke="#000" stroke-opacity="0.5" stroke-width="0.28"/>
<path d="M294.2,504.0C293.8,502.1 294.8,498.2 295.1,496.2C295.4,494.2 295.2,494.0 296.2,491.9C297.1,489.7 299.2,486.2 301.0,483.5C302.8,480.7 305.3,477.2 307.2,475.1C309.1,473.0 310.4,471.8 312.3,470.7C314.3,469.6 316.9,468.8 319.0,468.6C321.2,468.4 323.4,468.8 325.3,469.4C327.1,470.0 329.1,470.5 330.0,472.3C330.9,474.1 330.6,477.5 330.6,480.3C330.6,483.1 330.4,486.4 330.0,489.1C329.6,491.7 328.9,493.7 328.5,496.2C328.1,498.7 329.1,502.4 327.7,504.0C326.2,505.6 322.6,505.3 319.9,505.8C317.1,506.2 314.3,506.4 311.1,506.7C308.0,507.0 303.2,507.5 301.0,507.7C298.8,507.8 298.9,508.3 297.8,507.7C296.6,507.1 294.7,505.9 294.2,504.0Z" fill="#000" fill-opacity="0.030" stroke="#000" stroke-opacity="0.5" stroke-width="0.28"/>
<path d="M296.1,502.9C295.7,501.0 296.6,497.4 296.9,495.5C297.2,493.5 297.0,493.4 297.9,491.3C298.8,489.3 300.7,486.0 302.4,483.3C304.1,480.7 306.4,477.4 308.1,475.4C309.9,473.3 311.0,472.2 312.9,471.2C314.7,470.2 317.1,469.4 319.1,469.2C321.1,469.0 323.2,469.4 324.9,470.0C326.6,470.6 328.4,471.0 329.3,472.7C330.1,474.4 329.9,477.6 329.9,480.3C329.9,482.9 329.6,486.1 329.3,488.7C328.9,491.2 328.2,493.1 327.9,495.5C327.5,497.8 328.4,501.3 327.1,502.9C325.8,504.4 322.4,504.1 319.9,504.6C317.3,505.0 314.7,505.2 311.8,505.5C308.8,505.8 304.4,506.2 302.4,506.4C300.3,506.5 300.4,507.0 299.4,506.4C298.3,505.8 296.5,504.7 296.1,502.9Z" fill="#000" fill-opacity="0.030" stroke="#000" stroke-opacity="0.5" stroke-width="0.28"/>
<path d="M297.9,501.7C297.6,500.0 298.4,496.5 298.7,494.7C298.9,492.9 298.7,492.7 299.6,490.8C300.4,488.9 302.2,485.7 303.7,483.2C305.3,480.7 307.4,477.6 309.0,475.6C310.6,473.7 311.7,472.6 313.4,471.7C315.1,470.7 317.3,470.0 319.1,469.8C321.0,469.6 322.9,470.0 324.4,470.5C326.0,471.1 327.7,471.5 328.5,473.1C329.3,474.7 329.1,477.8 329.1,480.3C329.1,482.8 328.8,485.9 328.5,488.3C328.2,490.7 327.5,492.5 327.2,494.7C326.9,497.0 327.7,500.3 326.5,501.7C325.3,503.2 322.2,502.9 319.8,503.3C317.5,503.8 315.1,503.9 312.4,504.2C309.7,504.5 305.6,504.9 303.7,505.1C301.8,505.2 301.9,505.6 301.0,505.1C300.0,504.5 298.3,503.5 297.9,501.7Z" fill="#000" fill-opacity="0.030" stroke="#000" stroke-opacity="0.5" stroke-width="0.28"/>
<path d="M299.8,500.6C299.5,499.0 300.2,495.7 300.5,493.9C300.7,492.2 300.6,492.1 301.3,490.2C302.1,488.4 303.7,485.4 305.1,483.1C306.6,480.7 308.5,477.7 310.0,475.9C311.4,474.1 312.4,473.1 313.9,472.2C315.5,471.2 317.5,470.5 319.2,470.4C320.8,470.2 322.6,470.5 324.0,471.1C325.5,471.6 327.0,472.0 327.7,473.5C328.4,475.1 328.2,477.9 328.2,480.3C328.2,482.7 328.0,485.6 327.7,487.8C327.5,490.1 326.9,491.8 326.6,493.9C326.3,496.1 327.1,499.2 325.9,500.6C324.8,502.0 322.0,501.7 319.8,502.1C317.7,502.5 315.5,502.7 313.0,502.9C310.6,503.2 306.9,503.6 305.1,503.8C303.4,503.9 303.5,504.3 302.6,503.8C301.7,503.2 300.2,502.2 299.8,500.6Z" fill="#000" fill-opacity="0.030" stroke="#000" stroke-opacity="0.5" stroke-width="0.28"/>
<path d="M301.7,499.5C301.4,497.9 302.1,494.8 302.3,493.2C302.5,491.6 302.4,491.4 303.1,489.7C303.8,488.0 305.2,485.2 306.5,482.9C307.8,480.7 309.5,477.9 310.9,476.2C312.2,474.5 313.1,473.5 314.5,472.7C315.9,471.8 317.7,471.1 319.2,471.0C320.7,470.8 322.3,471.1 323.6,471.6C324.9,472.1 326.3,472.5 327.0,473.9C327.6,475.4 327.4,478.1 327.4,480.4C327.4,482.6 327.2,485.3 327.0,487.4C326.7,489.6 326.2,491.2 325.9,493.2C325.6,495.2 326.4,498.2 325.3,499.5C324.3,500.7 321.8,500.5 319.8,500.9C317.9,501.3 315.9,501.4 313.7,501.7C311.4,501.9 308.1,502.3 306.5,502.4C304.9,502.6 305.0,502.9 304.2,502.4C303.4,501.9 302.0,501.0 301.7,499.5Z" fill="#000" fill-opacity="0.030" stroke="#000" stroke-opacity="0.5" stroke-width="0.28"/>
<path d="M303.6,498.3C303.3,496.9 303.9,493.9 304.2,492.4C304.4,490.9 304.2,490.8 304.8,489.1C305.5,487.5 306.7,484.9 307.9,482.8C309.1,480.7 310.6,478.1 311.8,476.5C313.0,474.9 313.8,474.0 315.0,473.2C316.3,472.3 317.9,471.7 319.3,471.6C320.6,471.4 322.1,471.7 323.2,472.2C324.4,472.7 325.6,473.0 326.2,474.4C326.8,475.7 326.6,478.3 326.6,480.4C326.6,482.5 326.4,485.0 326.2,487.0C326.0,489.0 325.5,490.5 325.3,492.4C325.0,494.3 325.7,497.1 324.7,498.3C323.8,499.5 321.6,499.3 319.8,499.6C318.1,500.0 316.3,500.1 314.3,500.4C312.3,500.6 309.3,501.0 307.9,501.1C306.5,501.2 306.6,501.6 305.9,501.1C305.1,500.6 303.9,499.7 303.6,498.3Z" fill="#000" fill-opacity="0.030" stroke="#000" stroke-opacity="0.5" stroke-width="0.28"/>
<path d="M305.5,497.1C305.3,495.8 305.8,493.1 306.0,491.6C306.2,490.2 306.1,490.1 306.6,488.6C307.2,487.1 308.3,484.6 309.3,482.6C310.3,480.7 311.7,478.3 312.8,476.8C313.8,475.3 314.5,474.4 315.6,473.6C316.7,472.9 318.1,472.3 319.3,472.2C320.5,472.0 321.8,472.3 322.8,472.8C323.8,473.2 324.9,473.5 325.4,474.8C325.9,476.0 325.8,478.4 325.8,480.4C325.8,482.4 325.6,484.7 325.4,486.6C325.2,488.5 324.8,489.9 324.6,491.6C324.4,493.4 324.9,496.0 324.1,497.1C323.3,498.3 321.3,498.1 319.8,498.4C318.3,498.7 316.7,498.8 314.9,499.1C313.2,499.3 310.5,499.6 309.3,499.8C308.1,499.9 308.1,500.2 307.5,499.8C306.9,499.3 305.8,498.5 305.5,497.1Z" fill="#000" fill-opacity="0.030" stroke="#000" stroke-opacity="0.5" stroke-width="0.28"/>
<path d="M284,510 C295,508.5 310,508.5 321,510 C322,513 321,516 318,516.5 C305,517 295,516.5 286,516.5 Z" fill="#fff" fill-opacity="0.3" stroke="#000" stroke-opacity="0.6" stroke-width="1.1"/>
<path d="M297.8,511.4C298.0,512.6 297.8,513.9 297.3,515.0C296.7,516.2 295.7,517.4 294.5,518.4C293.2,519.3 291.6,520.2 290.0,520.7C288.4,521.3 286.4,521.6 284.7,521.6C283.0,521.7 281.2,521.4 279.7,521.0C278.3,520.5 276.9,519.7 276.0,518.8C275.0,517.9 274.4,516.7 274.2,515.6C274.0,514.4 274.2,513.1 274.7,512.0C275.3,510.8 276.3,509.6 277.5,508.6C278.8,507.7 280.4,506.8 282.0,506.3C283.6,505.7 285.6,505.4 287.3,505.4C289.0,505.3 290.8,505.6 292.3,506.0C293.7,506.5 295.1,507.3 296.0,508.2C297.0,509.1 297.6,510.3 297.8,511.4Z" fill="#000" fill-opacity="0.070" stroke="#000" stroke-opacity="0.4" stroke-width="0.3"/>
<path d="M296.8,511.6C297.0,512.6 296.8,513.9 296.3,515.0C295.8,516.1 294.8,517.2 293.7,518.1C292.6,519.0 291.0,519.8 289.5,520.3C288.0,520.8 286.2,521.1 284.6,521.2C283.0,521.2 281.3,521.0 280.0,520.5C278.6,520.1 277.3,519.3 276.5,518.5C275.6,517.6 275.0,516.5 274.8,515.4C274.6,514.4 274.8,513.1 275.3,512.0C275.8,510.9 276.8,509.8 277.9,508.9C279.0,508.0 280.6,507.2 282.1,506.7C283.6,506.2 285.4,505.9 287.0,505.8C288.6,505.8 290.3,506.0 291.6,506.5C293.0,506.9 294.3,507.7 295.1,508.5C296.0,509.4 296.6,510.5 296.8,511.6Z" fill="#000" fill-opacity="0.070" stroke="#000" stroke-opacity="0.4" stroke-width="0.3"/>
<path d="M295.8,511.7C296.0,512.7 295.8,513.9 295.3,514.9C294.8,515.9 293.9,517.0 292.9,517.8C291.9,518.7 290.5,519.4 289.1,519.9C287.7,520.4 286.0,520.7 284.5,520.7C283.1,520.7 281.5,520.5 280.2,520.1C279.0,519.6 277.8,518.9 277.0,518.1C276.2,517.3 275.6,516.3 275.4,515.3C275.2,514.3 275.4,513.1 275.9,512.1C276.4,511.1 277.3,510.0 278.3,509.2C279.3,508.3 280.7,507.6 282.1,507.1C283.5,506.6 285.2,506.3 286.7,506.3C288.1,506.3 289.7,506.5 291.0,506.9C292.2,507.4 293.4,508.1 294.2,508.9C295.0,509.7 295.6,510.7 295.8,511.7Z" fill="#000" fill-opacity="0.070" stroke="#000" stroke-opacity="0.4" stroke-width="0.3"/>
<path d="M294.8,511.9C294.9,512.8 294.8,513.9 294.3,514.8C293.9,515.8 293.1,516.8 292.1,517.6C291.2,518.3 289.9,519.0 288.6,519.5C287.3,519.9 285.8,520.2 284.4,520.2C283.1,520.2 281.6,520.0 280.5,519.6C279.3,519.2 278.2,518.5 277.5,517.8C276.7,517.1 276.2,516.1 276.0,515.1C275.9,514.2 276.0,513.1 276.5,512.2C276.9,511.2 277.7,510.2 278.7,509.4C279.6,508.7 280.9,508.0 282.2,507.5C283.5,507.1 285.0,506.8 286.4,506.8C287.7,506.8 289.2,507.0 290.3,507.4C291.5,507.8 292.6,508.5 293.3,509.2C294.1,509.9 294.6,510.9 294.8,511.9Z" fill="#000" fill-opacity="0.070" stroke="#000" stroke-opacity="0.4" stroke-width="0.3"/>
<path d="M293.7,512.0C293.9,512.9 293.7,513.9 293.4,514.8C293.0,515.6 292.2,516.6 291.4,517.3C290.5,518.0 289.3,518.6 288.1,519.1C287.0,519.5 285.6,519.7 284.3,519.7C283.1,519.7 281.8,519.5 280.7,519.2C279.7,518.8 278.6,518.2 278.0,517.5C277.3,516.8 276.8,515.9 276.7,515.0C276.5,514.1 276.7,513.1 277.0,512.2C277.4,511.4 278.2,510.4 279.0,509.7C279.9,509.0 281.1,508.4 282.3,507.9C283.4,507.5 284.8,507.3 286.1,507.3C287.3,507.3 288.6,507.5 289.7,507.8C290.7,508.2 291.8,508.8 292.4,509.5C293.1,510.2 293.6,511.1 293.7,512.0Z" fill="#000" fill-opacity="0.070" stroke="#000" stroke-opacity="0.4" stroke-width="0.3"/>
<path d="M292.7,512.1C292.9,512.9 292.7,513.9 292.4,514.7C292.0,515.5 291.4,516.4 290.6,517.0C289.8,517.7 288.7,518.3 287.7,518.6C286.6,519.0 285.4,519.2 284.2,519.2C283.1,519.3 281.9,519.1 281.0,518.7C280.0,518.4 279.1,517.8 278.5,517.1C277.9,516.5 277.4,515.7 277.3,514.9C277.1,514.1 277.3,513.1 277.6,512.3C278.0,511.5 278.6,510.6 279.4,510.0C280.2,509.3 281.3,508.7 282.3,508.4C283.4,508.0 284.6,507.8 285.8,507.8C286.9,507.7 288.1,507.9 289.0,508.3C290.0,508.6 290.9,509.2 291.5,509.9C292.1,510.5 292.6,511.3 292.7,512.1Z" fill="#000" fill-opacity="0.070" stroke="#000" stroke-opacity="0.4" stroke-width="0.3"/>
<path d="M291.7,512.3C291.8,513.0 291.7,513.9 291.4,514.6C291.1,515.4 290.5,516.1 289.8,516.7C289.1,517.3 288.2,517.9 287.2,518.2C286.3,518.6 285.1,518.8 284.1,518.8C283.1,518.8 282.1,518.6 281.2,518.3C280.3,517.9 279.5,517.4 279.0,516.8C278.4,516.2 278.0,515.5 277.9,514.7C277.8,514.0 277.9,513.1 278.2,512.4C278.5,511.6 279.1,510.9 279.8,510.3C280.5,509.7 281.4,509.1 282.4,508.8C283.3,508.4 284.5,508.2 285.5,508.2C286.5,508.2 287.5,508.4 288.4,508.7C289.3,509.1 290.1,509.6 290.6,510.2C291.2,510.8 291.6,511.5 291.7,512.3Z" fill="#000" fill-opacity="0.070" stroke="#000" stroke-opacity="0.4" stroke-width="0.3"/>
<ellipse cx="284.8" cy="513.5" rx="6.0" ry="4.3" transform="rotate(-10 284.8 513.5)" fill="#fff" fill-opacity="0.85" stroke="#000" stroke-opacity="0.92" stroke-width="2.2"/>
<path d="M328.7,483.3C328.2,485.0 327.4,486.8 326.5,488.1C325.5,489.5 324.3,490.7 323.0,491.5C321.7,492.3 320.2,492.8 318.9,492.8C317.6,492.9 316.2,492.5 315.0,491.8C313.9,491.1 312.9,489.9 312.2,488.6C311.4,487.3 311.0,485.6 310.8,483.9C310.7,482.3 310.9,480.3 311.3,478.7C311.8,477.0 312.6,475.2 313.5,473.9C314.5,472.5 315.7,471.3 317.0,470.5C318.3,469.7 319.8,469.2 321.1,469.2C322.4,469.1 323.8,469.5 325.0,470.2C326.1,470.9 327.1,472.1 327.8,473.4C328.6,474.7 329.0,476.4 329.2,478.1C329.3,479.7 329.1,481.7 328.7,483.3Z" fill="#000" fill-opacity="0.050" stroke="#000" stroke-opacity="0.4" stroke-width="0.3"/>
<path d="M327.9,483.1C327.5,484.7 326.7,486.3 325.8,487.6C324.9,488.9 323.7,490.0 322.6,490.7C321.4,491.5 320.0,491.9 318.8,491.9C317.6,492.0 316.3,491.6 315.3,491.0C314.3,490.3 313.3,489.2 312.7,488.0C312.1,486.8 311.7,485.2 311.6,483.7C311.5,482.1 311.6,480.3 312.1,478.8C312.5,477.2 313.3,475.6 314.1,474.3C315.0,473.0 316.2,471.9 317.4,471.1C318.5,470.4 319.9,470.0 321.1,469.9C322.3,469.9 323.6,470.2 324.6,470.9C325.7,471.6 326.6,472.6 327.2,473.9C327.9,475.1 328.3,476.7 328.4,478.2C328.5,479.8 328.3,481.6 327.9,483.1Z" fill="#000" fill-opacity="0.050" stroke="#000" stroke-opacity="0.4" stroke-width="0.3"/>
<path d="M327.1,482.9C326.7,484.3 326.0,485.9 325.1,487.0C324.3,488.2 323.2,489.3 322.2,490.0C321.1,490.6 319.9,491.0 318.8,491.1C317.7,491.1 316.5,490.8 315.6,490.2C314.7,489.6 313.8,488.6 313.3,487.4C312.7,486.3 312.4,484.8 312.3,483.4C312.2,482.0 312.4,480.3 312.8,478.9C313.3,477.4 314.0,475.9 314.8,474.7C315.6,473.5 316.7,472.5 317.8,471.8C318.8,471.1 320.1,470.7 321.2,470.7C322.3,470.6 323.4,471.0 324.3,471.6C325.2,472.2 326.1,473.2 326.6,474.3C327.2,475.4 327.5,476.9 327.6,478.4C327.7,479.8 327.5,481.4 327.1,482.9Z" fill="#000" fill-opacity="0.050" stroke="#000" stroke-opacity="0.4" stroke-width="0.3"/>
<path d="M326.3,482.7C325.9,484.0 325.2,485.4 324.5,486.5C323.7,487.6 322.7,488.6 321.8,489.2C320.8,489.8 319.7,490.2 318.7,490.2C317.7,490.2 316.7,489.9 315.9,489.4C315.1,488.8 314.3,487.9 313.9,486.9C313.4,485.8 313.1,484.5 313.1,483.1C313.0,481.8 313.2,480.3 313.6,479.0C314.0,477.6 314.7,476.2 315.4,475.2C316.2,474.1 317.2,473.1 318.1,472.5C319.1,471.8 320.2,471.5 321.2,471.4C322.2,471.4 323.2,471.7 324.0,472.3C324.8,472.8 325.5,473.7 326.0,474.8C326.5,475.8 326.8,477.2 326.8,478.5C326.9,479.8 326.7,481.3 326.3,482.7Z" fill="#000" fill-opacity="0.050" stroke="#000" stroke-opacity="0.4" stroke-width="0.3"/>
<path d="M325.5,482.5C325.1,483.7 324.5,485.0 323.8,485.9C323.1,486.9 322.2,487.8 321.3,488.4C320.5,489.0 319.5,489.3 318.6,489.3C317.8,489.4 316.9,489.1 316.2,488.6C315.5,488.1 314.8,487.2 314.4,486.3C314.0,485.3 313.8,484.1 313.8,482.9C313.8,481.7 314.0,480.3 314.4,479.1C314.8,477.8 315.4,476.6 316.1,475.6C316.7,474.6 317.6,473.7 318.5,473.1C319.4,472.6 320.4,472.2 321.2,472.2C322.1,472.2 323.0,472.4 323.7,472.9C324.4,473.5 325.0,474.3 325.4,475.2C325.8,476.2 326.0,477.4 326.0,478.6C326.1,479.8 325.8,481.2 325.5,482.5Z" fill="#000" fill-opacity="0.050" stroke="#000" stroke-opacity="0.4" stroke-width="0.3"/>
<path d="M324.7,482.2C324.3,483.3 323.7,484.5 323.1,485.4C322.5,486.3 321.7,487.1 320.9,487.6C320.2,488.1 319.3,488.4 318.5,488.5C317.8,488.5 317.0,488.2 316.4,487.8C315.8,487.3 315.3,486.5 315.0,485.7C314.7,484.8 314.5,483.7 314.5,482.6C314.6,481.5 314.8,480.3 315.1,479.2C315.5,478.1 316.1,476.9 316.7,476.0C317.3,475.1 318.1,474.3 318.9,473.8C319.6,473.3 320.5,473.0 321.3,472.9C322.0,472.9 322.8,473.2 323.4,473.6C324.0,474.1 324.5,474.9 324.8,475.7C325.1,476.6 325.3,477.7 325.3,478.8C325.2,479.9 325.0,481.1 324.7,482.2Z" fill="#000" fill-opacity="0.050" stroke="#000" stroke-opacity="0.4" stroke-width="0.3"/>
<ellipse cx="319.9" cy="480.7" rx="4.2" ry="7.2" transform="rotate(18 319.9 480.7)" fill="#fff" fill-opacity="0.7" stroke="#000" stroke-opacity="0.75" stroke-width="1.8"/>
</g>
<rect x="296.3" y="453.3" width="56.6" height="51.9" fill="none" stroke="#3a3a3a" stroke-width="1"/>
<text x="296.5" y="479.6" font-size="11.7" text-anchor="end" fill="#1a1a1a" stroke="#1a1a1a" >54.1</text>
<rect x="42.8" y="548.4" width="96.3" height="95.3" fill="#fff" stroke="#c4c4c4" stroke-width="0.9"/>
<path d="M40.4,548.4h2.4M40.4,574.8h2.4M40.4,603.6h2.4M70.5,643.7v2.4M94.6,643.7v2.4M117.8,643.7v2.4M139.1,643.7v2.4" stroke="#333" stroke-width="0.75" fill="none"/>
<path d="M41.5,566.9h1.3M41.5,562.2h1.3M41.5,558.9h1.3M41.5,556.3h1.3M41.5,554.3h1.3M41.5,552.5h1.3M41.5,551.0h1.3M41.5,549.6h1.3M41.5,594.9h1.3M41.5,589.9h1.3M41.5,586.3h1.3M41.5,583.5h1.3M41.5,581.2h1.3M41.5,579.3h1.3M41.5,577.6h1.3M41.5,576.1h1.3M41.5,634.4h1.3M41.5,637.0h1.3M41.5,639.6h1.3M41.5,642.2h1.3M61.3,643.7v1.3M63.6,643.7v1.3M65.2,643.7v1.3M66.5,643.7v1.3M67.6,643.7v1.3M68.5,643.7v1.3M69.2,643.7v1.3M69.9,643.7v1.3M77.8,643.7v1.3M82.0,643.7v1.3M85.0,643.7v1.3M87.3,643.7v1.3M89.3,643.7v1.3M90.9,643.7v1.3M92.3,643.7v1.3M93.5,643.7v1.3M101.6,643.7v1.3M105.7,643.7v1.3M108.6,643.7v1.3M110.8,643.7v1.3M112.7,643.7v1.3M114.2,643.7v1.3M115.6,643.7v1.3M116.7,643.7v1.3M124.2,643.7v1.3M128.0,643.7v1.3M130.6,643.7v1.3M132.7,643.7v1.3M134.4,643.7v1.3M135.8,643.7v1.3M137.0,643.7v1.3M138.1,643.7v1.3M44.3,643.7v1.3M46.5,643.7v1.3M48.7,643.7v1.3M50.9,643.7v1.3" stroke="#444" stroke-width="0.6" fill="none"/>
<rect x="40.6" y="622.4" width="2.2" height="10.0" fill="#222" fill-opacity="0.55"/>
<rect x="53.8" y="643.7" width="3.3" height="2.2" fill="#222" fill-opacity="0.65"/>
<g filter="url(#soft)">
<path d="M68.8,615.2h0.9v0.9h-0.9zM105.9,630.7h0.9v0.9h-0.9zM80.0,586.2h0.9v0.9h-0.9zM111.5,612.3h0.9v0.9h-0.9zM82.2,614.0h0.9v0.9h-0.9zM88.5,620.1h0.9v0.9h-0.9zM69.6,584.1h0.9v0.9h-0.9zM122.8,592.8h0.9v0.9h-0.9zM79.3,621.8h0.9v0.9h-0.9zM104.5,579.3h0.9v0.9h-0.9zM99.0,612.7h0.9v0.9h-0.9zM72.8,611.9h0.9v0.9h-0.9zM69.9,591.5h0.9v0.9h-0.9zM67.2,582.8h0.9v0.9h-0.9zM128.1,595.8h0.9v0.9h-0.9zM128.9,598.1h0.9v0.9h-0.9zM102.9,626.3h0.9v0.9h-0.9zM108.3,576.8h0.9v0.9h-0.9zM101.6,610.7h0.9v0.9h-0.9zM73.9,575.7h0.9v0.9h-0.9zM121.0,602.9h0.9v0.9h-0.9zM74.7,599.0h0.9v0.9h-0.9zM76.4,621.4h0.9v0.9h-0.9zM95.6,576.2h0.9v0.9h-0.9zM117.2,575.4h0.9v0.9h-0.9zM80.6,571.4h0.9v0.9h-0.9zM111.9,577.0h0.9v0.9h-0.9zM97.3,575.6h0.9v0.9h-0.9z" fill="#000" fill-opacity="0.45"/>
<path d="M68.3,611.9C67.1,610.4 75.1,607.2 78.0,605.0C80.9,602.8 83.0,601.3 85.8,598.8C88.6,596.3 92.1,592.8 95.0,590.0C97.9,587.2 100.5,584.2 103.0,582.0C105.5,579.8 107.8,578.2 110.0,577.0C112.2,575.8 114.6,574.0 116.5,575.0C118.4,576.0 120.4,578.7 121.6,582.7C122.8,586.7 123.4,593.4 123.8,598.8C124.2,604.2 124.8,611.3 123.8,615.0C122.8,618.7 122.0,620.8 118.0,621.0C114.0,621.2 105.5,617.2 100.0,616.0C94.5,614.8 90.3,614.7 85.0,614.0C79.7,613.3 69.5,613.4 68.3,611.9Z" fill="#000" fill-opacity="0.025" stroke="#000" stroke-opacity="0.5" stroke-width="0.28"/>
<path d="M70.6,611.7C69.5,610.2 77.0,607.1 79.7,605.0C82.5,603.0 84.4,601.5 87.1,599.1C89.8,596.7 93.1,593.4 95.8,590.7C98.5,588.0 101.0,585.1 103.4,583.0C105.7,581.0 107.9,579.4 110.0,578.3C112.1,577.1 114.3,575.4 116.1,576.3C118.0,577.3 119.8,579.9 121.0,583.7C122.1,587.5 122.7,594.0 123.0,599.1C123.4,604.3 124.0,611.1 123.0,614.6C122.1,618.2 121.3,620.2 117.6,620.4C113.8,620.5 105.7,616.7 100.5,615.6C95.3,614.5 91.4,614.3 86.4,613.7C81.4,613.0 71.7,613.1 70.6,611.7Z" fill="#000" fill-opacity="0.025" stroke="#000" stroke-opacity="0.5" stroke-width="0.28"/>
<path d="M72.9,611.4C71.8,610.0 78.9,607.1 81.5,605.1C84.1,603.1 85.9,601.7 88.4,599.4C91.0,597.2 94.1,594.0 96.6,591.4C99.2,588.8 101.5,586.1 103.8,584.1C106.0,582.1 108.0,580.6 110.0,579.5C112.0,578.5 114.1,576.8 115.8,577.7C117.5,578.6 119.2,581.1 120.3,584.7C121.4,588.4 122.0,594.5 122.3,599.4C122.6,604.4 123.2,610.9 122.3,614.2C121.4,617.6 120.7,619.6 117.1,619.7C113.6,619.9 106.0,616.2 101.1,615.1C96.2,614.1 92.4,613.9 87.7,613.3C83.0,612.7 73.9,612.8 72.9,611.4Z" fill="#000" fill-opacity="0.025" stroke="#000" stroke-opacity="0.5" stroke-width="0.28"/>
<path d="M75.1,611.2C74.2,609.8 80.8,607.0 83.2,605.1C85.7,603.3 87.4,601.9 89.8,599.8C92.1,597.6 95.1,594.5 97.5,592.1C99.9,589.7 102.1,587.0 104.1,585.1C106.2,583.3 108.1,581.8 110.0,580.8C111.9,579.8 113.8,578.2 115.4,579.0C117.1,579.9 118.7,582.3 119.7,585.7C120.7,589.2 121.2,595.1 121.5,599.8C121.8,604.4 122.3,610.6 121.5,613.9C120.7,617.1 120.0,618.9 116.7,619.1C113.4,619.2 106.2,615.7 101.6,614.7C97.0,613.7 93.5,613.6 89.1,613.0C84.7,612.4 76.1,612.5 75.1,611.2Z" fill="#000" fill-opacity="0.025" stroke="#000" stroke-opacity="0.5" stroke-width="0.28"/>
<path d="M77.4,610.9C76.5,609.7 82.7,607.0 85.0,605.2C87.3,603.4 88.9,602.1 91.1,600.1C93.3,598.0 96.0,595.1 98.3,592.8C100.5,590.5 102.6,588.0 104.5,586.2C106.5,584.4 108.2,583.0 110.0,582.1C111.8,581.1 113.6,579.6 115.1,580.4C116.6,581.2 118.1,583.5 119.1,586.8C120.0,590.0 120.5,595.6 120.8,600.1C121.1,604.5 121.5,610.4 120.8,613.5C120.0,616.5 119.3,618.3 116.3,618.4C113.2,618.6 106.5,615.3 102.2,614.3C97.9,613.3 94.6,613.2 90.5,612.6C86.3,612.1 78.3,612.1 77.4,610.9Z" fill="#000" fill-opacity="0.025" stroke="#000" stroke-opacity="0.5" stroke-width="0.28"/>
<path d="M79.7,610.7C78.9,609.5 84.6,607.0 86.7,605.2C88.9,603.5 90.4,602.4 92.4,600.4C94.5,598.4 97.0,595.7 99.1,593.5C101.2,591.3 103.1,588.9 104.9,587.2C106.7,585.5 108.4,584.2 110.0,583.3C111.6,582.4 113.3,581.0 114.7,581.8C116.1,582.5 117.5,584.7 118.4,587.8C119.3,590.9 119.8,596.2 120.0,600.4C120.3,604.6 120.7,610.2 120.0,613.1C119.3,616.0 118.7,617.7 115.8,617.8C112.9,617.9 106.7,614.8 102.7,613.9C98.7,613.0 95.7,612.8 91.8,612.3C88.0,611.8 80.5,611.8 79.7,610.7Z" fill="#000" fill-opacity="0.025" stroke="#000" stroke-opacity="0.5" stroke-width="0.28"/>
<path d="M82.0,610.4C81.2,609.3 86.5,606.9 88.5,605.3C90.5,603.7 91.8,602.6 93.7,600.7C95.6,598.9 98.0,596.3 99.9,594.2C101.8,592.1 103.6,589.9 105.3,588.3C107.0,586.7 108.5,585.4 110.0,584.6C111.5,583.7 113.1,582.4 114.4,583.1C115.7,583.8 117.0,585.9 117.8,588.8C118.6,591.7 119.0,596.7 119.3,600.7C119.5,604.7 119.9,610.0 119.3,612.7C118.6,615.4 118.0,617.0 115.4,617.1C112.7,617.3 107.0,614.3 103.3,613.4C99.6,612.6 96.8,612.5 93.2,612.0C89.6,611.5 82.8,611.5 82.0,610.4Z" fill="#000" fill-opacity="0.025" stroke="#000" stroke-opacity="0.5" stroke-width="0.28"/>
<path d="M84.3,610.2C83.5,609.1 88.4,606.9 90.2,605.4C92.0,603.8 93.3,602.8 95.1,601.0C96.8,599.3 99.0,596.9 100.7,594.9C102.5,592.9 104.1,590.8 105.7,589.3C107.2,587.8 108.6,586.7 110.0,585.8C111.4,585.0 112.8,583.8 114.0,584.5C115.2,585.1 116.4,587.1 117.2,589.8C117.9,592.6 118.3,597.3 118.5,601.0C118.7,604.8 119.1,609.7 118.5,612.3C117.9,614.9 117.4,616.4 114.9,616.5C112.5,616.6 107.2,613.8 103.8,613.0C100.4,612.2 97.8,612.1 94.6,611.6C91.3,611.1 85.0,611.2 84.3,610.2Z" fill="#000" fill-opacity="0.025" stroke="#000" stroke-opacity="0.5" stroke-width="0.28"/>
<path d="M86.5,609.9C85.9,608.9 90.4,606.8 92.0,605.4C93.6,604.0 94.8,603.0 96.4,601.3C98.0,599.7 99.9,597.4 101.6,595.6C103.2,593.8 104.7,591.8 106.1,590.4C107.5,589.0 108.7,587.9 110.0,587.1C111.3,586.3 112.6,585.2 113.7,585.8C114.7,586.4 115.8,588.2 116.5,590.8C117.2,593.4 117.6,597.8 117.8,601.3C118.0,604.9 118.3,609.5 117.8,611.9C117.2,614.4 116.7,615.7 114.5,615.9C112.3,616.0 107.5,613.3 104.4,612.6C101.3,611.8 98.9,611.7 95.9,611.3C93.0,610.8 87.2,610.9 86.5,609.9Z" fill="#000" fill-opacity="0.025" stroke="#000" stroke-opacity="0.5" stroke-width="0.28"/>
<path d="M88.8,609.7C88.2,608.7 92.3,606.8 93.7,605.5C95.2,604.1 96.3,603.2 97.7,601.7C99.1,600.1 100.9,598.0 102.4,596.3C103.8,594.6 105.2,592.7 106.4,591.4C107.7,590.1 108.9,589.1 110.0,588.4C111.1,587.7 112.3,586.6 113.3,587.1C114.3,587.7 115.3,589.4 115.9,591.8C116.5,594.3 116.8,598.4 117.0,601.7C117.2,605.0 117.5,609.3 117.0,611.5C116.5,613.8 116.1,615.1 114.1,615.2C112.0,615.3 107.7,612.9 104.9,612.2C102.1,611.4 100.0,611.4 97.3,610.9C94.6,610.5 89.4,610.6 88.8,609.7Z" fill="#000" fill-opacity="0.025" stroke="#000" stroke-opacity="0.5" stroke-width="0.28"/>
<path d="M91.1,609.4C90.6,608.6 94.2,606.7 95.5,605.5C96.8,604.3 97.7,603.4 99.0,602.0C100.3,600.6 101.9,598.6 103.2,597.0C104.5,595.4 105.7,593.7 106.8,592.5C108.0,591.2 109.0,590.3 110.0,589.6C111.0,589.0 112.1,588.0 112.9,588.5C113.8,589.0 114.7,590.6 115.3,592.9C115.8,595.1 116.1,598.9 116.3,602.0C116.4,605.0 116.7,609.1 116.3,611.2C115.8,613.3 115.4,614.5 113.6,614.6C111.8,614.7 108.0,612.4 105.5,611.7C103.0,611.1 101.1,611.0 98.7,610.6C96.3,610.2 91.6,610.3 91.1,609.4Z" fill="#000" fill-opacity="0.025" stroke="#000" stroke-opacity="0.5" stroke-width="0.28"/>
<path d="M93.4,609.2C92.9,608.4 96.1,606.7 97.2,605.5C98.4,604.4 99.2,603.6 100.4,602.3C101.5,601.0 102.9,599.2 104.0,597.7C105.2,596.2 106.2,594.6 107.2,593.5C108.2,592.4 109.1,591.5 110.0,590.9C110.9,590.3 111.8,589.4 112.6,589.9C113.4,590.3 114.1,591.8 114.6,593.9C115.1,596.0 115.4,599.5 115.5,602.3C115.6,605.1 115.9,608.8 115.5,610.8C115.1,612.7 114.8,613.8 113.2,613.9C111.6,614.0 108.2,611.9 106.0,611.3C103.8,610.7 102.1,610.6 100.0,610.3C97.9,609.9 93.8,609.9 93.4,609.2Z" fill="#000" fill-opacity="0.025" stroke="#000" stroke-opacity="0.5" stroke-width="0.28"/>
<path d="M95.7,608.9C95.3,608.2 98.0,606.6 99.0,605.6C100.0,604.6 100.7,603.8 101.7,602.6C102.6,601.4 103.9,599.7 104.8,598.4C105.8,597.1 106.7,595.6 107.6,594.6C108.5,593.5 109.2,592.7 110.0,592.2C110.8,591.6 111.6,590.7 112.2,591.2C112.9,591.7 113.6,593.0 114.0,594.9C114.4,596.8 114.6,600.0 114.7,602.6C114.9,605.2 115.1,608.6 114.7,610.4C114.4,612.2 114.1,613.2 112.8,613.3C111.4,613.4 108.5,611.4 106.6,610.9C104.7,610.3 103.2,610.2 101.4,609.9C99.6,609.6 96.1,609.6 95.7,608.9Z" fill="#000" fill-opacity="0.025" stroke="#000" stroke-opacity="0.5" stroke-width="0.28"/>
<path d="M97.9,608.7C97.6,608.0 99.9,606.6 100.7,605.6C101.6,604.7 102.2,604.0 103.0,602.9C103.8,601.9 104.8,600.3 105.7,599.1C106.5,597.9 107.3,596.6 108.0,595.6C108.7,594.7 109.3,593.9 110.0,593.4C110.7,592.9 111.3,592.1 111.9,592.5C112.4,593.0 113.0,594.2 113.4,595.9C113.7,597.6 113.9,600.6 114.0,602.9C114.1,605.3 114.3,608.4 114.0,610.0C113.7,611.6 113.5,612.6 112.3,612.6C111.2,612.7 108.7,611.0 107.1,610.5C105.5,609.9 104.3,609.9 102.8,609.6C101.2,609.3 98.3,609.3 97.9,608.7Z" fill="#000" fill-opacity="0.025" stroke="#000" stroke-opacity="0.5" stroke-width="0.28"/>
<path d="M100.2,608.4C99.9,607.8 101.8,606.6 102.5,605.7C103.2,604.8 103.7,604.2 104.3,603.3C105.0,602.3 105.8,600.9 106.5,599.8C107.2,598.7 107.8,597.5 108.4,596.7C108.9,595.8 109.5,595.1 110.0,594.7C110.5,594.2 111.1,593.5 111.5,593.9C112.0,594.3 112.4,595.4 112.7,596.9C113.0,598.5 113.2,601.1 113.2,603.3C113.3,605.4 113.5,608.2 113.2,609.6C113.0,611.1 112.8,611.9 111.9,612.0C110.9,612.1 108.9,610.5 107.7,610.0C106.4,609.6 105.4,609.5 104.1,609.2C102.9,609.0 100.5,609.0 100.2,608.4Z" fill="#000" fill-opacity="0.025" stroke="#000" stroke-opacity="0.5" stroke-width="0.28"/>
<path d="M102.5,608.2C102.3,607.6 103.7,606.5 104.2,605.8C104.8,605.0 105.1,604.5 105.6,603.6C106.2,602.7 106.8,601.5 107.3,600.5C107.8,599.5 108.3,598.5 108.7,597.7C109.2,596.9 109.6,596.4 110.0,596.0C110.4,595.5 110.8,594.9 111.2,595.2C111.5,595.6 111.9,596.6 112.1,597.9C112.3,599.3 112.4,601.7 112.5,603.6C112.5,605.5 112.7,608.0 112.5,609.2C112.3,610.5 112.2,611.3 111.4,611.4C110.7,611.4 109.2,610.0 108.2,609.6C107.2,609.2 106.5,609.1 105.5,608.9C104.5,608.7 102.7,608.7 102.5,608.2Z" fill="#000" fill-opacity="0.025" stroke="#000" stroke-opacity="0.5" stroke-width="0.28"/>
<path d="M52.0,625.0C52.2,622.4 53.0,617.7 56.0,615.6C59.0,613.5 64.3,612.9 70.0,612.5C75.7,612.1 83.7,613.7 90.0,613.5C96.3,613.3 103.8,611.4 108.0,611.5C112.2,611.6 113.2,612.2 115.0,614.0C116.8,615.8 118.8,619.2 118.5,622.0C118.2,624.8 117.8,629.2 113.0,631.0C108.2,632.8 98.0,632.2 90.0,632.5C82.0,632.8 70.8,633.2 65.0,633.0C59.2,632.8 57.2,632.3 55.0,631.0C52.8,629.7 51.8,627.6 52.0,625.0Z" fill="#000" fill-opacity="0.080" stroke="#000" stroke-opacity="0.45" stroke-width="0.35"/>
<path d="M54.1,624.9C54.2,622.5 54.9,618.1 57.8,616.2C60.7,614.4 66.0,613.8 71.5,613.5C77.0,613.2 84.7,614.5 90.7,614.4C96.7,614.3 103.5,612.6 107.4,612.7C111.3,612.8 112.4,613.4 114.0,615.0C115.7,616.5 117.5,619.6 117.2,622.2C116.8,624.8 116.5,628.9 112.0,630.5C107.4,632.1 97.7,631.6 90.0,631.9C82.3,632.2 71.6,632.5 66.0,632.2C60.5,632.0 58.8,631.6 56.8,630.3C54.8,629.1 53.9,627.2 54.1,624.9Z" fill="#000" fill-opacity="0.080" stroke="#000" stroke-opacity="0.45" stroke-width="0.35"/>
<path d="M55.6,624.7C55.7,622.6 56.2,618.5 59.1,616.7C61.9,615.0 67.2,614.5 72.6,614.2C77.9,614.0 85.5,615.2 91.3,615.1C97.0,615.0 103.3,613.4 107.0,613.5C110.7,613.6 111.8,614.2 113.3,615.7C114.9,617.1 116.6,620.0 116.2,622.4C115.8,624.8 115.6,628.6 111.2,630.1C106.8,631.6 97.4,631.1 90.0,631.4C82.6,631.7 72.1,631.9 66.8,631.7C61.5,631.4 59.9,631.0 58.1,629.8C56.2,628.7 55.4,626.9 55.6,624.7Z" fill="#000" fill-opacity="0.080" stroke="#000" stroke-opacity="0.45" stroke-width="0.35"/>
<path d="M57.0,624.6C57.1,622.6 57.5,618.8 60.2,617.2C63.0,615.5 68.3,615.1 73.5,614.9C78.8,614.7 86.3,615.8 91.8,615.7C97.3,615.6 103.1,614.2 106.6,614.3C110.1,614.4 111.2,614.9 112.7,616.3C114.2,617.7 115.7,620.3 115.3,622.5C115.0,624.8 114.7,628.4 110.5,629.8C106.3,631.2 97.2,630.7 90.0,631.0C82.8,631.2 72.6,631.4 67.5,631.2C62.3,630.9 61.0,630.5 59.2,629.4C57.5,628.3 56.8,626.7 57.0,624.6Z" fill="#000" fill-opacity="0.080" stroke="#000" stroke-opacity="0.45" stroke-width="0.35"/>
<path d="M58.2,624.6C58.4,622.6 58.6,619.1 61.3,617.6C64.0,616.1 69.3,615.7 74.5,615.5C79.6,615.3 86.9,616.3 92.2,616.3C97.5,616.2 102.9,615.0 106.2,615.1C109.5,615.2 110.7,615.6 112.1,616.9C113.5,618.2 114.9,620.6 114.5,622.7C114.1,624.8 114.0,628.1 109.9,629.4C105.8,630.8 97.0,630.4 90.0,630.6C83.0,630.8 73.1,630.9 68.1,630.7C63.2,630.4 62.0,630.0 60.3,629.0C58.7,628.0 58.1,626.5 58.2,624.6Z" fill="#000" fill-opacity="0.080" stroke="#000" stroke-opacity="0.45" stroke-width="0.35"/>
<path d="M59.5,624.5C59.6,622.7 59.7,619.3 62.4,617.9C65.0,616.6 70.3,616.3 75.3,616.1C80.4,615.9 87.6,616.9 92.7,616.8C97.8,616.7 102.7,615.6 105.9,615.8C109.0,615.9 110.2,616.3 111.5,617.5C112.8,618.6 114.1,620.9 113.7,622.8C113.3,624.7 113.2,627.9 109.3,629.1C105.3,630.4 96.8,630.0 90.0,630.2C83.2,630.4 73.5,630.5 68.7,630.2C64.0,630.0 62.9,629.6 61.4,628.6C59.8,627.6 59.3,626.2 59.5,624.5Z" fill="#000" fill-opacity="0.080" stroke="#000" stroke-opacity="0.45" stroke-width="0.35"/>
<path d="M60.6,624.4C60.8,622.7 60.8,619.6 63.4,618.3C66.0,617.0 71.2,616.9 76.2,616.7C81.1,616.5 88.2,617.4 93.1,617.3C98.0,617.3 102.6,616.3 105.5,616.4C108.5,616.5 109.8,616.9 111.0,618.0C112.2,619.1 113.3,621.1 113.0,622.9C112.6,624.7 112.5,627.7 108.7,628.8C104.9,630.0 96.6,629.7 90.0,629.9C83.4,630.0 73.9,630.1 69.3,629.8C64.7,629.5 63.8,629.1 62.4,628.2C60.9,627.3 60.5,626.0 60.6,624.4Z" fill="#000" fill-opacity="0.080" stroke="#000" stroke-opacity="0.45" stroke-width="0.35"/>
<path d="M61.8,624.3C61.9,622.8 61.8,619.8 64.4,618.7C66.9,617.5 72.1,617.4 77.0,617.2C81.8,617.1 88.8,617.8 93.5,617.8C98.2,617.8 102.4,617.0 105.2,617.1C108.0,617.2 109.3,617.5 110.5,618.5C111.6,619.5 112.6,621.4 112.2,623.0C111.8,624.7 111.8,627.5 108.1,628.6C104.4,629.6 96.4,629.4 90.0,629.5C83.6,629.6 74.3,629.7 69.9,629.4C65.4,629.1 64.7,628.7 63.4,627.9C62.0,627.0 61.6,625.8 61.8,624.3Z" fill="#000" fill-opacity="0.080" stroke="#000" stroke-opacity="0.45" stroke-width="0.35"/>
<path d="M62.9,624.2C63.0,622.8 62.8,620.1 65.3,619.0C67.8,617.9 73.0,617.9 77.8,617.8C82.5,617.7 89.4,618.3 93.9,618.3C98.4,618.3 102.2,617.6 104.9,617.7C107.6,617.8 108.9,618.1 110.0,619.0C111.1,619.9 111.9,621.6 111.5,623.2C111.1,624.7 111.2,627.3 107.6,628.3C104.0,629.3 96.2,629.1 90.0,629.2C83.8,629.3 74.7,629.2 70.4,629.0C66.1,628.7 65.6,628.3 64.3,627.5C63.0,626.7 62.7,625.6 62.9,624.2Z" fill="#000" fill-opacity="0.080" stroke="#000" stroke-opacity="0.45" stroke-width="0.35"/>
<path d="M63.9,624.1C64.1,622.8 63.8,620.3 66.2,619.3C68.7,618.4 73.8,618.4 78.5,618.3C83.2,618.2 89.9,618.8 94.3,618.8C98.6,618.8 102.1,618.2 104.6,618.3C107.1,618.4 108.4,618.7 109.5,619.5C110.5,620.4 111.2,621.9 110.8,623.3C110.4,624.7 110.5,627.1 107.0,628.0C103.6,628.9 96.0,628.7 90.0,628.8C84.0,628.9 75.1,628.8 71.0,628.6C66.8,628.3 66.4,627.9 65.2,627.2C64.0,626.4 63.8,625.5 63.9,624.1Z" fill="#000" fill-opacity="0.080" stroke="#000" stroke-opacity="0.45" stroke-width="0.35"/>
<path d="M65.0,624.1C65.1,622.9 64.7,620.6 67.1,619.7C69.5,618.8 74.7,618.9 79.3,618.8C83.9,618.7 90.5,619.2 94.6,619.2C98.8,619.3 101.9,618.8 104.3,618.9C106.7,619.0 108.0,619.3 109.0,620.0C110.0,620.8 110.6,622.1 110.2,623.4C109.8,624.7 109.9,626.9 106.5,627.8C103.2,628.6 95.8,628.4 90.0,628.5C84.2,628.6 75.5,628.5 71.5,628.2C67.5,627.9 67.2,627.5 66.1,626.8C65.0,626.1 64.8,625.3 65.0,624.1Z" fill="#000" fill-opacity="0.080" stroke="#000" stroke-opacity="0.45" stroke-width="0.35"/>
<path d="M66.0,624.0C66.2,622.9 65.7,620.8 68.0,620.0C70.3,619.2 75.5,619.3 80.0,619.3C84.5,619.2 91.0,619.7 95.0,619.7C99.0,619.7 101.8,619.4 104.0,619.5C106.2,619.6 107.6,619.8 108.5,620.5C109.4,621.2 109.9,622.3 109.5,623.5C109.1,624.7 109.2,626.7 106.0,627.5C102.8,628.3 95.7,628.2 90.0,628.2C84.3,628.2 75.8,628.1 72.0,627.8C68.2,627.5 68.0,627.1 67.0,626.5C66.0,625.9 65.8,625.1 66.0,624.0Z" fill="#000" fill-opacity="0.080" stroke="#000" stroke-opacity="0.45" stroke-width="0.35"/>
<path d="M66,624 C68,619.5 80,619 92,619.5 C100,620 106,619 108.5,620.5 C110.5,623 109.5,626.5 106,627.5 C95,628.3 80,628 70,627.5 C66.5,626.8 65.5,625.5 66,624 Z" fill="#fff" fill-opacity="0.62" stroke="#000" stroke-opacity="0.72" stroke-width="1.6"/>
<path d="M70,617 C80,615 95,614.8 104,616.2" fill="none" stroke="#000" stroke-opacity="0.45" stroke-width="1.2"/>
<ellipse cx="60.5" cy="625.6" rx="7" ry="5.5" fill="#000" fill-opacity="0.4"/>
<ellipse cx="60.2" cy="625.6" rx="3.4" ry="2.9" transform="rotate(0 60.2 625.6)" fill="#fff" fill-opacity="0.9" stroke="#000" stroke-opacity="0.9" stroke-width="2.4"/>
</g>
<rect x="79.4" y="560.4" width="56.0" height="51.9" fill="none" stroke="#3a3a3a" stroke-width="1"/>
<text x="79.6" y="586.6" font-size="11.7" text-anchor="end" fill="#1a1a1a" stroke="#1a1a1a" >24.6</text>
<rect x="153.4" y="548.4" width="96.3" height="95.3" fill="#fff" stroke="#c4c4c4" stroke-width="0.9"/>
<path d="M151.0,548.4h2.4M151.0,574.8h2.4M151.0,603.6h2.4M181.1,643.7v2.4M205.2,643.7v2.4M228.4,643.7v2.4M249.7,643.7v2.4" stroke="#333" stroke-width="0.75" fill="none"/>
<path d="M152.1,566.9h1.3M152.1,562.2h1.3M152.1,558.9h1.3M152.1,556.3h1.3M152.1,554.3h1.3M152.1,552.5h1.3M152.1,551.0h1.3M152.1,549.6h1.3M152.1,594.9h1.3M152.1,589.9h1.3M152.1,586.3h1.3M152.1,583.5h1.3M152.1,581.2h1.3M152.1,579.3h1.3M152.1,577.6h1.3M152.1,576.1h1.3M152.1,634.4h1.3M152.1,637.0h1.3M152.1,639.6h1.3M152.1,642.2h1.3M171.9,643.7v1.3M174.2,643.7v1.3M175.8,643.7v1.3M177.1,643.7v1.3M178.2,643.7v1.3M179.1,643.7v1.3M179.8,643.7v1.3M180.5,643.7v1.3M188.4,643.7v1.3M192.6,643.7v1.3M195.6,643.7v1.3M197.9,643.7v1.3M199.9,643.7v1.3M201.5,643.7v1.3M202.9,643.7v1.3M204.1,643.7v1.3M212.2,643.7v1.3M216.3,643.7v1.3M219.2,643.7v1.3M221.4,643.7v1.3M223.3,643.7v1.3M224.8,643.7v1.3M226.2,643.7v1.3M227.3,643.7v1.3M234.8,643.7v1.3M238.6,643.7v1.3M241.2,643.7v1.3M243.3,643.7v1.3M245.0,643.7v1.3M246.4,643.7v1.3M247.6,643.7v1.3M248.7,643.7v1.3M154.9,643.7v1.3M157.1,643.7v1.3M159.3,643.7v1.3M161.5,643.7v1.3" stroke="#444" stroke-width="0.6" fill="none"/>
<rect x="151.2" y="622.4" width="2.2" height="10.0" fill="#222" fill-opacity="0.55"/>
<rect x="164.4" y="643.7" width="3.3" height="2.2" fill="#222" fill-opacity="0.65"/>
<g filter="url(#soft)">
<path d="M237.1,565.3h0.9v0.9h-0.9zM221.1,575.1h0.9v0.9h-0.9zM238.6,565.7h0.9v0.9h-0.9zM231.1,610.2h0.9v0.9h-0.9zM229.6,631.5h0.9v0.9h-0.9zM186.3,587.2h0.9v0.9h-0.9zM219.1,583.3h0.9v0.9h-0.9zM188.0,579.9h0.9v0.9h-0.9zM229.6,623.1h0.9v0.9h-0.9zM225.4,579.5h0.9v0.9h-0.9zM234.3,598.8h0.9v0.9h-0.9zM185.7,595.1h0.9v0.9h-0.9zM198.9,569.8h0.9v0.9h-0.9zM209.1,588.7h0.9v0.9h-0.9zM209.4,626.9h0.9v0.9h-0.9zM214.7,591.7h0.9v0.9h-0.9zM230.0,631.2h0.9v0.9h-0.9zM203.9,627.9h0.9v0.9h-0.9zM170.9,574.0h0.9v0.9h-0.9zM181.6,627.4h0.9v0.9h-0.9zM217.9,612.7h0.9v0.9h-0.9zM189.6,597.7h0.9v0.9h-0.9zM231.6,571.2h0.9v0.9h-0.9zM177.7,567.7h0.9v0.9h-0.9zM202.4,620.9h0.9v0.9h-0.9zM208.4,591.4h0.9v0.9h-0.9zM204.7,576.6h0.9v0.9h-0.9zM235.9,588.3h0.9v0.9h-0.9zM186.0,585.4h0.9v0.9h-0.9zM227.3,585.9h0.9v0.9h-0.9zM232.9,587.1h0.9v0.9h-0.9zM200.5,569.5h0.9v0.9h-0.9zM233.1,617.9h0.9v0.9h-0.9zM202.8,572.3h0.9v0.9h-0.9zM204.0,589.8h0.9v0.9h-0.9zM228.4,626.7h0.9v0.9h-0.9zM221.4,583.8h0.9v0.9h-0.9zM172.4,624.4h0.9v0.9h-0.9zM235.7,575.2h0.9v0.9h-0.9zM204.5,596.8h0.9v0.9h-0.9z" fill="#000" fill-opacity="0.5"/>
<path d="M165.1,623.6C164.4,620.8 167.0,615.4 168.0,612.0C169.0,608.6 168.3,606.4 171.0,603.2C173.7,600.0 180.7,596.9 184.1,593.0C187.5,589.1 188.8,583.1 191.4,579.8C194.1,576.5 196.8,574.5 200.0,573.0C203.2,571.5 206.0,571.3 210.4,571.0C214.8,570.7 223.3,569.5 226.5,571.0C229.7,572.5 228.9,576.6 229.4,580.0C229.9,583.4 229.6,586.5 229.4,591.5C229.2,596.5 228.2,604.4 228.0,610.0C227.8,615.6 230.1,622.0 227.9,625.0C225.7,628.0 221.3,627.2 215.0,628.0C208.7,628.8 197.2,629.3 190.0,629.5C182.8,629.7 176.2,630.0 172.0,629.0C167.8,628.0 165.8,626.4 165.1,623.6Z" fill="#000" fill-opacity="0.026" stroke="#000" stroke-opacity="0.5" stroke-width="0.28"/>
<path d="M168.2,621.9C167.5,619.2 170.0,614.1 170.9,610.9C171.8,607.7 171.2,605.6 173.7,602.6C176.2,599.6 182.8,596.6 186.0,592.9C189.2,589.2 190.3,583.6 192.8,580.4C195.3,577.3 197.9,575.4 200.9,574.0C203.8,572.6 206.5,572.4 210.6,572.1C214.7,571.8 222.7,570.7 225.7,572.1C228.7,573.5 228.0,577.4 228.4,580.6C228.9,583.8 228.6,586.8 228.4,591.5C228.2,596.2 227.3,603.7 227.1,609.0C226.9,614.3 229.0,620.3 227.0,623.2C225.0,626.0 220.8,625.3 214.9,626.0C209.0,626.7 198.2,627.3 191.5,627.4C184.8,627.6 178.5,627.9 174.6,627.0C170.7,626.0 168.8,624.5 168.2,621.9Z" fill="#000" fill-opacity="0.026" stroke="#000" stroke-opacity="0.5" stroke-width="0.28"/>
<path d="M170.6,620.5C170.0,617.9 172.3,613.1 173.2,610.0C174.1,606.9 173.5,604.9 175.8,602.0C178.2,599.2 184.4,596.4 187.5,592.8C190.5,589.3 191.6,583.9 193.9,580.9C196.3,577.9 198.7,576.1 201.6,574.8C204.4,573.5 206.9,573.3 210.8,573.0C214.7,572.7 222.2,571.6 225.0,573.0C227.9,574.3 227.2,578.0 227.6,581.1C228.0,584.2 227.8,587.0 227.6,591.5C227.4,596.0 226.6,603.1 226.4,608.2C226.2,613.2 228.2,619.0 226.3,621.7C224.4,624.4 220.5,623.8 214.9,624.4C209.3,625.1 199.0,625.6 192.7,625.8C186.3,625.9 180.4,626.2 176.7,625.3C173.1,624.4 171.2,623.0 170.6,620.5Z" fill="#000" fill-opacity="0.026" stroke="#000" stroke-opacity="0.5" stroke-width="0.28"/>
<path d="M172.9,619.2C172.3,616.7 174.5,612.1 175.3,609.2C176.2,606.2 175.6,604.3 177.8,601.6C180.1,598.8 186.0,596.1 188.8,592.8C191.7,589.4 192.8,584.3 195.0,581.4C197.2,578.5 199.5,576.8 202.2,575.5C204.9,574.3 207.2,574.1 210.9,573.8C214.6,573.5 221.8,572.5 224.5,573.8C227.1,575.1 226.5,578.6 226.9,581.6C227.3,584.5 227.1,587.2 226.9,591.5C226.7,595.8 225.9,602.6 225.7,607.4C225.5,612.3 227.4,617.8 225.6,620.4C223.8,623.0 220.1,622.3 214.8,623.0C209.5,623.6 199.8,624.1 193.8,624.3C187.8,624.4 182.2,624.7 178.7,623.8C175.2,623.0 173.4,621.6 172.9,619.2Z" fill="#000" fill-opacity="0.026" stroke="#000" stroke-opacity="0.5" stroke-width="0.28"/>
<path d="M175.0,617.9C174.5,615.6 176.6,611.2 177.4,608.4C178.1,605.6 177.6,603.7 179.7,601.1C181.9,598.5 187.5,595.9 190.2,592.7C192.9,589.5 193.9,584.6 196.0,581.8C198.1,579.1 200.3,577.4 202.8,576.2C205.3,575.0 207.6,574.8 211.1,574.6C214.6,574.3 221.4,573.3 223.9,574.6C226.4,575.8 225.8,579.2 226.2,582.0C226.6,584.8 226.4,587.3 226.2,591.5C226.0,595.6 225.3,602.1 225.1,606.7C224.9,611.3 226.7,616.6 225.0,619.1C223.3,621.6 219.8,621.0 214.7,621.6C209.7,622.2 200.6,622.7 194.9,622.8C189.2,622.9 183.8,623.2 180.5,622.4C177.2,621.6 175.6,620.3 175.0,617.9Z" fill="#000" fill-opacity="0.026" stroke="#000" stroke-opacity="0.5" stroke-width="0.28"/>
<path d="M177.1,616.8C176.6,614.5 178.6,610.3 179.3,607.6C180.0,604.9 179.5,603.2 181.6,600.7C183.6,598.2 188.9,595.7 191.4,592.6C194.0,589.6 194.9,584.9 196.9,582.2C198.9,579.6 201.0,578.0 203.4,576.9C205.8,575.7 207.9,575.6 211.2,575.3C214.5,575.0 221.0,574.1 223.3,575.3C225.7,576.5 225.2,579.7 225.5,582.4C225.9,585.1 225.7,587.5 225.5,591.5C225.3,595.4 224.7,601.6 224.5,606.0C224.3,610.4 226.0,615.5 224.4,617.9C222.8,620.2 219.4,619.6 214.7,620.2C209.9,620.8 201.3,621.3 195.9,621.4C190.5,621.5 185.4,621.8 182.3,621.0C179.2,620.2 177.6,619.0 177.1,616.8Z" fill="#000" fill-opacity="0.026" stroke="#000" stroke-opacity="0.5" stroke-width="0.28"/>
<path d="M179.1,615.6C178.7,613.5 180.5,609.4 181.2,606.9C181.9,604.3 181.4,602.6 183.3,600.3C185.2,597.9 190.2,595.5 192.7,592.6C195.1,589.7 196.0,585.2 197.8,582.7C199.7,580.1 201.7,578.6 204.0,577.5C206.2,576.4 208.2,576.3 211.4,576.0C214.5,575.8 220.6,574.9 222.8,576.0C225.1,577.2 224.5,580.2 224.9,582.8C225.2,585.4 225.0,587.7 224.9,591.5C224.7,595.2 224.1,601.2 223.9,605.4C223.7,609.6 225.3,614.4 223.8,616.7C222.3,618.9 219.1,618.4 214.6,618.9C210.1,619.5 201.9,619.9 196.8,620.1C191.8,620.2 187.0,620.4 184.0,619.7C181.1,618.9 179.6,617.7 179.1,615.6Z" fill="#000" fill-opacity="0.026" stroke="#000" stroke-opacity="0.5" stroke-width="0.28"/>
<path d="M181.1,614.5C180.7,612.5 182.4,608.6 183.1,606.2C183.7,603.7 183.3,602.1 185.1,599.9C186.9,597.6 191.6,595.3 193.9,592.5C196.1,589.7 197.0,585.4 198.7,583.1C200.5,580.7 202.4,579.2 204.5,578.2C206.6,577.1 208.5,577.0 211.5,576.7C214.5,576.5 220.2,575.7 222.3,576.7C224.4,577.8 223.9,580.7 224.2,583.2C224.6,585.7 224.4,587.9 224.2,591.5C224.1,595.0 223.5,600.7 223.3,604.7C223.1,608.7 224.7,613.3 223.2,615.5C221.8,617.7 218.8,617.1 214.6,617.7C210.3,618.2 202.6,618.6 197.8,618.7C193.0,618.8 188.5,619.1 185.7,618.4C183.0,617.7 181.6,616.5 181.1,614.5Z" fill="#000" fill-opacity="0.026" stroke="#000" stroke-opacity="0.5" stroke-width="0.28"/>
<path d="M183.0,613.4C182.6,611.5 184.2,607.8 184.9,605.5C185.5,603.1 185.1,601.6 186.8,599.4C188.4,597.3 192.9,595.1 195.0,592.5C197.2,589.8 198.0,585.7 199.6,583.4C201.3,581.2 203.1,579.8 205.1,578.8C207.1,577.8 208.8,577.7 211.6,577.4C214.4,577.2 219.8,576.4 221.8,577.4C223.8,578.5 223.3,581.2 223.6,583.6C223.9,585.9 223.8,588.0 223.6,591.4C223.5,594.9 222.9,600.3 222.7,604.1C222.6,607.9 224.0,612.3 222.7,614.4C221.3,616.4 218.5,615.9 214.5,616.4C210.5,616.9 203.3,617.3 198.7,617.4C194.2,617.5 190.0,617.8 187.4,617.1C184.8,616.4 183.5,615.3 183.0,613.4Z" fill="#000" fill-opacity="0.026" stroke="#000" stroke-opacity="0.5" stroke-width="0.28"/>
<path d="M184.9,612.3C184.5,610.5 186.1,607.0 186.6,604.8C187.2,602.6 186.8,601.1 188.4,599.1C190.0,597.0 194.2,595.0 196.2,592.4C198.2,589.9 198.9,586.0 200.5,583.8C202.1,581.7 203.7,580.4 205.6,579.4C207.5,578.5 209.1,578.3 211.8,578.1C214.4,577.9 219.4,577.1 221.3,578.1C223.2,579.1 222.7,581.7 223.0,584.0C223.3,586.2 223.1,588.2 223.0,591.4C222.9,594.7 222.3,599.8 222.2,603.5C222.0,607.1 223.4,611.3 222.1,613.2C220.8,615.2 218.2,614.7 214.5,615.2C210.7,615.7 203.9,616.1 199.7,616.2C195.4,616.3 191.5,616.5 189.0,615.8C186.5,615.2 185.3,614.2 184.9,612.3Z" fill="#000" fill-opacity="0.026" stroke="#000" stroke-opacity="0.5" stroke-width="0.28"/>
<path d="M186.8,611.3C186.4,609.5 187.8,606.2 188.4,604.1C188.9,602.0 188.6,600.6 190.0,598.7C191.5,596.7 195.4,594.8 197.3,592.4C199.2,590.0 199.9,586.3 201.3,584.2C202.8,582.1 204.4,580.9 206.1,580.0C207.9,579.1 209.4,579.0 211.9,578.8C214.3,578.6 219.0,577.8 220.8,578.8C222.6,579.7 222.1,582.2 222.4,584.3C222.7,586.4 222.5,588.3 222.4,591.4C222.3,594.5 221.8,599.4 221.6,602.9C221.5,606.3 222.8,610.3 221.6,612.1C220.4,614.0 217.9,613.5 214.4,614.0C210.9,614.5 204.5,614.8 200.6,614.9C196.6,615.0 192.9,615.2 190.6,614.6C188.3,614.0 187.1,613.0 186.8,611.3Z" fill="#000" fill-opacity="0.026" stroke="#000" stroke-opacity="0.5" stroke-width="0.28"/>
<path d="M188.6,610.2C188.3,608.6 189.6,605.4 190.1,603.4C190.6,601.4 190.3,600.1 191.7,598.3C193.0,596.4 196.7,594.6 198.4,592.3C200.2,590.0 200.8,586.5 202.2,584.6C203.6,582.6 205.0,581.5 206.6,580.6C208.3,579.7 209.7,579.6 212.0,579.4C214.3,579.2 218.7,578.5 220.3,579.4C222.0,580.3 221.6,582.7 221.8,584.7C222.1,586.7 221.9,588.5 221.8,591.4C221.7,594.4 221.2,599.0 221.1,602.3C221.0,605.5 222.2,609.3 221.0,611.0C219.9,612.8 217.6,612.4 214.4,612.8C211.1,613.2 205.2,613.6 201.5,613.7C197.8,613.8 194.3,614.0 192.2,613.4C190.0,612.8 188.9,611.9 188.6,610.2Z" fill="#000" fill-opacity="0.026" stroke="#000" stroke-opacity="0.5" stroke-width="0.28"/>
<path d="M190.4,609.2C190.1,607.6 191.3,604.7 191.8,602.8C192.3,600.9 192.0,599.7 193.2,597.9C194.5,596.2 197.9,594.4 199.5,592.3C201.1,590.1 201.7,586.8 203.0,584.9C204.3,583.1 205.6,582.0 207.1,581.2C208.7,580.4 210.0,580.3 212.1,580.1C214.2,579.9 218.3,579.2 219.8,580.1C221.4,580.9 221.0,583.2 221.2,585.1C221.5,586.9 221.3,588.7 221.2,591.4C221.1,594.2 220.7,598.6 220.6,601.7C220.4,604.8 221.6,608.3 220.5,610.0C219.5,611.6 217.4,611.2 214.3,611.6C211.3,612.1 205.8,612.4 202.3,612.5C198.9,612.6 195.7,612.7 193.7,612.2C191.7,611.6 190.7,610.8 190.4,609.2Z" fill="#000" fill-opacity="0.026" stroke="#000" stroke-opacity="0.5" stroke-width="0.28"/>
<path d="M192.2,608.2C191.9,606.7 193.0,603.9 193.5,602.1C193.9,600.4 193.6,599.2 194.8,597.5C196.0,595.9 199.1,594.2 200.6,592.2C202.1,590.2 202.7,587.1 203.8,585.3C205.0,583.6 206.2,582.5 207.6,581.8C209.0,581.0 210.3,580.9 212.2,580.7C214.2,580.5 218.0,579.9 219.4,580.7C220.8,581.5 220.4,583.6 220.7,585.4C220.9,587.2 220.8,588.8 220.7,591.4C220.6,594.0 220.1,598.2 220.0,601.1C219.9,604.0 221.0,607.4 220.0,608.9C219.0,610.5 217.1,610.1 214.3,610.5C211.5,610.9 206.4,611.2 203.2,611.3C200.0,611.4 197.1,611.5 195.2,611.0C193.4,610.5 192.5,609.7 192.2,608.2Z" fill="#000" fill-opacity="0.026" stroke="#000" stroke-opacity="0.5" stroke-width="0.28"/>
<path d="M194.0,607.2C193.7,605.8 194.7,603.2 195.1,601.5C195.5,599.8 195.3,598.7 196.4,597.2C197.4,595.6 200.3,594.1 201.7,592.2C203.1,590.2 203.6,587.3 204.6,585.7C205.7,584.0 206.9,583.0 208.1,582.3C209.4,581.6 210.6,581.5 212.4,581.3C214.2,581.2 217.6,580.6 218.9,581.3C220.2,582.1 219.9,584.1 220.1,585.8C220.3,587.4 220.2,589.0 220.1,591.4C220.0,593.9 219.6,597.8 219.5,600.5C219.4,603.2 220.4,606.4 219.5,607.9C218.6,609.3 216.8,609.0 214.2,609.3C211.7,609.7 207.0,610.0 204.1,610.1C201.2,610.2 198.4,610.3 196.8,609.8C195.1,609.4 194.2,608.6 194.0,607.2Z" fill="#000" fill-opacity="0.026" stroke="#000" stroke-opacity="0.5" stroke-width="0.28"/>
<path d="M195.7,606.2C195.4,604.9 196.4,602.4 196.8,600.9C197.1,599.3 196.9,598.3 197.9,596.8C198.9,595.3 201.5,593.9 202.7,592.1C204.0,590.3 204.5,587.6 205.4,586.0C206.4,584.5 207.5,583.6 208.6,582.9C209.8,582.2 210.8,582.1 212.5,582.0C214.1,581.8 217.3,581.3 218.5,582.0C219.6,582.7 219.3,584.5 219.5,586.1C219.7,587.7 219.6,589.1 219.5,591.4C219.4,593.7 219.1,597.4 219.0,599.9C218.9,602.5 219.8,605.5 219.0,606.8C218.2,608.2 216.5,607.9 214.2,608.2C211.8,608.6 207.6,608.8 204.9,608.9C202.3,609.0 199.8,609.1 198.3,608.7C196.7,608.2 195.9,607.5 195.7,606.2Z" fill="#000" fill-opacity="0.026" stroke="#000" stroke-opacity="0.5" stroke-width="0.28"/>
<path d="M197.4,605.2C197.2,604.0 198.1,601.7 198.4,600.2C198.7,598.8 198.5,597.8 199.4,596.4C200.3,595.1 202.6,593.7 203.8,592.1C204.9,590.4 205.3,587.8 206.2,586.4C207.1,584.9 208.1,584.1 209.1,583.4C210.2,582.8 211.1,582.7 212.6,582.6C214.1,582.4 216.9,581.9 218.0,582.6C219.1,583.2 218.8,585.0 219.0,586.5C219.1,587.9 219.0,589.3 219.0,591.4C218.9,593.6 218.6,597.0 218.5,599.4C218.4,601.8 219.2,604.5 218.5,605.8C217.7,607.1 216.3,606.8 214.1,607.1C212.0,607.4 208.2,607.7 205.8,607.8C203.4,607.8 201.1,608.0 199.7,607.5C198.3,607.1 197.6,606.4 197.4,605.2Z" fill="#000" fill-opacity="0.026" stroke="#000" stroke-opacity="0.5" stroke-width="0.28"/>
<path d="M199.1,604.2C198.9,603.1 199.7,601.0 200.0,599.6C200.3,598.2 200.1,597.3 200.9,596.1C201.7,594.8 203.8,593.6 204.8,592.0C205.8,590.4 206.2,588.1 207.0,586.7C207.8,585.4 208.7,584.6 209.6,584.0C210.5,583.4 211.4,583.3 212.7,583.2C214.0,583.1 216.6,582.6 217.6,583.2C218.5,583.8 218.3,585.4 218.4,586.8C218.6,588.2 218.5,589.4 218.4,591.4C218.4,593.4 218.1,596.6 218.0,598.8C217.9,601.0 218.6,603.6 218.0,604.8C217.3,606.0 216.0,605.7 214.1,606.0C212.2,606.3 208.8,606.5 206.6,606.6C204.4,606.7 202.4,606.8 201.2,606.4C200.0,606.0 199.3,605.4 199.1,604.2Z" fill="#000" fill-opacity="0.026" stroke="#000" stroke-opacity="0.5" stroke-width="0.28"/>
<path d="M166.0,622.0C166.2,620.0 166.7,617.2 169.0,616.0C171.3,614.8 174.8,614.7 180.0,614.5C185.2,614.3 194.2,615.2 200.0,615.0C205.8,614.8 211.8,612.8 215.0,613.5C218.2,614.2 218.8,616.8 219.0,619.0C219.2,621.2 219.2,625.4 216.0,627.0C212.8,628.6 206.0,628.2 200.0,628.5C194.0,628.8 185.3,629.1 180.0,629.0C174.7,628.9 170.3,629.2 168.0,628.0C165.7,626.8 165.8,624.0 166.0,622.0Z" fill="#000" fill-opacity="0.080" stroke="#000" stroke-opacity="0.4" stroke-width="0.35"/>
<path d="M168.1,621.9C168.2,620.2 168.7,617.8 170.8,616.7C173.0,615.6 176.2,615.6 181.0,615.4C185.7,615.3 194.0,616.0 199.4,615.8C204.7,615.7 210.2,614.0 213.2,614.5C216.1,615.1 216.7,617.4 216.8,619.3C217.0,621.3 217.0,624.9 214.1,626.3C211.2,627.7 204.9,627.3 199.4,627.6C193.8,627.9 185.9,628.1 181.0,628.0C176.1,628.0 172.1,628.2 169.9,627.2C167.8,626.1 167.9,623.7 168.1,621.9Z" fill="#000" fill-opacity="0.080" stroke="#000" stroke-opacity="0.4" stroke-width="0.35"/>
<path d="M170.2,621.9C170.3,620.4 170.7,618.4 172.7,617.4C174.6,616.5 177.6,616.4 181.9,616.3C186.3,616.2 193.8,616.8 198.7,616.7C203.6,616.6 208.7,615.1 211.3,615.6C214.0,616.1 214.5,618.0 214.7,619.6C214.8,621.3 214.8,624.4 212.2,625.6C209.5,626.7 203.8,626.4 198.7,626.7C193.7,626.9 186.4,627.1 181.9,627.0C177.4,627.0 173.8,627.2 171.8,626.3C169.9,625.4 170.0,623.4 170.2,621.9Z" fill="#000" fill-opacity="0.080" stroke="#000" stroke-opacity="0.4" stroke-width="0.35"/>
<path d="M172.2,621.8C172.4,620.6 172.7,618.9 174.5,618.1C176.3,617.4 179.0,617.3 182.9,617.2C186.8,617.1 193.6,617.6 198.1,617.5C202.5,617.4 207.1,616.2 209.5,616.6C211.9,617.0 212.4,618.6 212.5,620.0C212.6,621.3 212.6,623.9 210.2,624.9C207.8,625.8 202.6,625.6 198.1,625.8C193.5,626.0 186.9,626.1 182.9,626.1C178.8,626.0 175.5,626.2 173.8,625.5C172.0,624.8 172.1,623.0 172.2,621.8Z" fill="#000" fill-opacity="0.080" stroke="#000" stroke-opacity="0.4" stroke-width="0.35"/>
<path d="M174.3,621.7C174.4,620.8 174.8,619.5 176.4,618.9C177.9,618.3 180.3,618.2 183.8,618.1C187.4,618.1 193.5,618.5 197.4,618.4C201.4,618.3 205.5,617.3 207.6,617.7C209.8,618.0 210.2,619.2 210.4,620.3C210.5,621.4 210.5,623.4 208.3,624.1C206.2,624.9 201.5,624.7 197.4,624.9C193.4,625.0 187.5,625.1 183.8,625.1C180.2,625.1 177.3,625.2 175.7,624.6C174.1,624.1 174.2,622.7 174.3,621.7Z" fill="#000" fill-opacity="0.080" stroke="#000" stroke-opacity="0.4" stroke-width="0.35"/>
<path d="M176.4,621.7C176.5,621.0 176.8,620.0 178.2,619.6C179.6,619.1 181.7,619.1 184.8,619.0C187.9,619.0 193.3,619.3 196.8,619.2C200.3,619.2 203.9,618.5 205.8,618.7C207.7,618.9 208.1,619.8 208.2,620.6C208.3,621.4 208.3,622.9 206.4,623.4C204.5,624.0 200.4,623.8 196.8,624.0C193.2,624.1 188.0,624.2 184.8,624.1C181.6,624.1 179.0,624.2 177.6,623.8C176.2,623.4 176.3,622.4 176.4,621.7Z" fill="#000" fill-opacity="0.080" stroke="#000" stroke-opacity="0.4" stroke-width="0.35"/>
<path d="M171,621.5 C171,618.5 176,617.5 185,618 C195,618.5 205,617.5 212,618 C216,619 216.5,623.5 213,625 C203,626 190,625.5 178,625.5 C173,625.3 171,623.5 171,621.5 Z" fill="#fff" fill-opacity="0.6" stroke="#000" stroke-opacity="0.8" stroke-width="2.0"/>
<ellipse cx="209" cy="594" rx="2.5" ry="6" transform="rotate(25 209 594)" fill="#fff" fill-opacity="0.5"/>
</g>
<rect x="189.0" y="560.4" width="56.4" height="51.9" fill="none" stroke="#3a3a3a" stroke-width="1"/>
<text x="189.2" y="586.6" font-size="11.7" text-anchor="end" fill="#1a1a1a" stroke="#1a1a1a" >42.8</text>
<rect x="260.5" y="548.4" width="96.3" height="95.3" fill="#fff" stroke="#c4c4c4" stroke-width="0.9"/>
<path d="M258.1,548.4h2.4M258.1,574.8h2.4M258.1,603.6h2.4M288.2,643.7v2.4M312.3,643.7v2.4M335.5,643.7v2.4M356.8,643.7v2.4" stroke="#333" stroke-width="0.75" fill="none"/>
<path d="M259.2,566.9h1.3M259.2,562.2h1.3M259.2,558.9h1.3M259.2,556.3h1.3M259.2,554.3h1.3M259.2,552.5h1.3M259.2,551.0h1.3M259.2,549.6h1.3M259.2,594.9h1.3M259.2,589.9h1.3M259.2,586.3h1.3M259.2,583.5h1.3M259.2,581.2h1.3M259.2,579.3h1.3M259.2,577.6h1.3M259.2,576.1h1.3M259.2,634.4h1.3M259.2,637.0h1.3M259.2,639.6h1.3M259.2,642.2h1.3M279.0,643.7v1.3M281.3,643.7v1.3M282.9,643.7v1.3M284.2,643.7v1.3M285.3,643.7v1.3M286.2,643.7v1.3M286.9,643.7v1.3M287.6,643.7v1.3M295.5,643.7v1.3M299.7,643.7v1.3M302.7,643.7v1.3M305.0,643.7v1.3M307.0,643.7v1.3M308.6,643.7v1.3M310.0,643.7v1.3M311.2,643.7v1.3M319.3,643.7v1.3M323.4,643.7v1.3M326.3,643.7v1.3M328.5,643.7v1.3M330.4,643.7v1.3M331.9,643.7v1.3M333.3,643.7v1.3M334.4,643.7v1.3M341.9,643.7v1.3M345.7,643.7v1.3M348.3,643.7v1.3M350.4,643.7v1.3M352.1,643.7v1.3M353.5,643.7v1.3M354.7,643.7v1.3M355.8,643.7v1.3M262.0,643.7v1.3M264.2,643.7v1.3M266.4,643.7v1.3M268.6,643.7v1.3" stroke="#444" stroke-width="0.6" fill="none"/>
<rect x="258.3" y="622.4" width="2.2" height="10.0" fill="#222" fill-opacity="0.55"/>
<rect x="271.5" y="643.7" width="3.3" height="2.2" fill="#222" fill-opacity="0.65"/>
<g filter="url(#soft)">
<path d="M301.8,596.7h0.9v0.9h-0.9zM305.5,594.5h0.9v0.9h-0.9zM305.0,608.6h0.9v0.9h-0.9zM294.9,607.1h0.9v0.9h-0.9zM278.2,584.8h0.9v0.9h-0.9zM300.0,574.1h0.9v0.9h-0.9zM327.4,585.3h0.9v0.9h-0.9zM330.4,628.6h0.9v0.9h-0.9zM294.5,624.4h0.9v0.9h-0.9zM331.7,609.3h0.9v0.9h-0.9zM279.4,595.2h0.9v0.9h-0.9zM319.5,584.4h0.9v0.9h-0.9zM292.6,585.3h0.9v0.9h-0.9zM294.9,617.3h0.9v0.9h-0.9zM300.9,592.9h0.9v0.9h-0.9zM320.6,628.1h0.9v0.9h-0.9zM297.2,567.5h0.9v0.9h-0.9zM342.8,620.3h0.9v0.9h-0.9zM330.5,599.6h0.9v0.9h-0.9zM293.3,574.9h0.9v0.9h-0.9zM297.9,595.4h0.9v0.9h-0.9zM282.0,611.4h0.9v0.9h-0.9zM326.3,565.4h0.9v0.9h-0.9zM334.0,597.5h0.9v0.9h-0.9zM339.1,596.4h0.9v0.9h-0.9zM330.9,595.0h0.9v0.9h-0.9zM318.6,598.0h0.9v0.9h-0.9zM279.1,574.2h0.9v0.9h-0.9zM293.1,591.8h0.9v0.9h-0.9zM302.3,600.7h0.9v0.9h-0.9zM321.7,591.4h0.9v0.9h-0.9zM298.9,598.8h0.9v0.9h-0.9zM341.4,617.0h0.9v0.9h-0.9zM321.5,619.3h0.9v0.9h-0.9zM292.8,571.3h0.9v0.9h-0.9zM283.8,572.7h0.9v0.9h-0.9zM278.2,606.5h0.9v0.9h-0.9zM339.1,572.2h0.9v0.9h-0.9zM323.6,627.6h0.9v0.9h-0.9zM328.8,574.8h0.9v0.9h-0.9z" fill="#000" fill-opacity="0.5"/>
<path d="M273.9,623.6C273.1,620.9 274.6,614.9 275.0,612.0C275.4,609.1 274.2,609.3 276.0,606.1C277.8,602.9 282.6,597.4 286.0,593.0C289.4,588.6 293.3,583.1 296.5,579.8C299.7,576.5 302.6,574.5 305.0,573.0C307.4,571.5 306.7,571.3 311.1,571.0C315.5,570.7 327.5,568.8 331.5,571.0C335.5,573.2 334.6,578.5 335.2,584.2C335.8,589.9 335.2,598.2 335.2,605.0C335.2,611.8 338.1,621.2 335.2,625.0C332.3,628.8 323.2,627.2 318.0,628.0C312.8,628.8 310.1,629.5 303.8,629.5C297.5,629.5 285.0,629.0 280.0,628.0C275.0,627.0 274.7,626.3 273.9,623.6Z" fill="#000" fill-opacity="0.026" stroke="#000" stroke-opacity="0.5" stroke-width="0.28"/>
<path d="M276.6,621.9C275.8,619.3 277.3,613.6 277.6,610.9C277.9,608.1 276.8,608.3 278.5,605.3C280.3,602.3 284.7,597.1 287.9,592.9C291.1,588.8 294.8,583.6 297.7,580.4C300.7,577.3 303.4,575.4 305.7,574.0C308.0,572.6 307.3,572.4 311.4,572.1C315.6,571.8 326.8,570.0 330.5,572.1C334.3,574.2 333.4,579.2 334.0,584.6C334.6,589.9 334.0,597.8 334.0,604.3C334.0,610.7 336.7,619.6 334.0,623.2C331.3,626.8 322.8,625.3 317.9,626.0C313.0,626.7 310.5,627.4 304.6,627.4C298.7,627.4 287.0,627.0 282.3,626.0C277.6,625.1 277.4,624.4 276.6,621.9Z" fill="#000" fill-opacity="0.026" stroke="#000" stroke-opacity="0.5" stroke-width="0.28"/>
<path d="M278.7,620.5C278.0,618.1 279.4,612.6 279.7,610.0C280.0,607.4 278.9,607.5 280.6,604.7C282.2,601.8 286.4,596.8 289.4,592.8C292.5,588.9 295.9,583.9 298.7,580.9C301.6,577.9 304.1,576.1 306.3,574.8C308.4,573.5 307.8,573.3 311.7,573.0C315.6,572.7 326.2,571.0 329.8,573.0C333.3,575.0 332.5,579.8 333.1,584.9C333.6,590.0 333.1,597.5 333.1,603.7C333.1,609.8 335.6,618.3 333.1,621.7C330.5,625.2 322.4,623.8 317.8,624.4C313.2,625.1 310.8,625.8 305.2,625.8C299.6,625.8 288.5,625.3 284.1,624.4C279.7,623.5 279.5,622.9 278.7,620.5Z" fill="#000" fill-opacity="0.026" stroke="#000" stroke-opacity="0.5" stroke-width="0.28"/>
<path d="M280.7,619.2C280.0,616.9 281.3,611.7 281.6,609.2C281.9,606.6 280.9,606.8 282.5,604.1C284.0,601.3 288.0,596.6 290.9,592.8C293.7,589.0 297.0,584.3 299.7,581.4C302.3,578.5 304.8,576.8 306.8,575.5C308.9,574.3 308.2,574.1 311.9,573.8C315.6,573.5 325.7,571.9 329.1,573.8C332.4,575.7 331.7,580.3 332.2,585.2C332.7,590.1 332.2,597.3 332.2,603.1C332.2,609.0 334.6,617.1 332.2,620.4C329.8,623.7 322.1,622.3 317.7,623.0C313.3,623.6 311.1,624.3 305.8,624.3C300.5,624.3 290.0,623.8 285.8,623.0C281.6,622.1 281.4,621.5 280.7,619.2Z" fill="#000" fill-opacity="0.026" stroke="#000" stroke-opacity="0.5" stroke-width="0.28"/>
<path d="M282.6,617.9C281.9,615.7 283.2,610.8 283.4,608.4C283.7,606.0 282.8,606.1 284.2,603.5C285.7,600.9 289.5,596.3 292.2,592.7C294.9,589.1 298.0,584.6 300.5,581.8C303.1,579.1 305.4,577.4 307.3,576.2C309.2,575.0 308.6,574.8 312.2,574.6C315.7,574.3 325.2,572.8 328.4,574.6C331.6,576.4 330.8,580.8 331.3,585.5C331.8,590.1 331.3,597.0 331.3,602.6C331.3,608.2 333.6,615.9 331.3,619.1C329.0,622.3 321.8,621.0 317.6,621.6C313.5,622.2 311.4,622.8 306.4,622.8C301.3,622.8 291.4,622.4 287.4,621.6C283.5,620.8 283.2,620.1 282.6,617.9Z" fill="#000" fill-opacity="0.026" stroke="#000" stroke-opacity="0.5" stroke-width="0.28"/>
<path d="M284.4,616.8C283.8,614.7 284.9,609.9 285.2,607.6C285.5,605.3 284.6,605.5 286.0,603.0C287.3,600.5 290.9,596.1 293.5,592.6C296.1,589.2 299.0,584.9 301.4,582.2C303.8,579.6 306.0,578.0 307.8,576.9C309.6,575.7 309.1,575.6 312.4,575.3C315.7,575.0 324.7,573.6 327.7,575.3C330.8,577.0 330.1,581.2 330.5,585.7C331.0,590.2 330.5,596.7 330.5,602.1C330.5,607.5 332.7,614.8 330.5,617.9C328.4,620.9 321.5,619.6 317.6,620.2C313.6,620.8 311.7,621.4 306.9,621.4C302.1,621.4 292.7,621.0 289.0,620.2C285.2,619.5 285.0,618.9 284.4,616.8Z" fill="#000" fill-opacity="0.026" stroke="#000" stroke-opacity="0.5" stroke-width="0.28"/>
<path d="M286.1,615.6C285.5,613.6 286.7,609.1 286.9,606.9C287.2,604.7 286.3,604.8 287.6,602.4C288.9,600.1 292.3,595.9 294.7,592.6C297.2,589.3 300.0,585.2 302.2,582.7C304.5,580.1 306.5,578.6 308.3,577.5C310.0,576.4 309.5,576.3 312.6,576.0C315.7,575.8 324.2,574.4 327.1,576.0C330.0,577.7 329.3,581.7 329.7,586.0C330.2,590.2 329.7,596.5 329.7,601.6C329.7,606.7 331.8,613.8 329.7,616.7C327.7,619.5 321.2,618.4 317.5,618.9C313.8,619.5 311.9,620.1 307.4,620.1C302.9,620.1 294.0,619.7 290.5,618.9C286.9,618.2 286.7,617.6 286.1,615.6Z" fill="#000" fill-opacity="0.026" stroke="#000" stroke-opacity="0.5" stroke-width="0.28"/>
<path d="M287.9,614.5C287.3,612.6 288.4,608.3 288.6,606.2C288.8,604.1 288.0,604.2 289.3,601.9C290.5,599.7 293.7,595.7 296.0,592.5C298.3,589.4 300.9,585.4 303.0,583.1C305.1,580.7 307.1,579.2 308.7,578.2C310.3,577.1 309.8,577.0 312.8,576.7C315.8,576.5 323.8,575.2 326.5,576.7C329.2,578.3 328.6,582.1 329.0,586.2C329.4,590.3 329.0,596.3 329.0,601.1C329.0,606.0 330.9,612.7 329.0,615.5C327.0,618.2 320.9,617.1 317.4,617.7C313.9,618.2 312.2,618.7 307.9,618.7C303.7,618.7 295.3,618.4 291.9,617.7C288.6,616.9 288.4,616.4 287.9,614.5Z" fill="#000" fill-opacity="0.026" stroke="#000" stroke-opacity="0.5" stroke-width="0.28"/>
<path d="M289.5,613.4C289.0,611.6 290.0,607.5 290.2,605.5C290.4,603.5 289.7,603.6 290.9,601.4C292.0,599.3 295.0,595.5 297.2,592.5C299.3,589.5 301.8,585.7 303.8,583.4C305.8,581.2 307.6,579.8 309.2,578.8C310.7,577.8 310.2,577.7 313.0,577.4C315.8,577.2 323.4,575.9 325.9,577.4C328.4,578.9 327.8,582.6 328.2,586.5C328.6,590.3 328.2,596.0 328.2,600.7C328.2,605.3 330.0,611.7 328.2,614.4C326.4,617.0 320.7,615.9 317.4,616.4C314.1,616.9 312.4,617.4 308.4,617.4C304.4,617.4 296.5,617.1 293.4,616.4C290.2,615.7 290.1,615.2 289.5,613.4Z" fill="#000" fill-opacity="0.026" stroke="#000" stroke-opacity="0.5" stroke-width="0.28"/>
<path d="M291.2,612.3C290.7,610.6 291.6,606.7 291.8,604.8C292.0,602.9 291.3,603.0 292.4,600.9C293.5,598.9 296.3,595.3 298.3,592.4C300.4,589.6 302.7,586.0 304.6,583.8C306.4,581.7 308.2,580.4 309.6,579.4C311.0,578.5 310.6,578.3 313.2,578.1C315.8,577.9 322.9,576.7 325.3,578.1C327.7,579.5 327.1,583.0 327.5,586.7C327.9,590.4 327.5,595.8 327.5,600.2C327.5,604.6 329.2,610.7 327.5,613.2C325.8,615.7 320.4,614.7 317.3,615.2C314.2,615.7 312.6,616.2 308.9,616.2C305.1,616.2 297.7,615.8 294.8,615.2C291.8,614.5 291.7,614.1 291.2,612.3Z" fill="#000" fill-opacity="0.026" stroke="#000" stroke-opacity="0.5" stroke-width="0.28"/>
<path d="M292.8,611.3C292.3,609.6 293.2,605.9 293.4,604.1C293.6,602.3 292.9,602.4 294.0,600.5C295.0,598.5 297.6,595.1 299.5,592.4C301.4,589.7 303.6,586.3 305.3,584.2C307.1,582.1 308.7,580.9 310.0,580.0C311.4,579.1 311.0,579.0 313.4,578.8C315.9,578.6 322.5,577.4 324.7,578.8C326.9,580.1 326.4,583.4 326.8,586.9C327.1,590.4 326.8,595.6 326.8,599.8C326.8,604.0 328.4,609.8 326.8,612.1C325.2,614.5 320.1,613.5 317.2,614.0C314.3,614.5 312.9,614.9 309.4,614.9C305.9,614.9 298.9,614.6 296.2,614.0C293.4,613.4 293.3,612.9 292.8,611.3Z" fill="#000" fill-opacity="0.026" stroke="#000" stroke-opacity="0.5" stroke-width="0.28"/>
<path d="M294.4,610.2C294.0,608.7 294.8,605.1 295.0,603.4C295.1,601.7 294.5,601.8 295.5,600.0C296.4,598.1 298.9,594.9 300.6,592.3C302.4,589.7 304.4,586.5 306.1,584.6C307.7,582.6 309.2,581.5 310.5,580.6C311.7,579.7 311.3,579.6 313.6,579.4C315.9,579.2 322.1,578.1 324.1,579.4C326.2,580.7 325.7,583.8 326.1,587.2C326.4,590.5 326.1,595.4 326.1,599.3C326.1,603.3 327.5,608.8 326.1,611.0C324.6,613.3 319.9,612.4 317.2,612.8C314.5,613.2 313.1,613.7 309.8,613.7C306.6,613.7 300.1,613.4 297.5,612.8C295.0,612.2 294.8,611.8 294.4,610.2Z" fill="#000" fill-opacity="0.026" stroke="#000" stroke-opacity="0.5" stroke-width="0.28"/>
<path d="M296.0,609.2C295.6,607.7 296.3,604.4 296.5,602.8C296.7,601.2 296.1,601.3 297.0,599.5C297.9,597.8 300.1,594.7 301.8,592.3C303.4,589.8 305.3,586.8 306.8,584.9C308.3,583.1 309.7,582.0 310.9,581.2C312.0,580.4 311.7,580.3 313.8,580.1C315.9,579.9 321.7,578.9 323.6,580.1C325.5,581.3 325.1,584.2 325.4,587.4C325.6,590.5 325.4,595.1 325.4,598.9C325.4,602.7 326.7,607.9 325.4,610.0C324.0,612.1 319.6,611.2 317.1,611.6C314.6,612.1 313.3,612.5 310.3,612.5C307.3,612.5 301.3,612.2 298.9,611.6C296.5,611.1 296.4,610.7 296.0,609.2Z" fill="#000" fill-opacity="0.026" stroke="#000" stroke-opacity="0.5" stroke-width="0.28"/>
<path d="M297.5,608.2C297.2,606.8 297.9,603.7 298.0,602.1C298.2,600.6 297.6,600.7 298.5,599.0C299.3,597.4 301.4,594.5 302.9,592.2C304.4,589.9 306.1,587.1 307.5,585.3C308.9,583.6 310.2,582.5 311.3,581.8C312.4,581.0 312.0,580.9 314.0,580.7C315.9,580.5 321.2,579.6 323.0,580.7C324.8,581.9 324.4,584.6 324.7,587.6C324.9,590.6 324.7,594.9 324.7,598.5C324.7,602.0 325.9,606.9 324.7,608.9C323.4,610.9 319.4,610.1 317.0,610.5C314.7,610.9 313.6,611.3 310.8,611.3C308.0,611.3 302.4,611.0 300.2,610.5C298.0,610.0 297.9,609.6 297.5,608.2Z" fill="#000" fill-opacity="0.026" stroke="#000" stroke-opacity="0.5" stroke-width="0.28"/>
<path d="M299.1,607.2C298.7,605.9 299.4,602.9 299.5,601.5C299.6,600.1 299.2,600.1 299.9,598.6C300.7,597.0 302.6,594.3 304.0,592.2C305.4,590.0 307.0,587.3 308.2,585.7C309.5,584.0 310.7,583.0 311.7,582.3C312.7,581.6 312.4,581.5 314.2,581.3C316.0,581.2 320.8,580.3 322.5,581.3C324.1,582.4 323.7,585.0 324.0,587.8C324.2,590.6 324.0,594.7 324.0,598.0C324.0,601.4 325.1,606.0 324.0,607.9C322.8,609.8 319.1,609.0 317.0,609.3C314.9,609.7 313.8,610.1 311.2,610.1C308.6,610.1 303.6,609.8 301.5,609.3C299.5,608.9 299.4,608.5 299.1,607.2Z" fill="#000" fill-opacity="0.026" stroke="#000" stroke-opacity="0.5" stroke-width="0.28"/>
<path d="M300.6,606.2C300.3,605.0 300.9,602.2 301.0,600.9C301.1,599.5 300.7,599.6 301.4,598.1C302.0,596.7 303.8,594.1 305.1,592.1C306.3,590.1 307.8,587.6 309.0,586.0C310.1,584.5 311.2,583.6 312.1,582.9C313.0,582.2 312.7,582.1 314.4,582.0C316.0,581.8 320.4,581.0 321.9,582.0C323.4,583.0 323.1,585.4 323.3,588.0C323.5,590.7 323.3,594.5 323.3,597.6C323.3,600.8 324.4,605.1 323.3,606.8C322.2,608.6 318.9,607.9 316.9,608.2C315.0,608.6 314.0,608.9 311.7,608.9C309.3,608.9 304.7,608.7 302.8,608.2C301.0,607.8 300.9,607.4 300.6,606.2Z" fill="#000" fill-opacity="0.026" stroke="#000" stroke-opacity="0.5" stroke-width="0.28"/>
<path d="M302.1,605.2C301.8,604.1 302.3,601.5 302.4,600.2C302.6,599.0 302.2,599.0 302.8,597.7C303.4,596.3 305.0,593.9 306.1,592.1C307.3,590.2 308.6,587.8 309.7,586.4C310.7,584.9 311.7,584.1 312.5,583.4C313.3,582.8 313.1,582.7 314.5,582.6C316.0,582.4 320.0,581.6 321.4,582.6C322.7,583.5 322.4,585.8 322.6,588.3C322.8,590.7 322.6,594.3 322.6,597.2C322.6,600.1 323.6,604.2 322.6,605.8C321.7,607.5 318.6,606.8 316.9,607.1C315.1,607.4 314.2,607.8 312.1,607.8C310.0,607.8 305.8,607.5 304.1,607.1C302.5,606.7 302.4,606.4 302.1,605.2Z" fill="#000" fill-opacity="0.026" stroke="#000" stroke-opacity="0.5" stroke-width="0.28"/>
<path d="M303.6,604.2C303.3,603.2 303.8,600.8 303.9,599.6C304.0,598.4 303.6,598.5 304.2,597.2C304.8,596.0 306.2,593.8 307.2,592.0C308.2,590.2 309.4,588.1 310.4,586.7C311.3,585.4 312.2,584.6 312.9,584.0C313.6,583.4 313.4,583.3 314.7,583.2C316.1,583.1 319.6,582.3 320.9,583.2C322.1,584.1 321.8,586.2 322.0,588.5C322.1,590.7 322.0,594.1 322.0,596.8C322.0,599.5 322.8,603.3 322.0,604.8C321.1,606.3 318.4,605.7 316.8,606.0C315.2,606.3 314.4,606.6 312.5,606.6C310.6,606.6 306.9,606.4 305.4,606.0C303.9,605.6 303.8,605.3 303.6,604.2Z" fill="#000" fill-opacity="0.026" stroke="#000" stroke-opacity="0.5" stroke-width="0.28"/>
<path d="M274.0,622.0C274.0,620.0 274.3,617.2 277.0,616.0C279.7,614.8 285.3,614.7 290.0,614.5C294.7,614.3 299.8,615.1 305.0,615.0C310.2,614.9 317.7,613.3 321.0,614.0C324.3,614.7 324.8,616.8 325.0,619.0C325.2,621.2 325.3,625.4 322.0,627.0C318.7,628.6 310.7,628.2 305.0,628.5C299.3,628.8 292.7,629.1 288.0,629.0C283.3,628.9 279.3,629.2 277.0,628.0C274.7,626.8 274.0,624.0 274.0,622.0Z" fill="#000" fill-opacity="0.080" stroke="#000" stroke-opacity="0.4" stroke-width="0.35"/>
<path d="M276.0,621.9C276.0,620.2 276.3,617.8 278.8,616.7C281.2,615.6 286.4,615.6 290.7,615.4C295.0,615.3 299.8,615.9 304.5,615.8C309.3,615.8 316.2,614.4 319.2,615.0C322.3,615.6 322.8,617.4 322.9,619.3C323.1,621.2 323.2,624.9 320.2,626.3C317.1,627.7 309.7,627.3 304.5,627.6C299.3,627.9 293.2,628.1 288.9,628.0C284.6,628.0 280.9,628.2 278.8,627.2C276.6,626.1 276.0,623.7 276.0,621.9Z" fill="#000" fill-opacity="0.080" stroke="#000" stroke-opacity="0.4" stroke-width="0.35"/>
<path d="M278.0,621.9C278.0,620.4 278.3,618.4 280.5,617.4C282.8,616.5 287.5,616.4 291.4,616.3C295.4,616.2 299.7,616.8 304.0,616.7C308.4,616.6 314.7,615.5 317.5,616.0C320.3,616.4 320.7,618.0 320.8,619.6C321.0,621.3 321.1,624.4 318.3,625.6C315.5,626.7 308.8,626.4 304.0,626.7C299.3,626.9 293.7,627.1 289.8,627.0C285.8,627.0 282.5,627.2 280.5,626.3C278.6,625.4 278.0,623.4 278.0,621.9Z" fill="#000" fill-opacity="0.080" stroke="#000" stroke-opacity="0.4" stroke-width="0.35"/>
<path d="M280.0,621.8C280.0,620.6 280.3,618.9 282.3,618.1C284.3,617.4 288.6,617.3 292.2,617.2C295.7,617.1 299.6,617.6 303.6,617.5C307.5,617.5 313.2,616.5 315.7,616.9C318.3,617.3 318.6,618.7 318.8,620.0C318.9,621.3 319.0,623.9 316.5,624.9C313.9,625.8 307.9,625.6 303.6,625.8C299.3,626.0 294.2,626.1 290.6,626.1C287.1,626.0 284.1,626.2 282.3,625.5C280.5,624.8 280.0,623.0 280.0,621.8Z" fill="#000" fill-opacity="0.080" stroke="#000" stroke-opacity="0.4" stroke-width="0.35"/>
<path d="M282.0,621.7C282.0,620.8 282.2,619.5 284.0,618.9C285.9,618.3 289.7,618.2 292.9,618.1C296.1,618.1 299.6,618.4 303.1,618.4C306.6,618.3 311.7,617.6 314.0,617.9C316.2,618.2 316.6,619.3 316.7,620.3C316.8,621.3 316.9,623.4 314.6,624.1C312.4,624.9 306.9,624.7 303.1,624.9C299.2,625.0 294.7,625.1 291.5,625.1C288.3,625.1 285.6,625.2 284.0,624.6C282.5,624.1 282.0,622.7 282.0,621.7Z" fill="#000" fill-opacity="0.080" stroke="#000" stroke-opacity="0.4" stroke-width="0.35"/>
<path d="M284.0,621.7C284.0,621.0 284.2,620.0 285.8,619.6C287.4,619.1 290.8,619.1 293.6,619.0C296.4,619.0 299.5,619.3 302.6,619.2C305.7,619.2 310.2,618.6 312.2,618.9C314.2,619.1 314.5,619.9 314.6,620.6C314.7,621.4 314.8,622.9 312.8,623.4C310.8,624.0 306.0,623.8 302.6,624.0C299.2,624.1 295.2,624.2 292.4,624.1C289.6,624.1 287.2,624.2 285.8,623.8C284.4,623.4 284.0,622.4 284.0,621.7Z" fill="#000" fill-opacity="0.080" stroke="#000" stroke-opacity="0.4" stroke-width="0.35"/>
<path d="M278,621.5 C278,618.5 283,617.5 292,618 C302,618.5 312,617.5 319,618 C323,619 323.5,623.5 320,625 C310,626 297,625.5 285,625.5 C280,625.3 278,623.5 278,621.5 Z" fill="#fff" fill-opacity="0.6" stroke="#000" stroke-opacity="0.8" stroke-width="2.0"/>
<ellipse cx="312.6" cy="596" rx="2.2" ry="6" transform="rotate(20 312.6 596)" fill="#fff" fill-opacity="0.5"/>
</g>
<rect x="296.3" y="560.4" width="56.6" height="51.9" fill="none" stroke="#3a3a3a" stroke-width="1"/>
<text x="296.5" y="586.6" font-size="11.7" text-anchor="end" fill="#1a1a1a" stroke="#1a1a1a" >41.7</text>
<text x="48.1" y="23.7" font-size="14.3" text-anchor="start" fill="#1a1a1a" stroke="#1a1a1a" >5 days <tspan font-style="italic">in vitro</tspan> stimulation:</text>
<text x="45.2" y="406.0" font-size="14.3" text-anchor="start" fill="#1a1a1a" stroke="#1a1a1a" >5 days <tspan font-style="italic">in vitro</tspan> stimulation:</text>
<text x="-0.5" y="13.1" font-size="25" font-weight="bold" fill="#000">a</text>
<text x="-0.6" y="398.5" font-size="26" font-weight="bold" fill="#000">b</text>
<text x="48.7" y="64.5" font-size="13.2" text-anchor="start" fill="#1a1a1a" stroke="#1a1a1a" >+OVA (0 <tspan font-style="italic" dx="1.1">μ</tspan>g/mL)</text>
<text x="149.6" y="64.0" font-size="13.2" text-anchor="start" fill="#1a1a1a" stroke="#1a1a1a" >+OVA (0.1 <tspan font-style="italic" dx="1.1">μ</tspan>g/mL)</text>
<text x="264.0" y="47.4" font-size="13.2" text-anchor="start" fill="#1a1a1a" stroke="#1a1a1a" >+OVA (0.1 <tspan font-style="italic" dx="1.1">μ</tspan>g/mL)</text>
<text x="260.5" y="64.0" font-size="13.2" text-anchor="start" fill="#1a1a1a" stroke="#1a1a1a" >+TSP-1 (10 <tspan font-style="italic" dx="1.1">μ</tspan>g/mL)</text>
<text x="40.6" y="436.5" font-size="13.2" text-anchor="start" fill="#1a1a1a" stroke="#1a1a1a" >+OVA (0 <tspan font-style="italic" dx="1.1">μ</tspan>g/mL)</text>
<text x="140.4" y="436.5" font-size="13.2" text-anchor="start" fill="#1a1a1a" stroke="#1a1a1a" >+OVA (0.1 <tspan font-style="italic" dx="1.1">μ</tspan>g/mL)</text>
<text x="254.6" y="419.1" font-size="13.2" text-anchor="start" fill="#1a1a1a" stroke="#1a1a1a" >+OVA (0.1 <tspan font-style="italic" dx="1.1">μ</tspan>g/mL)</text>
<text x="253.6" y="434.3" font-size="13.2" text-anchor="start" fill="#1a1a1a" stroke="#1a1a1a" >+TSP-1 (10 <tspan font-style="italic" dx="1.1">μ</tspan>g/mL)</text>
<text transform="translate(18.4,118.2) rotate(-90)" font-size="13" text-anchor="middle" fill="#dc1f26" stroke="#dc1f26">OT-1 <tspan font-style="italic">Cd47+/+</tspan></text>
<text transform="translate(18.4,234.0) rotate(-90)" font-size="13" text-anchor="middle" fill="#2f2bc0" stroke="#2f2bc0">OT-1 <tspan font-style="italic">Cd47-/-</tspan></text>
<text transform="translate(20.0,489.0) rotate(-90)" font-size="13" text-anchor="middle" fill="#dc1f26" stroke="#dc1f26">OT-1 <tspan font-style="italic">Cd47+/+</tspan></text>
<text transform="translate(20.0,592.3) rotate(-90)" font-size="13" text-anchor="middle" fill="#2f2bc0" stroke="#2f2bc0">OT-1 <tspan font-style="italic">Cd47-/-</tspan></text>
<text transform="translate(36.3,275.5) rotate(-90)" font-size="12" text-anchor="middle" fill="#1a1a1a" stroke="#1a1a1a">TOX</text>
<text transform="translate(36.0,631.0) rotate(-90)" font-size="12.5" text-anchor="middle" fill="#1a1a1a" stroke="#1a1a1a">IFNγ</text>
<text x="44.0" y="305.7" font-size="12" text-anchor="start" fill="#1a1a1a" stroke="#1a1a1a" >PD-1</text>
<text x="43.5" y="662.0" font-size="12" text-anchor="start" fill="#1a1a1a" stroke="#1a1a1a" >TNF</text>
<line x1="32.50" y1="258.40" x2="32.50" y2="77.80" stroke="#000" stroke-width="1.25" />
<path d="M29.80,79.40 L32.50,71.80 L35.20,79.40 Z" fill="#000"/>
<line x1="88.00" y1="301.80" x2="355.80" y2="301.80" stroke="#000" stroke-width="1.25" />
<path d="M354.20,299.10 L361.80,301.80 L354.20,304.50 Z" fill="#000"/>
<line x1="34.40" y1="613.00" x2="34.40" y2="449.90" stroke="#000" stroke-width="1.25" />
<path d="M31.70,451.50 L34.40,443.90 L37.10,451.50 Z" fill="#000"/>
<line x1="78.30" y1="657.40" x2="351.50" y2="657.40" stroke="#000" stroke-width="1.25" />
<path d="M349.90,654.70 L357.50,657.40 L349.90,660.10 Z" fill="#000"/>
<path d="M439.70,156.40 V89.00 H450.40 V156.40" fill="#fff" stroke="#2a2a2a" stroke-width="1.25"/>
<path d="M453.70,156.40 V56.00 H464.30 V156.40" fill="#fff" stroke="#2a2a2a" stroke-width="1.25"/>
<path d="M484.40,156.40 V136.00 H495.30 V156.40" fill="#fff" stroke="#2a2a2a" stroke-width="1.25"/>
<path d="M498.60,156.40 V134.00 H509.60 V156.40" fill="#fff" stroke="#2a2a2a" stroke-width="1.25"/>
<line x1="422.80" y1="44.20" x2="422.80" y2="157.03" stroke="#2a2a2a" stroke-width="1.25" />
<line x1="418.30" y1="156.40" x2="512.40" y2="156.40" stroke="#2a2a2a" stroke-width="1.25" />
<line x1="418.30" y1="44.20" x2="422.80" y2="44.20" stroke="#2a2a2a" stroke-width="1.25" />
<text x="416.8" y="48.1" font-size="11" text-anchor="end" fill="#1a1a1a" stroke="#1a1a1a" >60</text>
<line x1="418.30" y1="82.00" x2="422.80" y2="82.00" stroke="#2a2a2a" stroke-width="1.25" />
<text x="416.8" y="85.9" font-size="11" text-anchor="end" fill="#1a1a1a" stroke="#1a1a1a" >40</text>
<line x1="418.30" y1="119.20" x2="422.80" y2="119.20" stroke="#2a2a2a" stroke-width="1.25" />
<text x="416.8" y="123.1" font-size="11" text-anchor="end" fill="#1a1a1a" stroke="#1a1a1a" >20</text>
<line x1="418.30" y1="156.40" x2="422.80" y2="156.40" stroke="#2a2a2a" stroke-width="1.25" />
<text x="416.8" y="160.3" font-size="11" text-anchor="end" fill="#1a1a1a" stroke="#1a1a1a" >0</text>
<line x1="444.80" y1="156.40" x2="444.80" y2="161.20" stroke="#2a2a2a" stroke-width="1.25" />
<line x1="489.60" y1="156.40" x2="489.60" y2="161.20" stroke="#2a2a2a" stroke-width="1.25" />
<circle cx="429.20" cy="156.40" r="3.2" fill="#8a8a8a" stroke="#1c1c1c" stroke-width="1"/>
<circle cx="431.20" cy="156.40" r="3.2" fill="#8a8a8a" stroke="#1c1c1c" stroke-width="1"/>
<circle cx="433.30" cy="156.40" r="3.2" fill="#8a8a8a" stroke="#1c1c1c" stroke-width="1"/>
<circle cx="442.90" cy="84.80" r="3.2" fill="#6cc3f7" stroke="#0d2a8e" stroke-width="1"/>
<circle cx="447.40" cy="90.10" r="3.2" fill="#6cc3f7" stroke="#0d2a8e" stroke-width="1"/>
<circle cx="442.50" cy="94.20" r="3.2" fill="#6cc3f7" stroke="#0d2a8e" stroke-width="1"/>
<circle cx="456.40" cy="52.90" r="3.2" fill="#f8801c" stroke="#7d2400" stroke-width="1"/>
<circle cx="461.30" cy="54.20" r="3.2" fill="#f8801c" stroke="#7d2400" stroke-width="1"/>
<circle cx="456.80" cy="60.70" r="3.2" fill="#f8801c" stroke="#7d2400" stroke-width="1"/>
<circle cx="474.30" cy="156.40" r="3.2" fill="#8a8a8a" stroke="#1c1c1c" stroke-width="1"/>
<circle cx="475.90" cy="156.40" r="3.2" fill="#8a8a8a" stroke="#1c1c1c" stroke-width="1"/>
<circle cx="477.40" cy="156.40" r="3.2" fill="#8a8a8a" stroke="#1c1c1c" stroke-width="1"/>
<circle cx="489.60" cy="133.00" r="3.2" fill="#6cc3f7" stroke="#0d2a8e" stroke-width="1"/>
<circle cx="492.10" cy="135.20" r="3.2" fill="#6cc3f7" stroke="#0d2a8e" stroke-width="1"/>
<circle cx="487.00" cy="138.30" r="3.2" fill="#6cc3f7" stroke="#0d2a8e" stroke-width="1"/>
<circle cx="504.00" cy="129.90" r="3.2" fill="#f8801c" stroke="#7d2400" stroke-width="1"/>
<circle cx="507.00" cy="133.00" r="3.2" fill="#f8801c" stroke="#7d2400" stroke-width="1"/>
<circle cx="501.70" cy="136.20" r="3.2" fill="#f8801c" stroke="#7d2400" stroke-width="1"/>
<path d="M444.80,43.40 V39.00 H459.30 V43.40" fill="none" stroke="#2a2a2a" stroke-width="1.25"/>
<text x="429.2" y="32.9" font-size="11.2" text-anchor="start" fill="#1a1a1a" stroke="#1a1a1a" >0.000655</text>
<path d="M489.60,111.30 V69.20 H504.40 V111.30" fill="none" stroke="#2a2a2a" stroke-width="1.25"/>
<text x="474.4" y="63.3" font-size="11.2" text-anchor="start" fill="#1a1a1a" stroke="#1a1a1a" >0.164248</text>
<text transform="translate(397.2,99.5) rotate(-90)" font-size="12.5" text-anchor="middle" fill="#1a1a1a" stroke="#1a1a1a">TOX<tspan font-size="8" dy="-5">+</tspan><tspan dy="5"> PD-1</tspan><tspan font-size="8" dy="-5">+</tspan><tspan dy="5"> (%)</tspan></text>
<text x="389.8" y="174.5" font-size="11.4" text-anchor="start" fill="#1a1a1a" stroke="#1a1a1a" >OT-1:</text>
<text x="423.5" y="174.5" font-size="11.4" text-anchor="start" fill="#dc1f26" stroke="#dc1f26" font-style="italic" >Cd47+/+</text>
<text x="476.0" y="174.5" font-size="11.4" text-anchor="start" fill="#2f2bc0" stroke="#2f2bc0" font-style="italic" >Cd47-/-</text>
<path d="M590.00,157.90 V154.40 H600.80 V157.90" fill="#fff" stroke="#2a2a2a" stroke-width="1.25"/>
<path d="M604.60,157.90 V91.50 H614.60 V157.90" fill="#fff" stroke="#2a2a2a" stroke-width="1.25"/>
<path d="M618.40,157.90 V63.20 H628.60 V157.90" fill="#fff" stroke="#2a2a2a" stroke-width="1.25"/>
<path d="M635.10,157.90 V154.50 H646.20 V157.90" fill="#fff" stroke="#2a2a2a" stroke-width="1.25"/>
<path d="M649.40,157.90 V127.90 H660.00 V157.90" fill="#fff" stroke="#2a2a2a" stroke-width="1.25"/>
<path d="M663.40,157.90 V127.90 H674.10 V157.90" fill="#fff" stroke="#2a2a2a" stroke-width="1.25"/>
<line x1="587.30" y1="44.50" x2="587.30" y2="158.53" stroke="#2a2a2a" stroke-width="1.25" />
<line x1="582.60" y1="157.90" x2="677.20" y2="157.90" stroke="#2a2a2a" stroke-width="1.25" />
<line x1="582.80" y1="44.50" x2="587.30" y2="44.50" stroke="#2a2a2a" stroke-width="1.25" />
<text x="581.3" y="48.4" font-size="11" text-anchor="end" fill="#1a1a1a" stroke="#1a1a1a" >30000</text>
<line x1="582.80" y1="82.30" x2="587.30" y2="82.30" stroke="#2a2a2a" stroke-width="1.25" />
<text x="581.3" y="86.2" font-size="11" text-anchor="end" fill="#1a1a1a" stroke="#1a1a1a" >20000</text>
<line x1="582.80" y1="120.10" x2="587.30" y2="120.10" stroke="#2a2a2a" stroke-width="1.25" />
<text x="581.3" y="124.0" font-size="11" text-anchor="end" fill="#1a1a1a" stroke="#1a1a1a" >10000</text>
<line x1="582.80" y1="157.90" x2="587.30" y2="157.90" stroke="#2a2a2a" stroke-width="1.25" />
<text x="581.3" y="161.8" font-size="11" text-anchor="end" fill="#1a1a1a" stroke="#1a1a1a" >0</text>
<line x1="609.60" y1="157.90" x2="609.60" y2="162.70" stroke="#2a2a2a" stroke-width="1.25" />
<line x1="654.40" y1="157.90" x2="654.40" y2="162.70" stroke="#2a2a2a" stroke-width="1.25" />
<circle cx="595.00" cy="148.30" r="3.2" fill="#8a8a8a" stroke="#1c1c1c" stroke-width="1"/>
<circle cx="593.00" cy="151.70" r="3.2" fill="#8a8a8a" stroke="#1c1c1c" stroke-width="1"/>
<circle cx="598.20" cy="151.40" r="3.2" fill="#8a8a8a" stroke="#1c1c1c" stroke-width="1"/>
<circle cx="609.30" cy="87.30" r="3.2" fill="#6cc3f7" stroke="#0d2a8e" stroke-width="1"/>
<circle cx="606.60" cy="92.00" r="3.2" fill="#6cc3f7" stroke="#0d2a8e" stroke-width="1"/>
<circle cx="612.00" cy="91.40" r="3.2" fill="#6cc3f7" stroke="#0d2a8e" stroke-width="1"/>
<circle cx="621.60" cy="56.70" r="3.2" fill="#f8801c" stroke="#7d2400" stroke-width="1"/>
<circle cx="625.60" cy="61.50" r="3.2" fill="#f8801c" stroke="#7d2400" stroke-width="1"/>
<circle cx="623.20" cy="69.00" r="3.2" fill="#f8801c" stroke="#7d2400" stroke-width="1"/>
<circle cx="640.50" cy="151.00" r="3.2" fill="#8a8a8a" stroke="#1c1c1c" stroke-width="1"/>
<circle cx="637.10" cy="153.00" r="3.2" fill="#8a8a8a" stroke="#1c1c1c" stroke-width="1"/>
<circle cx="644.00" cy="153.00" r="3.2" fill="#8a8a8a" stroke="#1c1c1c" stroke-width="1"/>
<circle cx="654.50" cy="117.70" r="3.2" fill="#6cc3f7" stroke="#0d2a8e" stroke-width="1"/>
<circle cx="651.80" cy="125.10" r="3.2" fill="#6cc3f7" stroke="#0d2a8e" stroke-width="1"/>
<circle cx="657.30" cy="125.10" r="3.2" fill="#6cc3f7" stroke="#0d2a8e" stroke-width="1"/>
<circle cx="668.80" cy="120.40" r="3.2" fill="#f8801c" stroke="#7d2400" stroke-width="1"/>
<circle cx="671.10" cy="129.20" r="3.2" fill="#f8801c" stroke="#7d2400" stroke-width="1"/>
<circle cx="666.40" cy="132.00" r="3.2" fill="#f8801c" stroke="#7d2400" stroke-width="1"/>
<path d="M609.60,71.70 V36.00 H623.40 V41.80" fill="none" stroke="#2a2a2a" stroke-width="1.25"/>
<text x="594.1" y="29.5" font-size="11.2" text-anchor="start" fill="#1a1a1a" stroke="#1a1a1a" >0.001583</text>
<path d="M654.50,103.20 V67.90 H668.80 V103.20" fill="none" stroke="#2a2a2a" stroke-width="1.25"/>
<text x="638.8" y="61.5" font-size="11.2" text-anchor="start" fill="#1a1a1a" stroke="#1a1a1a" >0.186517</text>
<text transform="translate(543.0,100.2) rotate(-90)" font-size="12.5" text-anchor="middle" fill="#1a1a1a" stroke="#1a1a1a">PD-1 (MFI)</text>
<text x="557.0" y="174.8" font-size="11.4" text-anchor="start" fill="#1a1a1a" stroke="#1a1a1a" >OT-1:</text>
<text x="590.6" y="174.8" font-size="11.4" text-anchor="start" fill="#dc1f26" stroke="#dc1f26" font-style="italic" >Cd47+/+</text>
<text x="643.3" y="174.8" font-size="11.4" text-anchor="start" fill="#2f2bc0" stroke="#2f2bc0" font-style="italic" >Cd47-/-</text>
<path d="M436.80,318.90 V282.40 H447.60 V318.90" fill="#fff" stroke="#2a2a2a" stroke-width="1.25"/>
<path d="M451.10,318.90 V237.10 H461.60 V318.90" fill="#fff" stroke="#2a2a2a" stroke-width="1.25"/>
<path d="M481.90,318.90 V311.70 H492.40 V318.90" fill="#fff" stroke="#2a2a2a" stroke-width="1.25"/>
<path d="M496.20,318.90 V310.80 H506.40 V318.90" fill="#fff" stroke="#2a2a2a" stroke-width="1.25"/>
<line x1="419.70" y1="205.10" x2="419.70" y2="319.52" stroke="#2a2a2a" stroke-width="1.25" />
<line x1="415.20" y1="318.90" x2="510.20" y2="318.90" stroke="#2a2a2a" stroke-width="1.25" />
<line x1="415.20" y1="205.10" x2="419.70" y2="205.10" stroke="#2a2a2a" stroke-width="1.25" />
<text x="413.7" y="209.0" font-size="11" text-anchor="end" fill="#1a1a1a" stroke="#1a1a1a" >80</text>
<line x1="415.20" y1="233.55" x2="419.70" y2="233.55" stroke="#2a2a2a" stroke-width="1.25" />
<text x="413.7" y="237.4" font-size="11" text-anchor="end" fill="#1a1a1a" stroke="#1a1a1a" >60</text>
<line x1="415.20" y1="262.00" x2="419.70" y2="262.00" stroke="#2a2a2a" stroke-width="1.25" />
<text x="413.7" y="265.9" font-size="11" text-anchor="end" fill="#1a1a1a" stroke="#1a1a1a" >40</text>
<line x1="415.20" y1="290.45" x2="419.70" y2="290.45" stroke="#2a2a2a" stroke-width="1.25" />
<text x="413.7" y="294.3" font-size="11" text-anchor="end" fill="#1a1a1a" stroke="#1a1a1a" >20</text>
<line x1="415.20" y1="318.90" x2="419.70" y2="318.90" stroke="#2a2a2a" stroke-width="1.25" />
<text x="413.7" y="322.8" font-size="11" text-anchor="end" fill="#1a1a1a" stroke="#1a1a1a" >0</text>
<line x1="441.90" y1="318.90" x2="441.90" y2="323.70" stroke="#2a2a2a" stroke-width="1.25" />
<line x1="487.10" y1="318.90" x2="487.10" y2="323.70" stroke="#2a2a2a" stroke-width="1.25" />
<circle cx="425.50" cy="318.90" r="3.2" fill="#8a8a8a" stroke="#1c1c1c" stroke-width="1"/>
<circle cx="428.30" cy="318.90" r="3.2" fill="#8a8a8a" stroke="#1c1c1c" stroke-width="1"/>
<circle cx="430.50" cy="318.90" r="3.2" fill="#8a8a8a" stroke="#1c1c1c" stroke-width="1"/>
<circle cx="441.90" cy="275.20" r="3.2" fill="#6cc3f7" stroke="#0d2a8e" stroke-width="1"/>
<circle cx="439.40" cy="280.40" r="3.2" fill="#6cc3f7" stroke="#0d2a8e" stroke-width="1"/>
<circle cx="444.60" cy="279.70" r="3.2" fill="#6cc3f7" stroke="#0d2a8e" stroke-width="1"/>
<circle cx="456.10" cy="227.60" r="3.2" fill="#f8801c" stroke="#7d2400" stroke-width="1"/>
<circle cx="453.40" cy="234.10" r="3.2" fill="#f8801c" stroke="#7d2400" stroke-width="1"/>
<circle cx="458.60" cy="234.10" r="3.2" fill="#f8801c" stroke="#7d2400" stroke-width="1"/>
<circle cx="471.30" cy="318.90" r="3.2" fill="#8a8a8a" stroke="#1c1c1c" stroke-width="1"/>
<circle cx="473.80" cy="318.90" r="3.2" fill="#8a8a8a" stroke="#1c1c1c" stroke-width="1"/>
<circle cx="475.50" cy="318.90" r="3.2" fill="#8a8a8a" stroke="#1c1c1c" stroke-width="1"/>
<circle cx="484.50" cy="309.00" r="3.2" fill="#6cc3f7" stroke="#0d2a8e" stroke-width="1"/>
<circle cx="488.00" cy="307.30" r="3.2" fill="#6cc3f7" stroke="#0d2a8e" stroke-width="1"/>
<circle cx="490.60" cy="309.00" r="3.2" fill="#6cc3f7" stroke="#0d2a8e" stroke-width="1"/>
<circle cx="499.30" cy="303.80" r="3.2" fill="#f8801c" stroke="#7d2400" stroke-width="1"/>
<circle cx="503.60" cy="309.00" r="3.2" fill="#f8801c" stroke="#7d2400" stroke-width="1"/>
<circle cx="499.80" cy="311.70" r="3.2" fill="#f8801c" stroke="#7d2400" stroke-width="1"/>
<path d="M441.90,208.50 V202.20 H456.40 V208.50" fill="none" stroke="#2a2a2a" stroke-width="1.25"/>
<text x="426.5" y="196.3" font-size="11.2" text-anchor="start" fill="#1a1a1a" stroke="#1a1a1a" >0.000065</text>
<path d="M487.10,296.90 V252.60 H501.00 V296.90" fill="none" stroke="#2a2a2a" stroke-width="1.25"/>
<text x="471.5" y="246.9" font-size="11.2" text-anchor="start" fill="#1a1a1a" stroke="#1a1a1a" >0.483556</text>
<text transform="translate(394.2,260.7) rotate(-90)" font-size="12.5" text-anchor="middle" fill="#1a1a1a" stroke="#1a1a1a">PD-1<tspan font-size="8" dy="-5">+</tspan><tspan dy="5"> TIM-3</tspan><tspan font-size="8" dy="-5">+</tspan><tspan dy="5"> (%)</tspan></text>
<text x="389.8" y="336.4" font-size="11.4" text-anchor="start" fill="#1a1a1a" stroke="#1a1a1a" >OT-1:</text>
<text x="423.8" y="336.4" font-size="11.4" text-anchor="start" fill="#dc1f26" stroke="#dc1f26" font-style="italic" >Cd47+/+</text>
<text x="475.8" y="336.4" font-size="11.4" text-anchor="start" fill="#2f2bc0" stroke="#2f2bc0" font-style="italic" >Cd47-/-</text>
<path d="M583.70,318.50 V280.40 H594.60 V318.50" fill="#fff" stroke="#2a2a2a" stroke-width="1.25"/>
<path d="M597.70,318.50 V243.00 H608.60 V318.50" fill="#fff" stroke="#2a2a2a" stroke-width="1.25"/>
<path d="M612.00,318.50 V220.50 H622.40 V318.50" fill="#fff" stroke="#2a2a2a" stroke-width="1.25"/>
<path d="M628.70,318.50 V286.00 H639.90 V318.50" fill="#fff" stroke="#2a2a2a" stroke-width="1.25"/>
<path d="M642.90,318.50 V248.60 H653.80 V318.50" fill="#fff" stroke="#2a2a2a" stroke-width="1.25"/>
<path d="M657.30,318.50 V251.80 H667.80 V318.50" fill="#fff" stroke="#2a2a2a" stroke-width="1.25"/>
<line x1="581.00" y1="205.10" x2="581.00" y2="319.12" stroke="#2a2a2a" stroke-width="1.25" />
<line x1="576.30" y1="318.50" x2="670.50" y2="318.50" stroke="#2a2a2a" stroke-width="1.25" />
<line x1="576.50" y1="205.10" x2="581.00" y2="205.10" stroke="#2a2a2a" stroke-width="1.25" />
<text x="575.0" y="209.0" font-size="11" text-anchor="end" fill="#1a1a1a" stroke="#1a1a1a" >10000</text>
<line x1="576.50" y1="227.78" x2="581.00" y2="227.78" stroke="#2a2a2a" stroke-width="1.25" />
<text x="575.0" y="231.7" font-size="11" text-anchor="end" fill="#1a1a1a" stroke="#1a1a1a" >8000</text>
<line x1="576.50" y1="250.46" x2="581.00" y2="250.46" stroke="#2a2a2a" stroke-width="1.25" />
<text x="575.0" y="254.4" font-size="11" text-anchor="end" fill="#1a1a1a" stroke="#1a1a1a" >6000</text>
<line x1="576.50" y1="273.14" x2="581.00" y2="273.14" stroke="#2a2a2a" stroke-width="1.25" />
<text x="575.0" y="277.0" font-size="11" text-anchor="end" fill="#1a1a1a" stroke="#1a1a1a" >4000</text>
<line x1="576.50" y1="295.82" x2="581.00" y2="295.82" stroke="#2a2a2a" stroke-width="1.25" />
<text x="575.0" y="299.7" font-size="11" text-anchor="end" fill="#1a1a1a" stroke="#1a1a1a" >2000</text>
<line x1="576.50" y1="318.50" x2="581.00" y2="318.50" stroke="#2a2a2a" stroke-width="1.25" />
<text x="575.0" y="322.4" font-size="11" text-anchor="end" fill="#1a1a1a" stroke="#1a1a1a" >0</text>
<line x1="603.10" y1="318.50" x2="603.10" y2="323.30" stroke="#2a2a2a" stroke-width="1.25" />
<line x1="647.90" y1="318.50" x2="647.90" y2="323.30" stroke="#2a2a2a" stroke-width="1.25" />
<circle cx="589.10" cy="275.90" r="3.2" fill="#8a8a8a" stroke="#1c1c1c" stroke-width="1"/>
<circle cx="586.80" cy="279.00" r="3.2" fill="#8a8a8a" stroke="#1c1c1c" stroke-width="1"/>
<circle cx="591.90" cy="277.70" r="3.2" fill="#8a8a8a" stroke="#1c1c1c" stroke-width="1"/>
<circle cx="600.70" cy="236.80" r="3.2" fill="#6cc3f7" stroke="#0d2a8e" stroke-width="1"/>
<circle cx="605.90" cy="239.80" r="3.2" fill="#6cc3f7" stroke="#0d2a8e" stroke-width="1"/>
<circle cx="600.70" cy="245.00" r="3.2" fill="#6cc3f7" stroke="#0d2a8e" stroke-width="1"/>
<circle cx="615.00" cy="213.70" r="3.2" fill="#f8801c" stroke="#7d2400" stroke-width="1"/>
<circle cx="619.00" cy="216.00" r="3.2" fill="#f8801c" stroke="#7d2400" stroke-width="1"/>
<circle cx="615.00" cy="222.10" r="3.2" fill="#f8801c" stroke="#7d2400" stroke-width="1"/>
<circle cx="631.20" cy="284.70" r="3.2" fill="#8a8a8a" stroke="#1c1c1c" stroke-width="1"/>
<circle cx="634.90" cy="284.20" r="3.2" fill="#8a8a8a" stroke="#1c1c1c" stroke-width="1"/>
<circle cx="637.40" cy="285.20" r="3.2" fill="#8a8a8a" stroke="#1c1c1c" stroke-width="1"/>
<circle cx="646.10" cy="247.30" r="3.2" fill="#6cc3f7" stroke="#0d2a8e" stroke-width="1"/>
<circle cx="648.60" cy="246.00" r="3.2" fill="#6cc3f7" stroke="#0d2a8e" stroke-width="1"/>
<circle cx="651.80" cy="247.30" r="3.2" fill="#6cc3f7" stroke="#0d2a8e" stroke-width="1"/>
<circle cx="661.00" cy="248.60" r="3.2" fill="#f8801c" stroke="#7d2400" stroke-width="1"/>
<circle cx="664.80" cy="251.00" r="3.2" fill="#f8801c" stroke="#7d2400" stroke-width="1"/>
<circle cx="659.80" cy="252.30" r="3.2" fill="#f8801c" stroke="#7d2400" stroke-width="1"/>
<path d="M603.00,206.50 V200.00 H617.20 V206.50" fill="none" stroke="#2a2a2a" stroke-width="1.25"/>
<text x="587.4" y="193.6" font-size="11.2" text-anchor="start" fill="#1a1a1a" stroke="#1a1a1a" >0.002478</text>
<path d="M648.10,234.30 V215.70 H662.30 V234.30" fill="none" stroke="#2a2a2a" stroke-width="1.25"/>
<text x="632.4" y="209.4" font-size="11.2" text-anchor="start" fill="#1a1a1a" stroke="#1a1a1a" >0.059409</text>
<text transform="translate(536.7,260.6) rotate(-90)" font-size="12.5" text-anchor="middle" fill="#1a1a1a" stroke="#1a1a1a">TIM-3 (MFI)</text>
<text x="550.1" y="336.8" font-size="11.4" text-anchor="start" fill="#1a1a1a" stroke="#1a1a1a" >OT-1:</text>
<text x="583.7" y="336.8" font-size="11.4" text-anchor="start" fill="#dc1f26" stroke="#dc1f26" font-style="italic" >Cd47+/+</text>
<text x="636.1" y="336.8" font-size="11.4" text-anchor="start" fill="#2f2bc0" stroke="#2f2bc0" font-style="italic" >Cd47-/-</text>
<path d="M419.40,585.70 V548.10 H429.60 V585.70" fill="#fff" stroke="#2a2a2a" stroke-width="1.25"/>
<path d="M433.30,585.70 V498.70 H443.20 V585.70" fill="#fff" stroke="#2a2a2a" stroke-width="1.25"/>
<path d="M447.00,585.70 V511.60 H457.50 V585.70" fill="#fff" stroke="#2a2a2a" stroke-width="1.25"/>
<path d="M463.50,585.70 V551.70 H474.30 V585.70" fill="#fff" stroke="#2a2a2a" stroke-width="1.25"/>
<path d="M477.60,585.70 V527.30 H487.90 V585.70" fill="#fff" stroke="#2a2a2a" stroke-width="1.25"/>
<path d="M491.50,585.70 V529.30 H502.00 V585.70" fill="#fff" stroke="#2a2a2a" stroke-width="1.25"/>
<line x1="416.00" y1="474.00" x2="416.00" y2="586.33" stroke="#2a2a2a" stroke-width="1.25" />
<line x1="411.30" y1="585.70" x2="505.10" y2="585.70" stroke="#2a2a2a" stroke-width="1.25" />
<line x1="411.50" y1="474.00" x2="416.00" y2="474.00" stroke="#2a2a2a" stroke-width="1.25" />
<text x="410.0" y="477.9" font-size="11" text-anchor="end" fill="#1a1a1a" stroke="#1a1a1a" >80</text>
<line x1="411.50" y1="501.93" x2="416.00" y2="501.93" stroke="#2a2a2a" stroke-width="1.25" />
<text x="410.0" y="505.8" font-size="11" text-anchor="end" fill="#1a1a1a" stroke="#1a1a1a" >60</text>
<line x1="411.50" y1="529.85" x2="416.00" y2="529.85" stroke="#2a2a2a" stroke-width="1.25" />
<text x="410.0" y="533.8" font-size="11" text-anchor="end" fill="#1a1a1a" stroke="#1a1a1a" >40</text>
<line x1="411.50" y1="557.78" x2="416.00" y2="557.78" stroke="#2a2a2a" stroke-width="1.25" />
<text x="410.0" y="561.7" font-size="11" text-anchor="end" fill="#1a1a1a" stroke="#1a1a1a" >20</text>
<line x1="411.50" y1="585.70" x2="416.00" y2="585.70" stroke="#2a2a2a" stroke-width="1.25" />
<text x="410.0" y="589.6" font-size="11" text-anchor="end" fill="#1a1a1a" stroke="#1a1a1a" >0</text>
<line x1="438.20" y1="585.70" x2="438.20" y2="590.50" stroke="#2a2a2a" stroke-width="1.25" />
<line x1="482.80" y1="585.70" x2="482.80" y2="590.50" stroke="#2a2a2a" stroke-width="1.25" />
<circle cx="424.20" cy="546.10" r="3.2" fill="#8a8a8a" stroke="#1c1c1c" stroke-width="1"/>
<circle cx="426.90" cy="546.80" r="3.2" fill="#8a8a8a" stroke="#1c1c1c" stroke-width="1"/>
<circle cx="422.10" cy="549.50" r="3.2" fill="#8a8a8a" stroke="#1c1c1c" stroke-width="1"/>
<circle cx="437.10" cy="496.00" r="3.2" fill="#6cc3f7" stroke="#0d2a8e" stroke-width="1"/>
<circle cx="440.50" cy="496.40" r="3.2" fill="#6cc3f7" stroke="#0d2a8e" stroke-width="1"/>
<circle cx="435.00" cy="497.30" r="3.2" fill="#6cc3f7" stroke="#0d2a8e" stroke-width="1"/>
<circle cx="450.70" cy="510.90" r="3.2" fill="#f8801c" stroke="#7d2400" stroke-width="1"/>
<circle cx="454.10" cy="510.90" r="3.2" fill="#f8801c" stroke="#7d2400" stroke-width="1"/>
<circle cx="452.00" cy="511.60" r="3.2" fill="#f8801c" stroke="#7d2400" stroke-width="1"/>
<circle cx="465.80" cy="551.20" r="3.2" fill="#8a8a8a" stroke="#1c1c1c" stroke-width="1"/>
<circle cx="469.10" cy="551.00" r="3.2" fill="#8a8a8a" stroke="#1c1c1c" stroke-width="1"/>
<circle cx="471.70" cy="551.70" r="3.2" fill="#8a8a8a" stroke="#1c1c1c" stroke-width="1"/>
<circle cx="480.20" cy="526.80" r="3.2" fill="#6cc3f7" stroke="#0d2a8e" stroke-width="1"/>
<circle cx="483.30" cy="526.00" r="3.2" fill="#6cc3f7" stroke="#0d2a8e" stroke-width="1"/>
<circle cx="485.90" cy="527.30" r="3.2" fill="#6cc3f7" stroke="#0d2a8e" stroke-width="1"/>
<circle cx="494.10" cy="529.30" r="3.2" fill="#f8801c" stroke="#7d2400" stroke-width="1"/>
<circle cx="496.90" cy="527.80" r="3.2" fill="#f8801c" stroke="#7d2400" stroke-width="1"/>
<circle cx="500.00" cy="529.90" r="3.2" fill="#f8801c" stroke="#7d2400" stroke-width="1"/>
<path d="M438.20,482.40 V477.00 H452.00 V485.10" fill="none" stroke="#2a2a2a" stroke-width="1.25"/>
<text x="423.2" y="470.6" font-size="11.2" text-anchor="start" fill="#1a1a1a" stroke="#1a1a1a" >0.000052</text>
<path d="M482.80,506.70 V466.90 H498.20 V506.70" fill="none" stroke="#2a2a2a" stroke-width="1.25"/>
<text x="468.4" y="460.4" font-size="11.2" text-anchor="start" fill="#1a1a1a" stroke="#1a1a1a" >0.028964</text>
<text transform="translate(392.0,528.9) rotate(-90)" font-size="12.5" text-anchor="middle" fill="#1a1a1a" stroke="#1a1a1a">TNF<tspan font-size="8" dy="-5">+</tspan><tspan dy="5"> IFNγ</tspan><tspan font-size="8" dy="-5">+</tspan><tspan dy="5"> (%)</tspan></text>
<text x="383.0" y="603.8" font-size="11.4" text-anchor="start" fill="#1a1a1a" stroke="#1a1a1a" >OT-1:</text>
<text x="417.0" y="603.8" font-size="11.4" text-anchor="start" fill="#dc1f26" stroke="#dc1f26" font-style="italic" >Cd47+/+</text>
<text x="469.1" y="603.8" font-size="11.4" text-anchor="start" fill="#2f2bc0" stroke="#2f2bc0" font-style="italic" >Cd47-/-</text>
<path d="M577.30,587.00 V560.30 H587.80 V587.00" fill="#fff" stroke="#2a2a2a" stroke-width="1.25"/>
<path d="M591.10,587.00 V495.60 H601.50 V587.00" fill="#fff" stroke="#2a2a2a" stroke-width="1.25"/>
<path d="M604.70,587.00 V508.90 H615.10 V587.00" fill="#fff" stroke="#2a2a2a" stroke-width="1.25"/>
<path d="M621.20,587.00 V565.60 H631.50 V587.00" fill="#fff" stroke="#2a2a2a" stroke-width="1.25"/>
<path d="M635.40,587.00 V532.40 H645.60 V587.00" fill="#fff" stroke="#2a2a2a" stroke-width="1.25"/>
<path d="M649.00,587.00 V536.60 H659.40 V587.00" fill="#fff" stroke="#2a2a2a" stroke-width="1.25"/>
<line x1="574.00" y1="475.70" x2="574.00" y2="587.62" stroke="#2a2a2a" stroke-width="1.25" />
<line x1="569.30" y1="587.00" x2="662.80" y2="587.00" stroke="#2a2a2a" stroke-width="1.25" />
<line x1="569.50" y1="475.70" x2="574.00" y2="475.70" stroke="#2a2a2a" stroke-width="1.25" />
<text x="568.0" y="479.6" font-size="11" text-anchor="end" fill="#1a1a1a" stroke="#1a1a1a" >30000</text>
<line x1="569.50" y1="512.80" x2="574.00" y2="512.80" stroke="#2a2a2a" stroke-width="1.25" />
<text x="568.0" y="516.7" font-size="11" text-anchor="end" fill="#1a1a1a" stroke="#1a1a1a" >20000</text>
<line x1="569.50" y1="549.90" x2="574.00" y2="549.90" stroke="#2a2a2a" stroke-width="1.25" />
<text x="568.0" y="553.8" font-size="11" text-anchor="end" fill="#1a1a1a" stroke="#1a1a1a" >10000</text>
<line x1="569.50" y1="587.00" x2="574.00" y2="587.00" stroke="#2a2a2a" stroke-width="1.25" />
<text x="568.0" y="590.9" font-size="11" text-anchor="end" fill="#1a1a1a" stroke="#1a1a1a" >0</text>
<line x1="595.90" y1="587.00" x2="595.90" y2="591.80" stroke="#2a2a2a" stroke-width="1.25" />
<line x1="639.80" y1="587.00" x2="639.80" y2="591.80" stroke="#2a2a2a" stroke-width="1.25" />
<circle cx="581.90" cy="554.90" r="3.2" fill="#8a8a8a" stroke="#1c1c1c" stroke-width="1"/>
<circle cx="579.20" cy="558.30" r="3.2" fill="#8a8a8a" stroke="#1c1c1c" stroke-width="1"/>
<circle cx="584.40" cy="557.60" r="3.2" fill="#8a8a8a" stroke="#1c1c1c" stroke-width="1"/>
<circle cx="594.10" cy="495.60" r="3.2" fill="#6cc3f7" stroke="#0d2a8e" stroke-width="1"/>
<circle cx="596.10" cy="495.30" r="3.2" fill="#6cc3f7" stroke="#0d2a8e" stroke-width="1"/>
<circle cx="598.80" cy="495.60" r="3.2" fill="#6cc3f7" stroke="#0d2a8e" stroke-width="1"/>
<circle cx="608.60" cy="507.50" r="3.2" fill="#f8801c" stroke="#7d2400" stroke-width="1"/>
<circle cx="611.30" cy="506.20" r="3.2" fill="#f8801c" stroke="#7d2400" stroke-width="1"/>
<circle cx="607.90" cy="510.30" r="3.2" fill="#f8801c" stroke="#7d2400" stroke-width="1"/>
<circle cx="624.90" cy="564.00" r="3.2" fill="#8a8a8a" stroke="#1c1c1c" stroke-width="1"/>
<circle cx="626.90" cy="563.10" r="3.2" fill="#8a8a8a" stroke="#1c1c1c" stroke-width="1"/>
<circle cx="629.00" cy="564.00" r="3.2" fill="#8a8a8a" stroke="#1c1c1c" stroke-width="1"/>
<circle cx="639.80" cy="528.20" r="3.2" fill="#6cc3f7" stroke="#0d2a8e" stroke-width="1"/>
<circle cx="637.30" cy="531.60" r="3.2" fill="#6cc3f7" stroke="#0d2a8e" stroke-width="1"/>
<circle cx="642.80" cy="531.60" r="3.2" fill="#6cc3f7" stroke="#0d2a8e" stroke-width="1"/>
<circle cx="654.00" cy="531.60" r="3.2" fill="#f8801c" stroke="#7d2400" stroke-width="1"/>
<circle cx="651.50" cy="535.20" r="3.2" fill="#f8801c" stroke="#7d2400" stroke-width="1"/>
<circle cx="656.40" cy="535.20" r="3.2" fill="#f8801c" stroke="#7d2400" stroke-width="1"/>
<path d="M596.10,483.70 V475.80 H609.50 V483.70" fill="none" stroke="#2a2a2a" stroke-width="1.25"/>
<text x="580.9" y="469.5" font-size="11.2" text-anchor="start" fill="#1a1a1a" stroke="#1a1a1a" >0.000326</text>
<path d="M639.50,520.20 V465.70 H655.90 V520.20" fill="none" stroke="#2a2a2a" stroke-width="1.25"/>
<text x="625.6" y="459.3" font-size="11.2" text-anchor="start" fill="#1a1a1a" stroke="#1a1a1a" >0.058539</text>
<text transform="translate(531.0,530.5) rotate(-90)" font-size="12.5" text-anchor="middle" fill="#1a1a1a" stroke="#1a1a1a">IFNγ (MFI)</text>
<text x="540.6" y="603.8" font-size="11.4" text-anchor="start" fill="#1a1a1a" stroke="#1a1a1a" >OT-1:</text>
<text x="574.9" y="603.8" font-size="11.4" text-anchor="start" fill="#dc1f26" stroke="#dc1f26" font-style="italic" >Cd47+/+</text>
<text x="626.6" y="603.8" font-size="11.4" text-anchor="start" fill="#2f2bc0" stroke="#2f2bc0" font-style="italic" >Cd47-/-</text>
<circle cx="440.0" cy="9.5" r="4.7" fill="#8a8a8a" stroke="#1c1c1c" stroke-width="1.3"/>
<circle cx="496.7" cy="9.5" r="4.7" fill="#6cc3f7" stroke="#0d2a8e" stroke-width="1.3"/>
<circle cx="552.6" cy="9.5" r="4.7" fill="#f8801c" stroke="#7d2400" stroke-width="1.3"/>
<text x="447.4" y="13.8" font-size="11.9" text-anchor="start" fill="#1a1a1a" stroke="#1a1a1a" >-OVA</text>
<text x="505.0" y="13.8" font-size="11.9" text-anchor="start" fill="#1a1a1a" stroke="#1a1a1a" >+OVA</text>
<text x="560.6" y="13.8" font-size="11.9" text-anchor="start" fill="#1a1a1a" stroke="#1a1a1a" >+OVA +TSP-1</text>
<circle cx="434.3" cy="438.9" r="4.7" fill="#8a8a8a" stroke="#1c1c1c" stroke-width="1.3"/>
<circle cx="491.1" cy="438.9" r="4.7" fill="#6cc3f7" stroke="#0d2a8e" stroke-width="1.3"/>
<circle cx="547.6" cy="438.9" r="4.7" fill="#f8801c" stroke="#7d2400" stroke-width="1.3"/>
<text x="441.9" y="443.2" font-size="11.9" text-anchor="start" fill="#1a1a1a" stroke="#1a1a1a" >-OVA</text>
<text x="499.3" y="443.2" font-size="11.9" text-anchor="start" fill="#1a1a1a" stroke="#1a1a1a" >+OVA</text>
<text x="555.5" y="443.2" font-size="11.9" text-anchor="start" fill="#1a1a1a" stroke="#1a1a1a" >+OVA +TSP-1</text>
</svg></body></html>
